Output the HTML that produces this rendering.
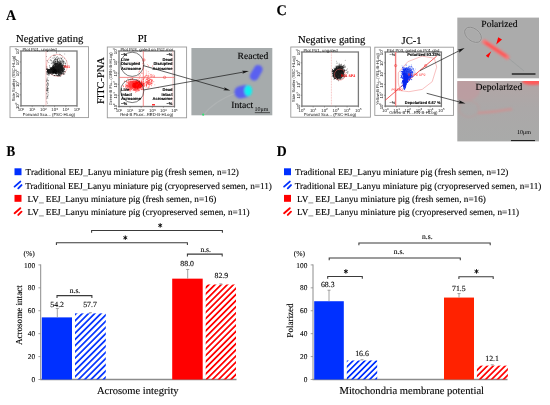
<!DOCTYPE html><html><head><meta charset="utf-8"><style>html,body{margin:0;padding:0;background:#fff;overflow:hidden}svg{display:block;will-change:transform}text{text-rendering:geometricPrecision}</style></head><body>
<svg width="550" height="405" viewBox="0 0 550 405">
<defs>
<pattern id="hb" patternUnits="userSpaceOnUse" width="4.4" height="10" patternTransform="translate(75.2,320.6) rotate(45)"><rect x="0" y="-1" width="0.85" height="12" fill="#0030ff"/><rect x="3.55" y="-1" width="0.85" height="12" fill="#0030ff"/></pattern>
<pattern id="hr" patternUnits="userSpaceOnUse" width="4.35" height="10" patternTransform="translate(209.2,284.3) rotate(45)"><rect x="0" y="-1" width="0.87" height="12" fill="#ff0000"/><rect x="3.48" y="-1" width="0.87" height="12" fill="#ff0000"/></pattern>
<pattern id="hb2" patternUnits="userSpaceOnUse" width="4.17" height="10" patternTransform="translate(347.5,360.4) rotate(45)"><rect x="0" y="-1" width="0.85" height="12" fill="#0030ff"/><rect x="3.32" y="-1" width="0.85" height="12" fill="#0030ff"/></pattern>
<pattern id="hr2" patternUnits="userSpaceOnUse" width="4.2" height="10" patternTransform="translate(481.6,365.7) rotate(45)"><rect x="0" y="-1" width="0.87" height="12" fill="#ff0000"/><rect x="3.33" y="-1" width="0.87" height="12" fill="#ff0000"/></pattern>
<filter id="blur1" x="-50%" y="-50%" width="200%" height="200%"><feGaussianBlur stdDeviation="1.2"/></filter>
<filter id="blur05" x="-50%" y="-50%" width="200%" height="200%"><feGaussianBlur stdDeviation="0.7"/></filter><filter id="blurc" x="-50%" y="-50%" width="200%" height="200%"><feGaussianBlur stdDeviation="1.1"/></filter>
<filter id="blur03" x="-50%" y="-50%" width="200%" height="200%"><feGaussianBlur stdDeviation="0.35"/></filter>
<clipPath id="clA"><rect x="191.4" y="48" width="80.6" height="67.5"/></clipPath>
<clipPath id="clP"><rect x="457.3" y="17.6" width="81.7" height="60.7"/></clipPath>
<clipPath id="clD"><rect x="457.3" y="81" width="81.7" height="60.4"/></clipPath>
</defs>
<rect width="550" height="405" fill="#fff"/>
<text x="0" y="0" transform="translate(5.9,20) scale(0.95,1)" font-size="14.8" font-weight="bold" fill="#000" stroke="#000" stroke-width="0.15" font-family='"Liberation Serif", serif'>A</text>
<text x="0" y="0" transform="translate(276.6,15.4) scale(0.96,1)" font-size="14.8" font-weight="bold" fill="#000" stroke="#000" stroke-width="0.15" font-family='"Liberation Serif", serif'>C</text>
<text x="0" y="0" transform="translate(6.6,155.5) scale(0.88,1)" font-size="14.8" font-weight="bold" fill="#000" stroke="#000" stroke-width="0.15" font-family='"Liberation Serif", serif'>B</text>
<text x="0" y="0" transform="translate(276.8,155.6) scale(0.93,1)" font-size="14.8" font-weight="bold" fill="#000" stroke="#000" stroke-width="0.15" font-family='"Liberation Serif", serif'>D</text>
<text x="16" y="42" font-size="10.6" text-anchor="start" font-weight="normal" fill="#000" stroke="#000" stroke-width="0.15" font-family='"Liberation Serif", serif' >Negative gating</text>
<rect x="10" y="46.7" width="78.50" height="70.90" fill="#fff" stroke="#9a9a9a" stroke-width="0.9" />
<rect x="21" y="51" width="56.00" height="54.80" fill="#fff" stroke="#7a7a7a" stroke-width="1.3" />
<text x="22.5" y="50.5" font-size="4.3" text-anchor="start" font-weight="normal" fill="#111" font-family='"Liberation Sans", sans-serif' >Plot P01, ungated</text>
<line x1="21.0" y1="105.8" x2="21.0" y2="107.1" stroke="#555" stroke-width="0.5" />
<text x="21.0" y="111.39999999999999" font-size="4.4" text-anchor="middle" font-weight="normal" fill="#222" font-family='"Liberation Sans", sans-serif' >10<tspan font-size="3.0" dy="-1.6">0</tspan></text>
<line x1="32.2" y1="105.8" x2="32.2" y2="107.1" stroke="#555" stroke-width="0.5" />
<text x="32.2" y="111.39999999999999" font-size="4.4" text-anchor="middle" font-weight="normal" fill="#222" font-family='"Liberation Sans", sans-serif' >10<tspan font-size="3.0" dy="-1.6">1</tspan></text>
<line x1="43.4" y1="105.8" x2="43.4" y2="107.1" stroke="#555" stroke-width="0.5" />
<text x="43.4" y="111.39999999999999" font-size="4.4" text-anchor="middle" font-weight="normal" fill="#222" font-family='"Liberation Sans", sans-serif' >10<tspan font-size="3.0" dy="-1.6">2</tspan></text>
<line x1="54.6" y1="105.8" x2="54.6" y2="107.1" stroke="#555" stroke-width="0.5" />
<text x="54.6" y="111.39999999999999" font-size="4.4" text-anchor="middle" font-weight="normal" fill="#222" font-family='"Liberation Sans", sans-serif' >10<tspan font-size="3.0" dy="-1.6">3</tspan></text>
<line x1="65.8" y1="105.8" x2="65.8" y2="107.1" stroke="#555" stroke-width="0.5" />
<text x="65.8" y="111.39999999999999" font-size="4.4" text-anchor="middle" font-weight="normal" fill="#222" font-family='"Liberation Sans", sans-serif' >10<tspan font-size="3.0" dy="-1.6">4</tspan></text>
<line x1="77.0" y1="105.8" x2="77.0" y2="107.1" stroke="#555" stroke-width="0.5" />
<text x="77.0" y="111.39999999999999" font-size="4.4" text-anchor="middle" font-weight="normal" fill="#222" font-family='"Liberation Sans", sans-serif' >10<tspan font-size="3.0" dy="-1.6">5</tspan></text>
<line x1="19.7" y1="105.8" x2="21" y2="105.8" stroke="#555" stroke-width="0.5" />
<text x="0" y="0" transform="translate(18.7,105.8) rotate(-90)" font-size="4.3" text-anchor="middle" font-weight="normal" fill="#222" font-family='"Liberation Sans", sans-serif'>10<tspan font-size="3.0" dy="-1.6">0</tspan></text>
<line x1="19.7" y1="94.84" x2="21" y2="94.84" stroke="#555" stroke-width="0.5" />
<text x="0" y="0" transform="translate(18.7,94.84) rotate(-90)" font-size="4.3" text-anchor="middle" font-weight="normal" fill="#222" font-family='"Liberation Sans", sans-serif'>10<tspan font-size="3.0" dy="-1.6">1</tspan></text>
<line x1="19.7" y1="83.88" x2="21" y2="83.88" stroke="#555" stroke-width="0.5" />
<text x="0" y="0" transform="translate(18.7,83.88) rotate(-90)" font-size="4.3" text-anchor="middle" font-weight="normal" fill="#222" font-family='"Liberation Sans", sans-serif'>10<tspan font-size="3.0" dy="-1.6">2</tspan></text>
<line x1="19.7" y1="72.92" x2="21" y2="72.92" stroke="#555" stroke-width="0.5" />
<text x="0" y="0" transform="translate(18.7,72.92) rotate(-90)" font-size="4.3" text-anchor="middle" font-weight="normal" fill="#222" font-family='"Liberation Sans", sans-serif'>10<tspan font-size="3.0" dy="-1.6">3</tspan></text>
<line x1="19.7" y1="61.96" x2="21" y2="61.96" stroke="#555" stroke-width="0.5" />
<text x="0" y="0" transform="translate(18.7,61.96) rotate(-90)" font-size="4.3" text-anchor="middle" font-weight="normal" fill="#222" font-family='"Liberation Sans", sans-serif'>10<tspan font-size="3.0" dy="-1.6">4</tspan></text>
<line x1="19.7" y1="51.0" x2="21" y2="51.0" stroke="#555" stroke-width="0.5" />
<text x="0" y="0" transform="translate(18.7,51.0) rotate(-90)" font-size="4.3" text-anchor="middle" font-weight="normal" fill="#222" font-family='"Liberation Sans", sans-serif'>10<tspan font-size="3.0" dy="-1.6">5</tspan></text>
<text x="49.0" y="116.0" font-size="4.3" text-anchor="middle" font-weight="normal" fill="#111" font-family='"Liberation Sans", sans-serif' >Forward Sca... (FSC-HLog)</text>
<text x="0" y="0" transform="translate(14.5,78.4) rotate(-90)" font-size="4.1" text-anchor="middle" font-weight="normal" fill="#111" font-family='"Liberation Sans", sans-serif'>Side Scatter (SSC-HLog)</text>
<line x1="46" y1="51" x2="46" y2="105.8" stroke="#f0a0a0" stroke-width="0.6" />
<ellipse cx="57" cy="65.4" rx="10.5" ry="11" fill="none" stroke="#f48a8a" stroke-width="0.5"/>
<path d="M57.1,70.2h0.8M57.2,67.9h0.8M55.4,68.2h0.8M60.7,69.9h0.8M60.5,69.5h0.8M58.8,69.3h0.8M53.5,71.1h0.8M59.1,70.1h0.8M53.4,64.1h0.8M55.5,67.5h0.8M58.6,68.7h0.8M59.2,67.1h0.8M58.6,69.9h0.8M56.1,73.4h0.8M59.2,72.0h0.8M56.2,66.8h0.8M56.9,68.5h0.8M59.4,69.5h0.8M56.6,66.2h0.8M56.4,72.1h0.8M55.7,69.5h0.8M58.9,64.8h0.8M57.9,72.3h0.8M52.6,67.9h0.8M57.5,66.6h0.8M59.1,68.6h0.8M54.0,71.0h0.8M59.5,71.4h0.8M61.5,69.8h0.8M58.1,65.3h0.8M59.4,67.1h0.8M56.6,65.4h0.8M55.3,67.4h0.8M61.2,63.3h0.8M54.0,69.4h0.8M61.6,70.4h0.8M52.9,62.0h0.8M58.7,66.8h0.8M54.9,71.4h0.8M60.7,69.2h0.8M58.4,70.0h0.8M61.9,70.5h0.8M59.1,70.3h0.8M53.7,72.3h0.8M60.3,70.2h0.8M52.7,67.1h0.8M60.0,63.9h0.8M57.3,71.6h0.8M54.4,73.1h0.8M59.2,68.4h0.8M58.6,70.6h0.8M58.1,71.9h0.8M56.1,67.7h0.8M60.5,68.9h0.8M55.5,71.4h0.8M61.6,67.6h0.8M54.2,68.4h0.8M57.4,68.0h0.8M61.5,66.0h0.8M61.1,65.4h0.8M55.8,70.5h0.8M60.7,71.1h0.8M58.7,69.2h0.8M58.2,70.4h0.8M57.3,69.5h0.8M59.3,68.8h0.8M59.8,70.3h0.8M63.0,69.7h0.8M56.7,67.8h0.8M57.8,71.3h0.8M56.9,69.8h0.8M62.6,61.9h0.8M54.9,69.5h0.8M58.8,69.4h0.8M56.7,70.6h0.8M58.5,67.4h0.8M64.1,69.8h0.8M56.4,68.5h0.8M57.2,68.6h0.8M50.7,67.5h0.8M60.4,65.6h0.8M57.6,71.4h0.8M60.0,72.8h0.8M53.4,67.8h0.8M56.9,70.5h0.8M60.6,61.6h0.8M60.6,64.9h0.8M59.6,64.8h0.8M58.3,72.0h0.8M57.4,69.3h0.8M59.9,69.2h0.8M57.6,72.9h0.8M60.5,68.0h0.8M64.9,65.7h0.8M60.2,68.1h0.8M58.1,70.7h0.8M58.4,70.5h0.8M53.8,64.7h0.8M59.4,66.2h0.8M55.1,64.8h0.8M61.1,70.8h0.8M61.6,66.3h0.8M57.8,65.7h0.8M59.8,73.1h0.8M55.5,73.0h0.8M60.4,68.3h0.8M52.7,72.6h0.8M57.5,67.2h0.8M58.8,69.9h0.8M61.7,66.0h0.8M60.8,72.8h0.8M61.6,68.3h0.8M55.9,71.6h0.8M58.1,69.1h0.8M61.5,68.1h0.8M51.8,67.8h0.8M53.0,71.0h0.8M58.6,67.1h0.8M57.8,71.0h0.8M58.0,72.4h0.8M57.6,71.6h0.8M61.7,73.1h0.8M56.1,71.2h0.8M52.9,65.9h0.8M52.7,71.7h0.8M54.6,68.8h0.8M57.3,68.7h0.8M56.3,69.4h0.8M62.5,68.9h0.8M59.2,71.5h0.8M57.3,65.4h0.8M56.4,71.7h0.8M53.5,67.2h0.8M60.4,70.9h0.8M57.8,71.0h0.8M58.2,65.6h0.8M53.7,67.1h0.8M60.2,67.3h0.8M55.5,66.7h0.8M53.8,68.5h0.8M54.7,69.8h0.8M51.7,69.7h0.8M56.1,63.6h0.8M59.7,68.1h0.8M52.0,66.4h0.8M58.6,67.6h0.8M59.8,70.8h0.8M59.5,69.7h0.8M61.3,70.6h0.8M59.0,63.2h0.8M60.1,72.3h0.8M57.0,67.5h0.8M62.8,64.1h0.8M59.0,75.3h0.8M55.4,70.7h0.8M62.7,68.5h0.8M59.3,71.2h0.8M55.4,68.6h0.8M58.6,71.0h0.8M57.7,68.3h0.8M55.2,67.8h0.8M60.1,69.1h0.8M55.6,66.5h0.8M64.7,71.9h0.8M59.5,61.8h0.8M59.4,70.1h0.8M62.2,70.0h0.8M57.6,70.2h0.8M52.7,71.6h0.8M58.6,66.9h0.8M61.2,73.7h0.8M54.2,67.0h0.8M58.6,69.3h0.8M56.8,66.2h0.8M63.3,71.6h0.8M54.7,65.2h0.8M62.2,71.5h0.8M62.5,71.0h0.8M55.5,69.5h0.8M52.2,66.8h0.8M57.6,70.2h0.8M55.9,68.5h0.8M59.0,69.8h0.8M59.5,69.4h0.8M57.0,70.9h0.8M57.9,66.6h0.8M56.2,68.8h0.8M57.5,69.2h0.8M57.8,69.3h0.8M57.5,65.4h0.8M58.9,71.6h0.8M58.9,68.3h0.8M59.0,66.2h0.8M52.9,69.0h0.8M55.4,70.8h0.8M55.0,61.7h0.8M55.1,73.1h0.8M56.8,65.1h0.8M55.8,70.2h0.8M59.1,69.3h0.8M61.7,70.7h0.8M57.7,70.4h0.8M62.1,71.4h0.8M60.5,65.9h0.8M57.4,70.8h0.8M57.0,71.7h0.8M59.4,71.3h0.8M57.2,75.7h0.8M61.0,68.2h0.8M58.0,75.8h0.8M56.9,71.2h0.8M60.3,68.8h0.8M54.8,69.3h0.8M58.7,71.9h0.8M59.8,68.9h0.8M60.0,70.3h0.8M58.3,68.9h0.8M57.2,70.7h0.8M55.1,67.1h0.8M57.8,64.8h0.8M56.7,63.4h0.8M56.0,70.3h0.8M59.3,68.7h0.8M57.2,65.0h0.8M62.6,70.2h0.8M60.6,66.4h0.8M57.3,63.9h0.8M59.8,71.3h0.8M52.9,68.7h0.8M59.4,64.0h0.8M53.1,65.9h0.8M56.2,65.0h0.8M57.9,69.5h0.8M59.4,70.7h0.8M61.7,71.9h0.8M54.4,67.4h0.8M55.0,65.9h0.8M57.6,68.8h0.8M59.1,64.5h0.8M54.6,68.7h0.8M57.3,68.0h0.8M57.6,66.7h0.8M59.6,69.8h0.8M57.6,67.0h0.8M57.3,61.5h0.8M55.2,68.9h0.8M53.9,69.3h0.8M58.2,65.1h0.8M57.1,68.0h0.8M59.0,70.5h0.8M57.7,66.5h0.8M57.4,68.6h0.8M59.7,69.6h0.8M55.9,65.1h0.8M56.8,66.8h0.8M54.9,68.5h0.8M56.5,69.1h0.8M59.2,67.7h0.8M63.8,67.9h0.8M60.7,69.1h0.8M60.7,62.4h0.8M55.8,69.5h0.8M59.4,75.1h0.8M58.6,72.3h0.8M59.8,71.4h0.8M59.1,68.4h0.8M59.1,65.9h0.8M60.9,66.1h0.8M58.4,74.5h0.8M57.2,68.9h0.8M60.8,68.9h0.8M55.7,69.5h0.8M59.3,70.7h0.8M55.8,73.5h0.8M62.1,68.8h0.8M58.5,67.6h0.8M61.5,66.9h0.8M59.6,67.5h0.8M56.0,70.7h0.8M61.3,68.8h0.8M56.0,71.0h0.8M57.7,69.6h0.8M61.8,71.9h0.8M56.4,75.0h0.8M57.8,70.9h0.8M56.1,68.7h0.8M53.3,73.6h0.8M61.4,65.5h0.8M53.9,64.4h0.8M60.9,67.6h0.8M57.6,68.0h0.8M57.5,65.9h0.8M57.9,64.9h0.8M57.6,69.6h0.8M59.0,68.2h0.8M55.5,69.2h0.8M56.5,73.0h0.8M59.8,68.5h0.8M56.6,66.9h0.8M55.4,67.8h0.8M58.6,70.2h0.8M59.3,74.5h0.8M56.0,68.8h0.8M65.1,63.8h0.8M56.4,69.3h0.8M58.2,69.9h0.8M57.2,69.8h0.8M57.9,70.9h0.8M52.9,66.4h0.8M57.8,66.0h0.8M55.1,70.5h0.8M56.1,70.5h0.8M59.7,69.6h0.8M59.1,68.5h0.8M54.1,68.7h0.8M59.0,67.4h0.8M57.5,70.8h0.8M55.5,70.5h0.8M62.6,67.3h0.8M58.2,68.4h0.8M61.8,69.7h0.8M60.1,66.9h0.8M57.8,68.8h0.8M53.2,72.7h0.8M60.1,64.1h0.8M59.7,68.4h0.8M59.0,69.8h0.8M53.9,68.2h0.8M61.7,67.2h0.8M55.1,65.1h0.8M54.6,69.7h0.8M62.2,70.0h0.8M58.4,74.8h0.8M56.4,67.0h0.8M59.2,70.3h0.8M55.2,65.6h0.8M58.6,69.5h0.8M54.4,68.3h0.8M56.4,70.0h0.8M57.5,68.6h0.8M56.9,71.6h0.8M61.4,67.8h0.8M60.0,66.8h0.8M58.0,70.8h0.8M61.7,67.8h0.8M57.6,69.3h0.8M53.9,68.8h0.8M56.0,69.8h0.8M54.9,63.5h0.8M57.9,69.5h0.8M56.4,71.2h0.8M57.1,67.2h0.8M59.0,64.6h0.8M56.0,68.7h0.8M60.0,68.4h0.8M58.6,67.0h0.8M58.6,73.3h0.8M56.0,75.2h0.8M56.1,68.8h0.8M58.3,71.6h0.8M54.6,63.1h0.8M59.4,70.9h0.8M59.4,75.9h0.8M58.3,69.5h0.8M60.2,69.8h0.8M62.1,65.5h0.8M56.8,59.5h0.8M59.9,67.8h0.8M60.2,74.6h0.8M57.8,68.1h0.8M56.5,66.5h0.8M56.2,70.5h0.8M57.9,69.0h0.8M57.3,71.3h0.8M59.1,68.4h0.8M59.5,68.4h0.8M54.8,72.7h0.8M59.0,66.2h0.8M60.6,69.7h0.8M53.7,73.1h0.8M58.7,71.2h0.8M58.3,68.4h0.8M53.8,71.4h0.8M57.9,68.0h0.8M58.7,69.0h0.8M59.6,67.8h0.8M57.7,63.0h0.8M56.7,70.6h0.8M61.3,67.8h0.8M57.5,73.1h0.8M57.0,70.8h0.8M62.2,68.9h0.8M61.0,66.9h0.8M58.3,68.6h0.8M58.1,71.9h0.8M64.0,67.0h0.8M56.3,70.1h0.8M55.1,70.1h0.8M59.3,68.1h0.8M59.2,64.6h0.8M59.8,64.6h0.8M56.0,67.3h0.8M56.8,71.1h0.8M58.0,67.7h0.8M59.2,73.1h0.8M57.8,69.8h0.8M61.0,69.5h0.8M54.5,75.5h0.8M63.5,63.4h0.8M57.7,69.9h0.8M60.3,70.6h0.8M57.1,66.0h0.8M58.1,71.6h0.8M55.0,66.0h0.8M57.7,63.6h0.8M57.1,67.6h0.8M59.0,66.9h0.8M55.5,67.7h0.8M57.7,67.0h0.8M57.8,70.8h0.8M60.9,73.4h0.8M55.8,67.7h0.8M51.3,73.9h0.8M55.9,68.7h0.8M59.2,65.1h0.8M59.0,68.7h0.8M53.1,69.6h0.8M60.9,63.8h0.8M59.9,69.4h0.8M59.0,70.0h0.8M61.2,68.2h0.8M60.1,67.7h0.8M59.7,66.6h0.8M57.5,73.5h0.8M59.0,68.4h0.8M54.8,66.7h0.8M58.3,71.3h0.8M58.9,70.2h0.8M57.7,72.5h0.8M56.8,67.3h0.8M60.1,69.0h0.8M57.1,67.2h0.8M57.1,70.5h0.8M58.7,65.5h0.8M58.9,69.3h0.8M55.2,70.9h0.8M57.1,67.9h0.8M59.9,72.4h0.8M56.0,70.0h0.8M55.5,75.0h0.8M56.5,72.0h0.8M56.1,71.0h0.8M63.6,61.9h0.8M56.7,70.2h0.8M57.6,67.0h0.8M63.4,69.0h0.8M53.5,71.1h0.8M53.3,71.9h0.8M56.3,69.2h0.8M61.1,69.1h0.8M54.2,64.2h0.8M60.9,70.8h0.8M55.7,71.1h0.8M59.1,70.5h0.8M51.9,68.0h0.8M60.1,70.8h0.8M60.1,62.2h0.8M58.2,70.1h0.8M64.4,66.2h0.8M56.9,68.9h0.8M60.1,67.6h0.8M60.8,66.7h0.8M58.5,67.4h0.8M58.2,66.9h0.8M53.6,71.8h0.8M58.6,67.3h0.8M58.3,71.5h0.8M55.3,68.5h0.8M59.2,70.2h0.8M56.9,63.1h0.8M61.0,69.7h0.8M57.8,68.0h0.8M58.5,67.7h0.8M55.1,66.8h0.8M56.2,67.1h0.8M54.8,70.5h0.8M54.4,70.6h0.8M55.2,69.8h0.8M61.4,69.3h0.8M55.9,68.9h0.8M58.2,64.1h0.8M56.2,69.2h0.8M56.6,69.0h0.8M59.7,70.9h0.8M60.2,70.4h0.8M57.1,68.8h0.8M57.1,68.0h0.8M57.3,64.1h0.8M56.9,68.7h0.8M55.3,68.7h0.8M59.1,68.4h0.8M63.2,61.8h0.8M57.3,63.9h0.8M60.3,76.0h0.8M51.3,69.1h0.8M59.1,68.0h0.8M59.2,62.7h0.8M60.0,69.8h0.8M57.9,67.2h0.8M59.5,67.5h0.8M58.4,67.4h0.8M52.0,68.7h0.8M58.3,70.8h0.8M55.5,68.7h0.8M59.4,69.2h0.8M61.0,74.2h0.8M55.4,63.6h0.8M60.0,72.9h0.8M60.2,71.0h0.8M56.2,66.9h0.8M60.1,66.3h0.8M53.1,66.1h0.8M64.3,74.0h0.8M56.0,66.8h0.8M58.4,66.8h0.8M61.2,68.6h0.8M55.0,72.3h0.8M56.3,69.4h0.8M57.8,68.0h0.8M58.6,66.9h0.8M53.0,62.8h0.8M54.5,66.8h0.8M57.7,68.9h0.8M59.2,69.1h0.8M55.7,66.9h0.8M52.3,68.3h0.8M59.1,70.2h0.8M57.5,68.3h0.8M60.2,68.8h0.8M59.7,70.4h0.8M58.4,72.3h0.8M56.3,67.8h0.8M55.7,66.6h0.8M61.8,73.6h0.8M57.9,70.3h0.8M60.9,71.0h0.8M60.9,65.4h0.8M56.1,70.0h0.8M61.5,69.1h0.8M55.6,67.8h0.8M56.1,66.5h0.8M61.7,67.1h0.8M57.9,74.6h0.8M60.9,69.7h0.8M56.2,69.9h0.8M62.0,70.5h0.8M61.1,69.1h0.8M59.1,68.3h0.8M58.9,72.3h0.8M54.1,68.6h0.8M58.4,67.3h0.8M57.0,70.9h0.8M63.0,70.5h0.8M58.6,64.6h0.8M62.8,69.0h0.8M57.7,65.8h0.8M57.7,65.8h0.8M58.0,70.1h0.8M57.9,69.6h0.8M55.6,72.7h0.8M56.1,63.9h0.8M57.3,66.7h0.8M55.2,67.8h0.8M58.6,65.6h0.8M57.4,72.7h0.8M59.6,68.4h0.8M58.1,68.5h0.8M57.7,70.8h0.8M57.6,62.3h0.8M57.7,66.4h0.8M59.5,67.2h0.8M58.2,74.7h0.8M55.1,65.8h0.8M54.1,62.3h0.8M52.9,69.8h0.8M56.1,63.8h0.8M53.9,70.5h0.8M55.8,67.8h0.8M58.7,72.5h0.8M62.8,71.6h0.8M58.2,69.3h0.8M62.5,72.7h0.8M57.0,70.0h0.8M58.5,68.9h0.8M56.5,65.2h0.8M56.4,64.6h0.8M61.0,70.2h0.8M54.7,72.6h0.8M60.1,63.6h0.8M62.6,71.0h0.8M63.2,65.5h0.8M59.2,69.9h0.8M58.3,69.3h0.8M60.5,64.8h0.8M54.6,65.0h0.8M56.4,67.2h0.8M58.8,69.5h0.8M57.9,67.0h0.8M56.7,71.4h0.8M59.8,69.1h0.8M57.0,73.0h0.8M56.3,70.6h0.8M60.8,68.1h0.8M59.9,65.8h0.8M60.4,69.3h0.8M53.7,70.6h0.8M55.5,72.3h0.8M56.0,68.4h0.8M58.5,67.9h0.8M58.5,67.3h0.8M59.5,68.8h0.8M58.3,61.4h0.8M60.8,68.9h0.8M53.2,69.1h0.8M59.0,71.7h0.8M55.0,73.0h0.8M57.4,75.3h0.8M57.4,70.6h0.8M56.8,65.8h0.8M60.7,71.2h0.8M61.8,71.1h0.8M56.3,64.3h0.8M56.1,67.0h0.8M55.7,70.4h0.8M58.7,68.1h0.8M58.2,68.4h0.8M58.4,70.8h0.8M60.3,66.9h0.8M53.9,72.7h0.8M58.1,71.8h0.8M53.5,67.9h0.8M57.9,64.9h0.8M56.5,70.8h0.8M60.6,73.1h0.8M55.6,65.0h0.8M59.2,71.3h0.8M58.3,65.3h0.8M59.8,70.9h0.8M59.2,67.5h0.8M58.6,70.9h0.8M56.3,63.8h0.8M58.7,70.1h0.8M57.8,71.2h0.8M56.3,68.6h0.8M57.0,70.3h0.8M61.9,68.1h0.8M63.1,72.9h0.8M59.9,70.4h0.8M62.4,68.3h0.8M57.5,65.9h0.8M59.0,72.4h0.8M59.2,69.9h0.8M57.3,69.3h0.8M54.1,71.6h0.8M56.7,65.8h0.8M55.8,66.6h0.8M60.0,71.7h0.8M54.3,71.3h0.8M60.1,67.2h0.8M53.9,66.8h0.8M56.2,69.7h0.8M56.9,63.3h0.8M58.4,64.7h0.8M60.2,65.5h0.8M56.0,66.5h0.8M56.4,72.3h0.8M60.0,70.4h0.8M58.6,64.6h0.8M56.4,67.3h0.8M55.3,70.2h0.8M55.9,66.9h0.8M55.1,63.2h0.8M59.3,72.4h0.8M58.3,66.2h0.8M50.8,69.3h0.8M61.0,69.6h0.8M60.2,72.8h0.8M60.7,67.6h0.8M60.5,70.9h0.8M53.8,67.7h0.8M54.1,68.5h0.8M59.3,65.9h0.8M52.5,72.3h0.8M58.8,72.8h0.8M54.4,71.7h0.8M63.2,74.2h0.8M57.3,69.5h0.8M57.4,71.5h0.8M60.5,69.0h0.8M54.3,70.8h0.8M56.6,70.5h0.8M58.5,73.2h0.8M60.8,67.6h0.8M58.7,73.6h0.8M56.4,70.0h0.8M60.9,72.2h0.8M59.1,65.2h0.8M54.5,69.5h0.8M58.8,75.7h0.8M55.6,71.9h0.8M59.8,64.3h0.8M55.7,69.2h0.8M56.5,68.4h0.8M59.0,66.6h0.8M59.0,67.1h0.8M56.4,70.2h0.8M56.3,69.6h0.8M62.0,68.9h0.8M57.4,70.8h0.8M56.8,71.7h0.8M54.5,70.5h0.8M56.5,66.6h0.8M62.4,66.5h0.8M62.4,70.6h0.8M61.6,66.2h0.8M60.9,72.7h0.8M57.5,68.5h0.8M64.2,69.3h0.8M56.7,67.1h0.8M59.0,69.7h0.8M58.3,73.4h0.8M56.9,70.1h0.8M61.6,66.1h0.8M60.5,73.7h0.8M54.3,65.8h0.8M55.1,63.8h0.8M59.0,63.8h0.8M59.1,72.7h0.8M53.6,67.9h0.8M52.8,70.9h0.8M55.9,68.1h0.8M57.9,70.3h0.8M56.9,68.8h0.8M56.4,69.1h0.8M54.8,69.0h0.8M52.8,67.5h0.8M62.8,69.0h0.8M54.5,69.5h0.8M55.3,64.3h0.8M55.9,70.8h0.8M58.8,68.5h0.8M55.4,65.9h0.8M61.3,69.5h0.8M55.3,63.1h0.8M54.2,75.5h0.8M54.8,68.6h0.8M58.3,68.4h0.8M57.1,65.1h0.8M55.1,73.4h0.8M55.8,71.1h0.8M53.4,68.1h0.8M58.5,71.6h0.8M54.9,70.4h0.8M58.8,66.8h0.8M59.0,66.4h0.8M55.7,68.7h0.8M50.7,68.5h0.8M55.2,64.9h0.8M56.7,70.9h0.8M56.7,72.2h0.8M54.8,65.3h0.8M61.8,69.9h0.8M60.3,66.6h0.8M59.9,69.5h0.8M59.5,68.9h0.8M60.9,67.0h0.8M55.3,64.8h0.8M60.8,66.8h0.8M55.1,66.3h0.8M56.6,65.4h0.8M57.0,67.1h0.8M56.4,66.2h0.8M57.9,67.6h0.8M58.1,69.5h0.8M58.7,62.9h0.8M56.4,66.7h0.8M59.8,64.5h0.8M55.9,68.0h0.8M56.9,71.5h0.8M56.6,71.4h0.8M54.0,63.9h0.8M61.0,70.0h0.8M59.1,69.1h0.8M59.1,65.5h0.8M60.3,67.4h0.8M60.4,69.0h0.8M52.7,65.3h0.8M60.7,68.4h0.8M56.8,69.5h0.8M56.7,67.3h0.8M58.1,69.2h0.8M61.7,68.9h0.8M62.7,73.7h0.8M62.3,71.7h0.8M58.1,69.2h0.8M57.4,66.8h0.8M57.6,67.1h0.8M62.1,70.2h0.8M56.6,63.6h0.8M57.7,67.7h0.8M55.0,65.7h0.8M51.9,70.3h0.8M57.6,75.8h0.8M57.7,68.4h0.8M61.6,69.2h0.8M58.2,67.8h0.8M56.2,72.8h0.8M60.4,73.4h0.8M56.9,68.9h0.8M55.5,71.4h0.8M54.2,70.3h0.8M60.6,72.6h0.8M55.4,71.7h0.8M55.9,66.8h0.8M54.4,71.9h0.8M62.1,67.2h0.8M55.8,67.9h0.8M64.3,71.5h0.8M56.4,64.0h0.8M56.1,72.0h0.8M62.7,68.1h0.8M56.0,67.4h0.8M52.9,71.3h0.8M55.0,71.7h0.8M53.4,65.4h0.8M58.5,66.7h0.8M59.8,68.8h0.8M54.7,70.5h0.8M60.0,63.6h0.8M62.5,70.1h0.8M59.8,63.8h0.8M55.9,67.9h0.8M60.6,64.9h0.8M55.5,63.3h0.8M57.2,69.7h0.8M53.4,67.2h0.8M59.1,73.1h0.8M59.5,68.0h0.8M54.7,66.3h0.8M56.1,69.2h0.8" stroke="#000" stroke-width="0.84" opacity="0.9"/>
<path d="M50.4,73.1h0.8M51.2,69.3h0.8M54.5,72.1h0.8M50.8,69.8h0.8M52.9,69.7h0.8M47.1,71.1h0.8M51.1,71.6h0.8M52.2,72.8h0.8M48.3,72.2h0.8M47.9,71.8h0.8M51.0,71.1h0.8M53.0,70.8h0.8M53.4,72.0h0.8M50.9,70.0h0.8M48.5,70.1h0.8M50.0,70.8h0.8M58.3,71.7h0.8M52.5,69.6h0.8M48.7,70.4h0.8M51.0,69.3h0.8M54.7,70.0h0.8M53.3,67.5h0.8M50.5,71.2h0.8M51.0,71.6h0.8M51.2,71.0h0.8M51.3,70.5h0.8M48.4,70.0h0.8M55.3,73.2h0.8M50.3,72.6h0.8M46.4,68.1h0.8M49.2,69.6h0.8M49.0,71.1h0.8M58.4,69.9h0.8M50.6,71.2h0.8M50.4,72.1h0.8M55.1,69.1h0.8M50.9,70.4h0.8M51.4,68.7h0.8M51.9,71.1h0.8M50.7,67.5h0.8M49.5,69.7h0.8M46.8,69.5h0.8M52.3,71.6h0.8M50.4,71.5h0.8M48.9,70.9h0.8M50.6,71.6h0.8M50.3,70.6h0.8M50.1,69.9h0.8M56.3,71.5h0.8M51.6,74.0h0.8M54.1,68.6h0.8M52.3,72.0h0.8M55.4,72.6h0.8M52.5,69.2h0.8M48.2,71.2h0.8M51.8,69.4h0.8M49.5,70.2h0.8M50.7,71.3h0.8M49.8,69.1h0.8M53.7,73.0h0.8M50.2,72.2h0.8M51.7,71.7h0.8M51.8,69.7h0.8M52.0,72.2h0.8M48.2,73.6h0.8M55.9,73.4h0.8M55.7,71.8h0.8M49.6,70.0h0.8M48.4,71.0h0.8M50.4,71.7h0.8M56.4,70.8h0.8M52.3,71.5h0.8M51.2,70.5h0.8M50.2,69.6h0.8M51.0,70.8h0.8M51.3,69.6h0.8M50.6,70.9h0.8M52.1,69.3h0.8M51.6,72.2h0.8M52.1,70.3h0.8M49.2,70.5h0.8M52.4,73.0h0.8M50.1,69.9h0.8M51.5,71.1h0.8M48.1,69.8h0.8M50.2,71.7h0.8M47.4,69.4h0.8M51.8,69.1h0.8M50.8,71.3h0.8M50.2,69.4h0.8M50.3,70.3h0.8M51.4,69.6h0.8M53.3,68.5h0.8M50.0,70.8h0.8M53.0,69.9h0.8M51.9,70.0h0.8M52.4,73.2h0.8M49.5,71.4h0.8M48.1,72.2h0.8M53.6,70.8h0.8M47.5,71.4h0.8M53.5,72.3h0.8M52.6,68.2h0.8M48.7,72.8h0.8M47.3,72.4h0.8M55.4,71.9h0.8M53.4,70.3h0.8M47.3,70.7h0.8M50.0,70.7h0.8M52.3,70.6h0.8M51.0,71.4h0.8M50.5,73.4h0.8M51.7,70.9h0.8M50.0,69.9h0.8M54.0,71.0h0.8M47.7,70.0h0.8M50.1,70.2h0.8M53.3,69.2h0.8M51.8,71.0h0.8M47.4,70.9h0.8M50.3,71.5h0.8M49.3,71.2h0.8M46.2,69.3h0.8M52.5,72.3h0.8M50.5,70.0h0.8M53.3,67.9h0.8M48.4,71.7h0.8M52.2,69.4h0.8M50.9,69.5h0.8M50.6,72.1h0.8M52.4,67.9h0.8M52.5,68.3h0.8M53.5,71.4h0.8M56.4,69.9h0.8M50.5,72.3h0.8M48.8,69.8h0.8M49.5,70.7h0.8M47.7,71.5h0.8M51.9,70.9h0.8M54.9,70.3h0.8M53.9,70.0h0.8M52.5,68.1h0.8M51.0,70.6h0.8M49.2,69.9h0.8M49.6,69.8h0.8M49.1,70.1h0.8M47.7,70.6h0.8M52.5,70.4h0.8M49.2,72.7h0.8M53.0,72.1h0.8M53.5,70.3h0.8M50.2,72.4h0.8M49.1,70.6h0.8M51.5,71.3h0.8M49.8,72.2h0.8M50.0,71.8h0.8M53.3,71.7h0.8M52.4,69.2h0.8M47.1,69.9h0.8M51.7,72.9h0.8M47.3,71.2h0.8M48.3,69.8h0.8M49.8,71.8h0.8M51.1,72.5h0.8M47.9,72.0h0.8M52.9,70.9h0.8M51.7,70.0h0.8M47.7,70.2h0.8M48.8,74.8h0.8M49.2,73.1h0.8M51.0,71.2h0.8M52.4,69.7h0.8M52.9,71.3h0.8M46.6,71.6h0.8M51.9,71.4h0.8M54.6,70.2h0.8M51.8,71.8h0.8M48.2,72.5h0.8M46.7,69.0h0.8M51.9,69.3h0.8M50.2,68.5h0.8M50.7,69.2h0.8M51.4,68.7h0.8M51.7,70.4h0.8M50.7,70.7h0.8M50.8,69.0h0.8M48.1,70.2h0.8M51.6,68.0h0.8M48.5,69.9h0.8M47.8,71.3h0.8M50.1,69.7h0.8M47.9,71.9h0.8M48.8,71.6h0.8M51.7,68.1h0.8M47.7,70.8h0.8M51.4,71.9h0.8M52.6,72.2h0.8M49.5,70.5h0.8M52.5,70.2h0.8M53.2,68.6h0.8M52.2,70.6h0.8M51.3,70.8h0.8M47.7,70.1h0.8M54.4,69.6h0.8M47.4,70.6h0.8M49.5,69.5h0.8M48.3,72.3h0.8M46.7,73.5h0.8M49.1,69.3h0.8M52.5,71.6h0.8M47.8,71.8h0.8M53.4,70.4h0.8M47.1,71.5h0.8M52.9,70.8h0.8M51.6,71.9h0.8M55.3,70.4h0.8M49.2,70.7h0.8M53.6,69.5h0.8M53.9,67.0h0.8M52.6,69.9h0.8M51.7,71.8h0.8M47.4,70.7h0.8M51.1,71.6h0.8M48.1,69.4h0.8M50.0,70.5h0.8M46.6,72.1h0.8M49.1,72.8h0.8M52.7,70.8h0.8M52.4,69.2h0.8M49.7,70.0h0.8M47.2,70.8h0.8M50.1,72.8h0.8M48.1,70.2h0.8M51.6,71.4h0.8M50.6,70.1h0.8M51.8,71.3h0.8M46.9,69.1h0.8M50.9,70.9h0.8M50.8,69.6h0.8M50.0,69.5h0.8M51.5,71.8h0.8M55.1,72.6h0.8M48.4,70.2h0.8M48.1,71.2h0.8M55.6,71.8h0.8M47.1,71.5h0.8M50.5,71.2h0.8M55.1,69.6h0.8M48.3,73.6h0.8M51.4,69.7h0.8M50.6,72.2h0.8M50.1,69.8h0.8M48.6,73.5h0.8M50.6,71.7h0.8M49.4,71.5h0.8M52.6,70.6h0.8M49.3,70.5h0.8M48.0,70.5h0.8M49.7,71.1h0.8M54.0,72.6h0.8M49.3,71.6h0.8M51.3,71.9h0.8M50.6,71.2h0.8M49.3,69.7h0.8M52.8,72.6h0.8M52.2,71.4h0.8M51.2,70.2h0.8M51.0,70.0h0.8M48.0,72.6h0.8M52.2,74.1h0.8M48.6,70.8h0.8M49.2,71.0h0.8M50.0,69.8h0.8M53.3,69.7h0.8M49.2,71.6h0.8M49.1,70.2h0.8M51.4,70.3h0.8M47.3,70.7h0.8M49.9,73.2h0.8M47.6,72.2h0.8M48.5,70.3h0.8M49.7,71.2h0.8M52.7,73.2h0.8M48.8,72.7h0.8M53.1,71.9h0.8M48.5,72.1h0.8M50.2,71.3h0.8M49.8,71.7h0.8M53.4,72.4h0.8M50.0,72.2h0.8M54.3,69.5h0.8M54.3,68.9h0.8M51.9,71.6h0.8M54.4,71.2h0.8M49.3,69.7h0.8M47.2,71.9h0.8M49.9,69.8h0.8M51.9,69.7h0.8M49.4,70.2h0.8M54.8,72.8h0.8M50.1,68.6h0.8M51.2,70.9h0.8M51.4,71.6h0.8M49.7,72.1h0.8M52.7,71.1h0.8M49.4,70.1h0.8M52.3,69.3h0.8M50.1,69.8h0.8" stroke="#000" stroke-width="0.84" opacity="0.9"/>
<path d="M46.0,90.8h0.6M47.0,86.3h0.6M47.6,74.0h0.6M47.0,88.3h0.6M47.6,77.3h0.6M47.5,87.8h0.6M47.9,95.1h0.6M47.4,103.2h0.6M47.0,82.6h0.6M46.8,78.5h0.6M47.0,71.0h0.6M46.9,89.4h0.6M47.7,83.2h0.6M48.0,80.8h0.6M46.9,71.0h0.6M46.5,79.7h0.6M48.0,90.1h0.6M46.2,90.2h0.6M47.3,84.2h0.6M47.0,83.6h0.6M46.6,72.2h0.6M46.9,96.0h0.6M48.0,83.8h0.6M46.5,84.3h0.6M47.6,88.7h0.6M46.6,88.8h0.6M46.9,90.0h0.6M46.7,74.5h0.6M47.0,91.9h0.6M46.2,85.2h0.6M47.6,83.1h0.6M46.6,101.8h0.6M47.6,94.0h0.6M46.4,98.7h0.6M47.5,96.4h0.6M46.4,80.8h0.6M47.1,71.0h0.6M47.4,90.4h0.6M46.7,90.2h0.6M47.5,88.4h0.6M47.4,97.8h0.6M46.7,87.3h0.6M46.6,94.0h0.6M46.7,89.7h0.6M47.1,86.5h0.6M48.2,85.3h0.6M48.0,92.4h0.6M47.9,84.7h0.6M47.6,91.9h0.6M46.6,88.1h0.6M46.9,85.7h0.6M47.9,80.4h0.6M46.7,81.0h0.6M47.0,90.4h0.6M48.2,88.4h0.6M47.3,80.3h0.6M47.4,96.5h0.6M47.9,70.9h0.6M47.6,98.2h0.6M47.6,74.5h0.6M46.8,90.5h0.6M47.3,79.7h0.6M46.4,93.4h0.6M46.1,97.1h0.6M47.0,88.3h0.6M46.1,81.4h0.6M47.5,74.7h0.6M48.4,75.2h0.6" stroke="#111" stroke-width="0.60" opacity="0.9"/>
<path d="M52.1,62.7h0.6M58.9,65.5h0.6M55.5,61.7h0.6M56.0,60.2h0.6M46.6,66.4h0.6M58.0,63.1h0.6M54.5,63.5h0.6M56.9,62.2h0.6M61.5,55.5h0.6M58.0,58.2h0.6M55.7,68.5h0.6M52.6,62.1h0.6M54.6,66.3h0.6M53.0,55.7h0.6M59.1,61.1h0.6M55.7,66.9h0.6M53.4,61.0h0.6M57.6,64.2h0.6M54.9,66.7h0.6M66.0,60.9h0.6M64.5,54.0h0.6M62.7,61.1h0.6M57.6,61.1h0.6M54.4,57.3h0.6M55.4,67.7h0.6M61.6,61.1h0.6M54.9,59.7h0.6M52.2,69.8h0.6M59.7,63.0h0.6M55.0,58.4h0.6M62.3,65.6h0.6M53.2,66.5h0.6M52.5,65.1h0.6M53.1,60.8h0.6M59.0,64.2h0.6M61.1,59.1h0.6M63.4,67.9h0.6M57.0,64.4h0.6M53.9,61.9h0.6M51.7,62.9h0.6M57.8,67.9h0.6M60.8,65.8h0.6M55.5,61.6h0.6M55.6,63.4h0.6M49.2,65.6h0.6M50.7,60.4h0.6M57.1,60.4h0.6M63.7,62.1h0.6M63.3,67.2h0.6M55.0,64.1h0.6M62.2,61.2h0.6M57.4,60.2h0.6M57.2,61.1h0.6M57.3,66.5h0.6M62.6,63.0h0.6M57.8,66.0h0.6M55.8,58.2h0.6M61.5,58.7h0.6M60.8,58.6h0.6M64.4,58.3h0.6M60.4,68.5h0.6M53.1,68.5h0.6M53.7,55.4h0.6M59.9,65.3h0.6M56.2,52.3h0.6M56.8,61.3h0.6M55.5,61.3h0.6M49.8,60.2h0.6M64.3,68.7h0.6M55.5,59.6h0.6M58.6,66.8h0.6M59.9,57.8h0.6M57.7,63.1h0.6M62.8,67.3h0.6M59.1,67.4h0.6M55.4,68.7h0.6M55.3,64.1h0.6M60.7,58.8h0.6M54.2,55.4h0.6M57.7,62.3h0.6M55.7,64.5h0.6M48.5,62.4h0.6M57.4,61.4h0.6M60.2,69.6h0.6M55.2,58.7h0.6M54.6,62.9h0.6M59.4,59.0h0.6M61.0,58.4h0.6M60.3,64.2h0.6M58.9,71.2h0.6M55.9,61.8h0.6M58.9,66.0h0.6M51.6,63.6h0.6M54.0,65.0h0.6M62.5,62.7h0.6M56.6,63.2h0.6M59.3,63.2h0.6M55.4,59.6h0.6M56.3,67.4h0.6M56.6,67.9h0.6M46.6,60.6h0.6M58.1,62.4h0.6M50.3,59.8h0.6M62.0,57.3h0.6M53.0,58.1h0.6M54.8,65.1h0.6M59.4,54.3h0.6M62.9,60.1h0.6M54.6,69.2h0.6M56.7,57.5h0.6M54.4,59.6h0.6M52.9,61.2h0.6M60.5,63.9h0.6M51.4,73.7h0.6M53.0,63.0h0.6M57.1,65.6h0.6M55.7,64.3h0.6M65.5,62.9h0.6M52.6,63.8h0.6M53.8,61.0h0.6M57.8,63.9h0.6M55.9,65.9h0.6M56.2,57.2h0.6M60.5,61.0h0.6M61.9,59.9h0.6M59.3,63.8h0.6M46.1,56.5h0.6M52.5,68.2h0.6M49.4,66.2h0.6M61.4,64.5h0.6M59.7,60.5h0.6M57.0,63.4h0.6M58.7,65.4h0.6M56.2,59.7h0.6M54.7,64.2h0.6M50.3,57.4h0.6M55.3,60.3h0.6M55.9,51.8h0.6M55.6,61.5h0.6M60.1,54.5h0.6M55.8,64.4h0.6M59.0,67.3h0.6M61.3,58.3h0.6M59.6,61.1h0.6M53.8,68.7h0.6M54.5,59.1h0.6M55.4,59.1h0.6M61.1,64.0h0.6M62.7,64.2h0.6M54.5,66.7h0.6M54.4,60.6h0.6M56.3,62.7h0.6M61.8,60.1h0.6M58.4,62.4h0.6M51.9,58.1h0.6M56.1,64.1h0.6M58.3,64.4h0.6M57.2,60.7h0.6M58.7,58.4h0.6M51.6,61.2h0.6M51.2,60.4h0.6M54.0,60.3h0.6M56.8,59.3h0.6M55.3,55.6h0.6M57.6,58.9h0.6M58.6,51.1h0.6M53.8,63.5h0.6M47.1,61.0h0.6M57.4,62.9h0.6M50.9,63.4h0.6M57.6,58.6h0.6M60.0,62.3h0.6M57.1,60.7h0.6M59.2,62.9h0.6M61.6,64.3h0.6M54.5,61.6h0.6M60.7,61.0h0.6M58.6,64.6h0.6M56.3,53.1h0.6M57.5,63.4h0.6M57.6,59.4h0.6M61.9,62.0h0.6M54.5,59.6h0.6M58.5,58.1h0.6M52.9,70.6h0.6M62.3,66.8h0.6M62.5,64.9h0.6M50.2,67.4h0.6M62.0,64.5h0.6M49.0,67.6h0.6M62.6,60.5h0.6M57.5,65.7h0.6M56.7,67.0h0.6M57.3,65.3h0.6M57.3,56.5h0.6M53.0,75.4h0.6M58.1,67.8h0.6M61.6,69.5h0.6M59.3,60.1h0.6" stroke="#222" stroke-width="0.60" opacity="0.9"/>
<text x="63.5" y="67.5" font-size="3.6" text-anchor="start" font-weight="bold" fill="#e00" font-family='"Liberation Sans", sans-serif' >R01</text>
<text x="137.7" y="42.3" font-size="10.6" text-anchor="start" font-weight="normal" fill="#000" stroke="#000" stroke-width="0.15" font-family='"Liberation Serif", serif' >PI</text>
<text x="0" y="0" transform="translate(103.7,80.7) rotate(-90)" font-size="10.4" text-anchor="middle" font-weight="normal" fill="#000" stroke="#000" stroke-width="0.15" font-family='"Liberation Serif", serif'>FITC-PNA</text>
<rect x="107.3" y="47" width="79.30" height="70.80" fill="#fff" stroke="#9a9a9a" stroke-width="0.9" />
<rect x="119" y="51" width="55.50" height="55.50" fill="#fff" stroke="#7a7a7a" stroke-width="1.3" />
<text x="120.5" y="50.5" font-size="4.3" text-anchor="start" font-weight="normal" fill="#111" font-family='"Liberation Sans", sans-serif' >Plot P03, gated on P02.mor</text>
<line x1="119.0" y1="106.5" x2="119.0" y2="107.8" stroke="#555" stroke-width="0.5" />
<text x="119.0" y="112.1" font-size="4.4" text-anchor="middle" font-weight="normal" fill="#222" font-family='"Liberation Sans", sans-serif' >10<tspan font-size="3.0" dy="-1.6">0</tspan></text>
<line x1="130.1" y1="106.5" x2="130.1" y2="107.8" stroke="#555" stroke-width="0.5" />
<text x="130.1" y="112.1" font-size="4.4" text-anchor="middle" font-weight="normal" fill="#222" font-family='"Liberation Sans", sans-serif' >10<tspan font-size="3.0" dy="-1.6">1</tspan></text>
<line x1="141.2" y1="106.5" x2="141.2" y2="107.8" stroke="#555" stroke-width="0.5" />
<text x="141.2" y="112.1" font-size="4.4" text-anchor="middle" font-weight="normal" fill="#222" font-family='"Liberation Sans", sans-serif' >10<tspan font-size="3.0" dy="-1.6">2</tspan></text>
<line x1="152.3" y1="106.5" x2="152.3" y2="107.8" stroke="#555" stroke-width="0.5" />
<text x="152.3" y="112.1" font-size="4.4" text-anchor="middle" font-weight="normal" fill="#222" font-family='"Liberation Sans", sans-serif' >10<tspan font-size="3.0" dy="-1.6">3</tspan></text>
<line x1="163.4" y1="106.5" x2="163.4" y2="107.8" stroke="#555" stroke-width="0.5" />
<text x="163.4" y="112.1" font-size="4.4" text-anchor="middle" font-weight="normal" fill="#222" font-family='"Liberation Sans", sans-serif' >10<tspan font-size="3.0" dy="-1.6">4</tspan></text>
<line x1="174.5" y1="106.5" x2="174.5" y2="107.8" stroke="#555" stroke-width="0.5" />
<text x="174.5" y="112.1" font-size="4.4" text-anchor="middle" font-weight="normal" fill="#222" font-family='"Liberation Sans", sans-serif' >10<tspan font-size="3.0" dy="-1.6">5</tspan></text>
<line x1="117.7" y1="106.5" x2="119" y2="106.5" stroke="#555" stroke-width="0.5" />
<text x="0" y="0" transform="translate(116.7,106.5) rotate(-90)" font-size="4.3" text-anchor="middle" font-weight="normal" fill="#222" font-family='"Liberation Sans", sans-serif'>10<tspan font-size="3.0" dy="-1.6">0</tspan></text>
<line x1="117.7" y1="95.4" x2="119" y2="95.4" stroke="#555" stroke-width="0.5" />
<text x="0" y="0" transform="translate(116.7,95.4) rotate(-90)" font-size="4.3" text-anchor="middle" font-weight="normal" fill="#222" font-family='"Liberation Sans", sans-serif'>10<tspan font-size="3.0" dy="-1.6">1</tspan></text>
<line x1="117.7" y1="84.3" x2="119" y2="84.3" stroke="#555" stroke-width="0.5" />
<text x="0" y="0" transform="translate(116.7,84.3) rotate(-90)" font-size="4.3" text-anchor="middle" font-weight="normal" fill="#222" font-family='"Liberation Sans", sans-serif'>10<tspan font-size="3.0" dy="-1.6">2</tspan></text>
<line x1="117.7" y1="73.2" x2="119" y2="73.2" stroke="#555" stroke-width="0.5" />
<text x="0" y="0" transform="translate(116.7,73.2) rotate(-90)" font-size="4.3" text-anchor="middle" font-weight="normal" fill="#222" font-family='"Liberation Sans", sans-serif'>10<tspan font-size="3.0" dy="-1.6">3</tspan></text>
<line x1="117.7" y1="62.1" x2="119" y2="62.1" stroke="#555" stroke-width="0.5" />
<text x="0" y="0" transform="translate(116.7,62.1) rotate(-90)" font-size="4.3" text-anchor="middle" font-weight="normal" fill="#222" font-family='"Liberation Sans", sans-serif'>10<tspan font-size="3.0" dy="-1.6">4</tspan></text>
<line x1="117.7" y1="51.0" x2="119" y2="51.0" stroke="#555" stroke-width="0.5" />
<text x="0" y="0" transform="translate(116.7,51.0) rotate(-90)" font-size="4.3" text-anchor="middle" font-weight="normal" fill="#222" font-family='"Liberation Sans", sans-serif'>10<tspan font-size="3.0" dy="-1.6">5</tspan></text>
<text x="146.75" y="116.2" font-size="4.3" text-anchor="middle" font-weight="normal" fill="#111" font-family='"Liberation Sans", sans-serif' >Red-B Fluor...RED-B-HLog)</text>
<text x="0" y="0" transform="translate(111.8,78.75) rotate(-90)" font-size="4.1" text-anchor="middle" font-weight="normal" fill="#111" font-family='"Liberation Sans", sans-serif'>Green-B Flu...(GRN-B-HLog)</text>
<line x1="143.3" y1="51" x2="143.3" y2="106.5" stroke="#f07070" stroke-width="0.8" />
<line x1="119" y1="77.4" x2="174.5" y2="77.4" stroke="#f07070" stroke-width="0.8" />
<line x1="172.8" y1="51" x2="172.8" y2="106.5" stroke="#f8b0b0" stroke-width="0.5" />
<path d="M134.6,81.0h0.8M133.8,87.3h0.8M126.5,85.7h0.8M137.5,88.3h0.8M131.1,83.8h0.8M127.6,83.0h0.8M136.5,89.9h0.8M130.3,88.4h0.8M136.1,84.2h0.8M142.6,79.7h0.8M134.3,85.8h0.8M142.4,89.3h0.8M142.9,85.6h0.8M138.1,88.3h0.8M136.4,86.1h0.8M133.8,84.4h0.8M130.0,89.7h0.8M132.9,80.7h0.8M135.5,85.2h0.8M135.2,89.4h0.8M134.1,84.7h0.8M131.7,85.2h0.8M132.9,85.8h0.8M146.0,86.2h0.8M131.3,89.6h0.8M137.7,87.1h0.8M137.1,87.1h0.8M137.0,88.5h0.8M138.2,88.3h0.8M132.6,85.3h0.8M131.8,87.4h0.8M137.6,84.3h0.8M136.7,91.2h0.8M139.1,82.8h0.8M134.2,86.7h0.8M134.4,86.2h0.8M138.9,86.0h0.8M130.4,86.9h0.8M134.1,85.6h0.8M132.4,82.2h0.8M129.9,84.5h0.8M130.5,79.2h0.8M138.7,82.7h0.8M131.8,86.5h0.8M125.6,88.3h0.8M131.7,86.8h0.8M132.7,86.0h0.8M134.9,85.3h0.8M127.7,82.0h0.8M134.3,88.5h0.8M132.5,86.5h0.8M135.1,86.4h0.8M138.2,81.9h0.8M135.5,84.9h0.8M133.3,83.4h0.8M131.6,83.0h0.8M130.4,90.9h0.8M140.8,85.3h0.8M137.2,83.1h0.8M124.2,81.2h0.8M135.0,88.5h0.8M134.3,83.1h0.8M133.6,83.1h0.8M129.3,84.8h0.8M133.0,83.5h0.8M131.2,83.2h0.8M135.4,88.4h0.8M133.7,90.3h0.8M128.5,85.9h0.8M130.2,84.9h0.8M134.9,86.6h0.8M138.7,84.1h0.8M129.9,84.9h0.8M135.6,83.7h0.8M137.8,89.1h0.8M129.2,86.1h0.8M138.3,81.0h0.8M135.3,84.8h0.8M129.2,88.2h0.8M135.3,84.2h0.8M136.1,86.7h0.8M137.3,86.6h0.8M136.0,82.7h0.8M132.9,85.6h0.8M124.2,90.1h0.8M133.1,82.9h0.8M127.8,85.9h0.8M134.6,84.0h0.8M133.0,83.3h0.8M131.7,85.1h0.8M132.1,86.8h0.8M134.0,85.6h0.8M136.0,88.1h0.8M136.7,85.8h0.8M133.9,83.5h0.8M133.2,86.8h0.8M135.3,84.4h0.8M129.6,81.9h0.8M135.7,87.6h0.8M135.9,82.2h0.8M133.7,85.8h0.8M131.1,86.1h0.8M133.8,83.4h0.8M129.9,87.1h0.8M135.8,83.3h0.8M130.7,87.3h0.8M136.7,84.6h0.8M140.4,84.7h0.8M130.6,87.7h0.8M133.8,86.1h0.8M134.6,83.1h0.8M130.1,84.9h0.8M139.7,83.1h0.8M139.5,85.8h0.8M130.4,85.9h0.8M136.6,83.3h0.8M126.6,86.1h0.8M130.4,86.3h0.8M127.4,85.0h0.8M131.5,82.0h0.8M133.6,85.7h0.8M132.4,82.7h0.8M135.3,81.4h0.8M136.5,86.4h0.8M140.7,87.3h0.8M135.8,85.9h0.8M134.6,82.3h0.8M139.9,86.5h0.8M133.4,82.7h0.8M140.0,86.5h0.8M130.1,86.8h0.8M141.5,85.2h0.8M136.0,84.4h0.8M132.2,87.7h0.8M145.9,85.6h0.8M134.0,87.1h0.8M133.4,86.9h0.8M137.6,83.0h0.8M130.5,85.1h0.8M137.6,85.9h0.8M139.1,82.2h0.8M136.3,83.9h0.8M134.9,86.0h0.8M130.9,84.8h0.8M130.2,85.9h0.8M131.4,84.2h0.8M135.3,83.8h0.8M138.7,83.9h0.8M137.6,85.9h0.8M130.7,84.8h0.8M131.4,84.5h0.8M133.5,89.4h0.8M133.0,88.8h0.8M136.1,82.4h0.8M126.0,86.8h0.8M127.2,86.9h0.8M138.3,86.2h0.8M133.7,84.7h0.8M135.5,84.6h0.8M132.5,84.5h0.8M138.8,83.9h0.8M135.9,82.7h0.8M131.9,82.2h0.8M133.8,86.8h0.8M135.6,84.2h0.8M136.8,84.5h0.8M135.9,85.9h0.8M136.5,79.8h0.8M129.7,87.0h0.8M134.1,90.3h0.8M133.6,84.1h0.8M140.0,86.5h0.8M141.5,86.4h0.8M133.8,86.9h0.8M131.6,84.3h0.8M132.5,84.8h0.8M137.4,84.2h0.8M135.7,84.2h0.8M137.7,79.2h0.8M133.7,85.7h0.8M130.5,87.6h0.8M135.3,88.1h0.8M138.0,86.7h0.8M134.0,82.9h0.8M133.7,84.3h0.8M135.4,84.3h0.8M145.7,81.7h0.8M138.8,84.3h0.8M133.6,87.4h0.8M134.5,82.6h0.8M136.0,84.9h0.8M126.9,85.7h0.8M130.6,83.6h0.8M136.3,86.0h0.8M133.4,90.1h0.8M136.0,83.9h0.8M135.4,85.0h0.8M126.4,81.8h0.8M129.4,89.9h0.8M133.8,84.7h0.8M132.4,87.5h0.8M134.6,89.1h0.8M137.4,89.0h0.8M134.1,86.1h0.8M132.9,84.9h0.8M128.2,84.0h0.8M131.0,83.9h0.8M139.0,85.9h0.8M139.0,87.2h0.8M137.9,87.5h0.8M132.3,87.1h0.8M133.3,84.1h0.8M138.9,90.1h0.8M130.9,89.2h0.8M137.5,83.4h0.8M135.5,86.1h0.8M135.9,84.5h0.8M129.8,85.4h0.8M137.7,87.0h0.8M136.9,87.7h0.8M130.9,85.2h0.8M135.7,87.5h0.8M135.1,86.4h0.8M135.0,90.0h0.8M126.5,85.2h0.8M143.6,85.8h0.8M127.8,85.6h0.8M129.3,83.8h0.8M135.3,89.1h0.8M136.2,86.8h0.8M138.2,85.7h0.8M131.4,85.1h0.8M135.7,84.7h0.8M132.1,84.5h0.8M129.0,83.0h0.8M134.2,84.5h0.8M134.6,88.4h0.8M135.6,85.2h0.8M130.2,82.9h0.8M135.9,83.4h0.8M136.1,82.9h0.8M135.0,85.1h0.8M138.1,84.4h0.8M133.1,85.8h0.8M134.7,89.0h0.8M133.6,84.1h0.8M133.3,86.3h0.8M135.4,86.8h0.8M129.4,90.8h0.8M141.2,85.2h0.8M130.1,85.6h0.8M136.0,80.4h0.8M134.5,82.0h0.8M136.2,88.4h0.8M138.3,82.0h0.8M139.6,87.3h0.8M133.2,86.4h0.8M140.0,84.6h0.8M134.4,84.1h0.8M138.7,80.5h0.8M139.7,83.2h0.8M137.9,81.7h0.8M131.1,84.0h0.8M137.5,81.7h0.8M136.7,83.9h0.8M139.0,84.6h0.8M136.3,84.9h0.8M141.1,84.5h0.8M134.4,89.7h0.8M134.8,86.8h0.8M131.8,85.7h0.8M126.2,85.5h0.8M132.1,82.0h0.8M129.3,87.8h0.8M136.1,81.9h0.8M141.1,83.8h0.8M133.2,85.8h0.8M130.3,81.7h0.8M131.8,87.9h0.8M138.0,81.8h0.8M138.9,85.4h0.8M136.3,85.4h0.8M136.0,83.1h0.8M131.2,83.7h0.8M133.2,86.7h0.8M130.1,88.8h0.8M132.2,84.0h0.8M137.1,86.3h0.8M133.3,82.9h0.8M130.8,81.8h0.8M138.7,87.7h0.8M141.3,86.4h0.8M135.7,87.0h0.8M138.0,84.7h0.8M135.8,90.1h0.8M128.3,82.2h0.8M131.0,87.0h0.8M138.8,84.6h0.8M137.0,85.2h0.8M135.6,84.1h0.8M134.4,85.3h0.8M138.6,90.2h0.8M127.9,86.5h0.8M134.5,87.4h0.8M138.4,87.0h0.8M137.5,83.2h0.8M128.3,89.0h0.8M138.9,83.2h0.8M139.2,86.8h0.8M125.5,87.3h0.8M130.9,87.9h0.8M132.0,83.7h0.8M128.8,84.8h0.8M138.2,83.8h0.8M127.7,90.1h0.8M141.3,86.8h0.8M132.5,82.6h0.8M128.5,86.5h0.8M139.3,83.0h0.8M134.5,84.7h0.8M133.6,86.4h0.8M142.2,83.9h0.8M137.6,87.7h0.8M133.5,85.0h0.8M129.6,87.7h0.8M132.6,83.8h0.8M134.7,83.4h0.8M130.7,84.6h0.8M139.9,84.8h0.8M136.4,82.0h0.8M127.4,89.3h0.8M133.0,81.9h0.8M134.1,86.6h0.8M128.2,83.3h0.8M135.5,83.3h0.8M137.4,87.4h0.8M136.1,84.3h0.8M134.3,83.9h0.8M134.0,86.0h0.8M133.4,87.5h0.8M144.0,84.1h0.8M135.8,87.1h0.8M136.9,84.8h0.8M132.7,87.5h0.8M136.8,86.4h0.8M131.6,86.7h0.8M137.4,84.9h0.8M136.9,90.1h0.8M127.6,86.6h0.8M130.2,82.3h0.8M133.6,86.5h0.8M134.7,82.7h0.8M129.2,84.1h0.8M134.6,83.5h0.8M129.0,89.2h0.8M131.4,85.0h0.8M132.5,84.0h0.8M134.6,84.6h0.8M136.8,82.7h0.8M129.0,89.6h0.8M134.2,87.0h0.8M138.8,86.5h0.8M134.6,81.8h0.8M128.6,87.5h0.8M137.0,86.6h0.8M128.4,80.6h0.8M130.6,82.7h0.8M135.1,83.0h0.8M140.3,83.9h0.8M132.4,87.2h0.8M135.7,83.3h0.8M137.5,89.6h0.8M130.0,84.7h0.8M130.5,81.0h0.8M136.8,86.9h0.8M138.1,86.3h0.8M127.1,85.2h0.8M132.0,82.7h0.8M130.4,87.0h0.8M133.4,89.7h0.8M136.2,81.0h0.8M137.8,88.1h0.8M134.6,82.6h0.8M141.0,82.4h0.8M134.2,81.0h0.8M129.9,81.5h0.8M138.5,87.9h0.8M133.0,82.3h0.8M134.3,86.1h0.8M128.9,82.7h0.8M134.1,86.9h0.8M134.8,86.3h0.8M129.9,79.7h0.8M135.7,83.2h0.8M134.0,84.5h0.8M136.3,83.6h0.8M139.9,85.4h0.8M136.5,86.7h0.8M138.3,86.2h0.8M128.0,83.9h0.8M141.4,86.4h0.8M136.6,86.3h0.8M132.1,83.8h0.8M132.1,87.9h0.8M135.9,89.3h0.8M136.4,89.6h0.8M136.2,82.6h0.8M141.0,86.1h0.8M138.9,85.8h0.8M133.3,85.7h0.8M130.3,82.6h0.8M131.2,84.1h0.8M129.4,85.1h0.8M135.6,89.9h0.8M141.4,85.2h0.8M137.8,84.8h0.8M136.0,85.2h0.8M132.5,85.5h0.8M129.0,86.3h0.8M133.4,82.9h0.8M133.2,86.6h0.8M132.0,86.4h0.8M136.6,88.8h0.8M130.4,85.0h0.8M136.4,88.7h0.8M135.5,87.0h0.8M129.0,84.0h0.8M140.7,84.7h0.8M142.6,83.7h0.8M133.5,81.7h0.8M136.9,85.9h0.8M142.1,85.7h0.8M133.6,82.1h0.8M134.2,87.4h0.8M137.3,88.1h0.8M137.7,85.2h0.8M136.8,85.7h0.8M129.5,89.2h0.8M135.9,82.9h0.8M135.9,86.0h0.8M138.2,88.6h0.8M123.1,86.6h0.8M140.2,83.1h0.8M127.5,85.9h0.8M135.8,86.1h0.8M130.3,84.2h0.8M135.2,87.0h0.8M142.7,86.0h0.8M132.2,79.9h0.8M138.5,85.0h0.8M134.1,83.0h0.8M137.3,81.2h0.8M134.9,85.6h0.8M135.6,88.3h0.8M134.1,85.5h0.8M137.7,81.8h0.8M133.4,85.5h0.8M138.1,83.5h0.8M137.5,86.2h0.8M128.9,81.9h0.8M129.1,85.6h0.8M135.3,87.0h0.8M137.6,84.0h0.8M138.5,87.2h0.8M136.3,86.4h0.8M129.6,86.1h0.8M130.6,82.6h0.8M133.2,85.6h0.8M134.3,84.5h0.8M130.7,85.7h0.8M131.7,82.1h0.8M134.9,88.6h0.8M133.0,82.9h0.8M139.7,89.2h0.8M133.4,84.8h0.8M135.3,92.1h0.8M135.0,87.6h0.8M136.2,81.1h0.8M130.3,82.5h0.8M136.1,85.5h0.8M141.3,84.7h0.8M135.7,85.5h0.8M135.0,90.6h0.8M135.6,88.7h0.8M139.4,83.9h0.8M137.1,84.4h0.8M134.9,85.7h0.8M134.6,84.2h0.8M140.4,84.7h0.8M137.2,89.1h0.8M136.9,87.7h0.8M139.8,87.8h0.8M141.0,82.0h0.8M141.9,85.4h0.8M127.9,83.8h0.8M129.2,85.3h0.8M128.9,83.0h0.8M135.6,85.7h0.8M131.5,84.8h0.8M134.1,85.5h0.8M134.5,84.8h0.8M137.8,81.6h0.8M132.6,85.6h0.8M133.0,84.0h0.8M132.8,85.8h0.8M139.2,84.9h0.8M133.5,86.1h0.8M133.6,80.9h0.8M135.5,84.4h0.8M132.3,86.7h0.8M134.7,84.0h0.8M126.2,81.3h0.8M134.6,85.0h0.8M136.2,85.8h0.8M132.7,82.4h0.8M130.3,85.0h0.8M130.1,87.0h0.8M129.5,81.2h0.8M133.8,81.2h0.8M140.7,83.0h0.8M134.3,84.7h0.8M131.4,81.2h0.8M127.4,87.3h0.8M138.4,90.3h0.8M128.9,86.6h0.8M134.4,87.2h0.8M132.5,87.0h0.8M137.9,86.7h0.8M140.0,84.9h0.8M140.4,83.7h0.8M140.8,79.0h0.8M134.6,83.5h0.8M134.5,87.7h0.8M137.2,85.5h0.8M141.0,81.9h0.8M131.4,88.8h0.8M135.7,80.5h0.8M135.8,82.6h0.8M140.1,87.9h0.8M132.4,88.3h0.8M131.3,87.4h0.8M136.7,85.0h0.8M129.1,84.7h0.8M125.8,84.0h0.8M127.5,88.1h0.8M130.8,79.7h0.8M136.7,86.1h0.8M132.6,90.2h0.8M137.4,85.5h0.8M132.0,78.5h0.8M136.3,87.5h0.8M132.3,82.1h0.8M134.3,81.5h0.8M134.5,87.1h0.8M140.2,85.9h0.8M135.2,87.0h0.8M139.8,84.6h0.8M129.8,83.5h0.8M129.7,83.3h0.8M134.0,86.1h0.8M135.1,85.5h0.8M133.1,86.3h0.8M137.9,87.0h0.8M140.2,84.6h0.8M133.5,89.2h0.8M135.3,86.2h0.8M133.2,87.5h0.8M133.0,83.0h0.8M134.3,84.3h0.8M137.7,84.4h0.8M135.0,84.8h0.8M135.8,83.9h0.8M138.7,82.0h0.8M133.0,83.7h0.8M137.0,85.4h0.8M136.3,84.5h0.8M131.8,82.7h0.8M133.2,84.1h0.8M135.6,86.1h0.8M138.2,85.1h0.8M131.7,82.9h0.8M134.7,86.1h0.8M141.9,85.7h0.8M141.2,89.6h0.8M130.5,88.1h0.8M138.8,88.4h0.8M134.5,87.5h0.8M132.7,85.1h0.8M134.6,89.4h0.8M133.7,87.5h0.8M134.8,83.7h0.8M135.4,86.8h0.8M131.8,86.8h0.8M131.8,83.3h0.8M135.3,84.8h0.8M130.8,81.6h0.8M134.6,85.9h0.8M132.8,85.7h0.8M128.7,86.2h0.8M136.1,85.9h0.8M132.2,85.5h0.8M135.0,87.8h0.8M135.5,85.9h0.8M131.8,87.3h0.8M139.0,84.2h0.8M136.9,86.0h0.8M134.3,82.3h0.8M141.2,81.0h0.8M135.7,84.4h0.8M138.8,84.3h0.8M134.6,86.7h0.8M136.2,84.1h0.8M137.1,86.2h0.8M138.3,84.1h0.8M134.3,84.4h0.8M131.3,85.9h0.8M136.1,88.6h0.8M133.3,86.2h0.8M138.8,85.0h0.8M134.7,85.6h0.8M131.9,83.0h0.8M138.7,85.7h0.8M134.2,82.5h0.8M134.9,88.0h0.8M130.1,83.3h0.8M138.7,88.6h0.8M140.4,84.0h0.8M136.8,83.6h0.8M136.5,84.5h0.8M135.2,88.4h0.8M135.8,84.7h0.8M134.7,85.9h0.8M132.6,85.8h0.8M136.8,88.9h0.8M126.7,82.6h0.8M129.8,87.3h0.8M143.7,85.7h0.8M135.0,87.9h0.8M125.3,84.9h0.8M122.7,85.7h0.8M132.6,84.2h0.8M135.8,84.0h0.8M138.7,85.3h0.8M135.9,91.1h0.8M132.8,87.4h0.8M131.4,88.1h0.8M138.1,85.6h0.8M138.2,89.0h0.8M139.7,85.3h0.8M134.3,87.8h0.8M129.0,83.9h0.8M136.3,86.6h0.8M141.5,89.3h0.8M135.7,86.3h0.8M129.5,84.9h0.8M135.5,84.8h0.8M134.7,86.7h0.8M130.9,84.0h0.8M127.8,87.9h0.8M130.5,81.4h0.8M137.4,84.8h0.8M138.1,84.5h0.8M142.5,86.9h0.8M135.1,85.6h0.8M133.7,87.1h0.8M142.0,84.3h0.8M130.4,86.7h0.8M138.5,81.9h0.8M131.9,83.0h0.8M136.6,86.4h0.8M131.7,82.7h0.8M137.1,80.6h0.8M136.9,84.9h0.8M141.7,87.6h0.8M132.3,84.7h0.8M133.5,83.6h0.8M134.8,87.5h0.8M128.8,84.8h0.8M140.1,87.0h0.8M131.5,83.5h0.8M131.3,81.7h0.8M138.8,85.5h0.8M131.9,82.0h0.8M133.1,84.1h0.8M140.9,84.3h0.8M134.9,87.7h0.8M137.0,84.9h0.8M126.3,88.5h0.8M136.7,84.3h0.8M134.2,83.1h0.8M131.1,81.9h0.8M136.4,86.5h0.8M135.2,87.1h0.8M136.5,85.6h0.8M131.2,86.6h0.8M138.9,86.7h0.8M139.2,84.2h0.8M130.8,88.1h0.8M132.3,85.8h0.8M133.8,85.3h0.8M133.5,84.1h0.8M127.8,89.6h0.8M135.3,81.0h0.8M131.1,82.8h0.8M131.7,79.5h0.8M136.6,89.0h0.8M133.6,87.0h0.8M136.7,82.5h0.8M139.0,81.5h0.8M132.4,84.5h0.8M139.2,85.6h0.8M134.0,83.5h0.8M134.8,85.4h0.8M137.2,88.4h0.8M137.2,85.3h0.8M133.9,88.9h0.8M135.2,85.3h0.8M141.2,88.8h0.8M136.6,85.1h0.8M132.1,87.7h0.8M132.8,87.5h0.8M131.6,85.5h0.8M136.0,85.6h0.8M135.4,86.2h0.8M130.3,82.8h0.8M134.0,89.4h0.8M134.0,83.2h0.8M132.0,85.4h0.8M138.9,84.0h0.8M136.6,85.7h0.8M133.2,83.2h0.8M133.9,83.7h0.8M136.5,81.3h0.8M138.7,87.0h0.8M136.6,88.7h0.8M136.7,81.5h0.8M134.7,86.3h0.8M132.0,82.8h0.8M136.1,86.4h0.8M132.9,84.8h0.8M132.6,84.0h0.8M134.3,87.7h0.8M128.5,84.5h0.8M140.5,86.0h0.8M135.1,87.2h0.8M130.8,82.6h0.8M128.3,82.0h0.8M135.4,87.2h0.8M133.0,83.8h0.8M136.0,86.7h0.8M135.5,81.0h0.8M132.5,79.6h0.8M135.4,83.4h0.8M132.1,88.7h0.8M139.4,86.4h0.8M135.5,85.7h0.8M132.3,85.2h0.8M141.6,83.3h0.8M132.1,85.7h0.8M137.8,87.2h0.8M130.9,85.0h0.8M133.5,82.5h0.8M134.8,84.2h0.8M137.9,86.3h0.8M131.6,85.5h0.8M133.2,83.9h0.8M132.7,87.7h0.8M133.0,81.5h0.8M131.6,87.1h0.8M142.5,82.9h0.8M133.2,84.6h0.8M129.3,86.2h0.8M134.3,85.9h0.8M142.8,84.7h0.8M137.4,87.2h0.8M132.2,84.0h0.8M140.3,86.9h0.8M135.0,82.9h0.8M137.8,86.5h0.8M142.6,88.6h0.8M137.5,85.9h0.8M134.7,84.1h0.8M135.6,85.8h0.8M136.9,87.7h0.8M135.7,84.1h0.8M137.5,88.8h0.8M131.4,86.2h0.8M136.5,86.5h0.8M136.4,85.1h0.8M134.1,89.1h0.8M140.9,82.2h0.8M125.1,86.3h0.8M132.0,84.1h0.8M128.6,86.1h0.8M134.3,84.1h0.8M137.8,90.7h0.8M139.9,87.9h0.8M133.0,86.8h0.8M134.4,87.9h0.8M136.7,85.2h0.8" stroke="#f00" stroke-width="0.84" opacity="0.75"/>
<path d="M138.1,84.1h0.8M138.5,86.9h0.8M136.3,85.7h0.8M133.8,86.2h0.8M138.7,83.7h0.8M140.4,85.1h0.8M133.6,83.3h0.8M138.7,84.7h0.8M139.1,83.0h0.8M136.8,86.2h0.8M135.7,85.9h0.8M136.3,85.4h0.8M137.6,87.8h0.8M134.6,86.0h0.8M139.6,83.6h0.8M137.2,87.9h0.8M139.0,81.3h0.8M136.5,82.8h0.8M137.6,84.1h0.8M135.9,83.9h0.8M137.6,84.4h0.8M135.2,84.7h0.8M137.8,83.9h0.8M139.2,82.9h0.8M137.8,84.5h0.8M140.1,84.2h0.8M135.7,83.3h0.8M140.9,85.8h0.8M134.9,84.6h0.8M135.1,86.9h0.8M137.8,82.4h0.8M137.4,86.2h0.8M137.0,85.6h0.8M136.8,85.3h0.8M137.4,84.1h0.8M137.7,85.2h0.8M136.9,84.1h0.8M135.0,85.3h0.8M138.6,81.9h0.8M136.0,86.7h0.8M138.8,84.1h0.8M139.6,83.8h0.8M135.5,87.5h0.8M136.2,84.7h0.8M133.8,83.7h0.8M134.7,84.8h0.8M133.4,86.3h0.8M136.3,84.2h0.8M135.8,85.9h0.8M140.0,84.5h0.8M140.1,87.0h0.8M139.6,85.4h0.8M134.1,85.9h0.8M136.2,85.2h0.8M133.3,84.6h0.8M137.5,83.8h0.8M137.6,87.1h0.8M137.4,84.1h0.8M141.6,82.3h0.8M135.2,85.5h0.8M135.8,82.1h0.8M137.5,86.1h0.8M135.5,86.9h0.8M138.0,86.5h0.8M134.0,85.0h0.8M140.1,87.6h0.8M139.6,85.0h0.8M137.4,84.2h0.8M139.1,84.1h0.8M137.2,82.4h0.8M134.1,87.3h0.8M137.1,85.3h0.8M132.7,85.0h0.8M141.0,83.1h0.8M132.4,84.8h0.8M136.0,84.7h0.8M134.5,83.3h0.8M134.6,85.8h0.8M136.9,86.0h0.8M134.9,85.7h0.8M136.1,85.1h0.8M138.8,85.0h0.8M136.3,82.9h0.8M137.1,86.0h0.8M135.8,84.9h0.8M133.5,83.3h0.8M137.8,86.6h0.8M136.4,82.9h0.8M136.3,83.0h0.8M136.5,87.5h0.8M137.6,84.8h0.8M139.0,84.5h0.8M137.7,85.3h0.8M137.9,83.1h0.8M138.4,86.1h0.8M132.5,81.5h0.8M135.2,86.9h0.8M137.0,85.9h0.8M138.1,86.1h0.8M135.7,84.3h0.8M137.7,85.8h0.8M138.1,85.4h0.8M136.0,86.4h0.8M137.9,86.4h0.8M132.0,86.3h0.8M132.2,85.3h0.8M135.7,85.2h0.8M136.1,84.6h0.8M137.4,85.4h0.8M135.4,81.8h0.8M135.5,85.7h0.8M135.3,85.5h0.8M136.3,83.8h0.8M139.3,87.1h0.8M136.8,84.9h0.8M138.9,83.3h0.8M135.3,86.5h0.8M138.8,84.4h0.8M135.5,85.4h0.8M134.2,84.4h0.8M136.5,81.8h0.8M138.2,86.0h0.8M139.1,83.2h0.8M134.5,84.0h0.8M134.4,87.6h0.8M135.1,84.6h0.8M137.4,85.6h0.8M139.9,83.6h0.8M138.7,85.2h0.8M134.7,85.2h0.8M134.2,87.1h0.8M135.6,86.3h0.8M139.6,84.2h0.8M135.2,85.2h0.8M134.9,86.2h0.8M137.3,84.0h0.8M135.6,85.9h0.8M134.1,87.2h0.8M135.4,84.7h0.8M135.2,87.1h0.8M138.6,86.7h0.8M138.3,85.1h0.8M140.4,85.9h0.8M137.9,85.7h0.8M138.5,85.4h0.8M136.7,82.9h0.8M141.1,83.3h0.8M132.7,84.1h0.8M140.9,86.6h0.8M135.8,85.3h0.8M137.0,82.4h0.8M136.3,85.4h0.8M139.3,83.4h0.8M132.5,83.0h0.8M137.7,85.1h0.8M137.3,85.2h0.8M136.3,83.2h0.8M137.9,85.5h0.8M138.2,86.6h0.8M134.5,82.0h0.8M133.4,87.8h0.8M135.2,85.5h0.8M137.0,85.9h0.8M143.4,84.3h0.8M136.7,84.2h0.8M137.5,85.7h0.8M135.1,86.7h0.8M139.3,85.6h0.8M136.8,84.7h0.8M133.7,85.9h0.8M135.1,84.3h0.8M139.0,83.8h0.8M136.0,86.1h0.8M140.7,84.1h0.8M139.2,84.1h0.8M137.8,85.6h0.8M134.7,86.3h0.8M140.6,85.1h0.8M137.5,83.5h0.8M140.6,85.1h0.8M134.4,86.0h0.8M134.1,84.1h0.8M132.7,86.8h0.8M141.4,84.2h0.8M135.7,84.2h0.8M135.9,85.7h0.8M139.9,83.7h0.8M137.9,82.7h0.8M140.0,84.9h0.8M135.6,87.0h0.8M136.8,86.8h0.8M139.1,87.2h0.8M135.4,85.1h0.8M137.7,84.7h0.8M140.0,84.1h0.8M139.0,86.8h0.8M133.1,83.7h0.8M135.2,84.3h0.8M137.8,84.8h0.8M137.2,84.4h0.8M136.8,85.6h0.8M138.5,84.0h0.8M136.8,84.0h0.8M136.6,83.1h0.8M138.9,85.9h0.8M136.8,84.1h0.8M136.1,84.1h0.8M133.9,87.1h0.8M143.6,83.4h0.8M134.7,85.8h0.8M138.2,83.0h0.8M133.2,85.7h0.8M133.0,86.9h0.8M136.0,85.1h0.8M137.0,84.3h0.8M136.7,84.6h0.8M139.5,84.9h0.8M136.9,84.3h0.8M135.7,84.0h0.8M137.0,87.4h0.8M139.2,85.3h0.8M140.3,86.3h0.8M137.4,84.8h0.8M134.8,85.3h0.8M136.4,82.9h0.8M134.4,87.5h0.8M137.4,85.6h0.8M137.4,84.4h0.8M137.9,86.4h0.8M136.4,85.7h0.8M139.1,84.4h0.8M137.3,84.0h0.8M138.2,84.5h0.8M139.3,84.0h0.8M140.4,84.6h0.8M135.3,83.8h0.8M138.3,83.9h0.8M140.6,86.7h0.8M138.0,83.2h0.8M137.0,84.1h0.8M133.4,85.6h0.8M141.4,84.3h0.8M138.6,86.7h0.8M135.1,84.6h0.8M137.5,85.6h0.8M134.7,85.3h0.8M136.8,86.2h0.8M133.8,84.3h0.8M136.0,84.6h0.8M138.4,84.2h0.8M142.5,84.1h0.8M138.7,86.3h0.8M138.9,84.7h0.8M135.3,84.7h0.8M138.3,85.2h0.8M138.2,85.7h0.8M135.2,83.8h0.8M139.9,84.4h0.8M133.8,87.4h0.8M135.3,83.8h0.8M138.9,83.5h0.8M135.3,86.4h0.8M135.4,88.3h0.8M137.2,88.5h0.8M137.3,85.1h0.8M135.7,84.7h0.8M136.0,85.0h0.8M138.5,83.3h0.8M135.2,82.3h0.8M140.0,84.9h0.8M137.0,84.9h0.8M139.0,85.4h0.8M138.7,84.8h0.8M136.8,84.9h0.8M133.3,86.4h0.8M133.8,83.7h0.8M138.3,85.1h0.8M138.6,87.2h0.8M140.7,86.8h0.8M136.5,87.7h0.8M135.2,84.9h0.8M139.0,84.7h0.8M136.8,84.5h0.8M139.7,81.8h0.8M139.5,86.4h0.8M136.9,85.7h0.8M135.1,86.4h0.8M143.1,83.8h0.8M139.8,84.9h0.8M136.3,84.4h0.8M136.6,83.4h0.8M134.3,87.2h0.8M137.0,85.7h0.8M137.6,85.6h0.8M133.9,83.8h0.8M138.3,86.3h0.8M134.7,84.2h0.8M134.9,85.8h0.8M137.7,85.0h0.8M135.7,85.4h0.8" stroke="#f00" stroke-width="0.84" opacity="1"/>
<path d="M148.6,80.4h0.8M149.2,80.5h0.8M150.6,83.4h0.8M147.0,83.3h0.8M148.6,80.4h0.8M146.5,78.3h0.8M146.0,82.8h0.8M151.2,80.6h0.8M148.9,82.8h0.8M150.2,83.0h0.8M151.2,83.7h0.8M146.8,82.9h0.8M143.3,81.6h0.8M148.5,83.3h0.8M147.8,83.8h0.8M151.4,80.2h0.8M147.3,82.6h0.8M149.6,82.3h0.8M150.3,79.4h0.8M150.2,84.6h0.8M150.9,82.9h0.8M148.0,82.9h0.8M148.3,78.5h0.8M147.2,81.9h0.8M147.4,79.9h0.8M148.0,81.2h0.8M148.7,81.9h0.8M148.9,84.2h0.8M148.8,82.9h0.8M145.8,75.5h0.8M147.6,83.5h0.8M147.8,80.6h0.8M145.8,84.0h0.8M147.3,82.5h0.8M151.0,83.2h0.8M153.4,81.7h0.8M150.6,83.5h0.8M147.1,82.1h0.8M147.3,79.7h0.8M149.2,80.3h0.8M152.2,80.4h0.8M147.3,82.2h0.8M147.4,82.1h0.8M147.2,78.9h0.8M143.2,79.2h0.8M151.8,83.0h0.8M148.8,81.0h0.8M148.2,82.7h0.8M145.4,80.2h0.8M146.5,84.8h0.8M146.2,84.6h0.8M147.5,88.0h0.8M148.3,82.1h0.8M151.5,83.9h0.8M150.6,79.6h0.8M151.0,85.7h0.8M148.3,80.9h0.8M146.1,84.2h0.8M149.1,82.0h0.8M145.8,85.6h0.8M150.4,82.0h0.8M151.7,79.9h0.8M150.4,79.8h0.8M151.6,81.4h0.8M151.2,81.1h0.8M149.4,84.5h0.8M146.5,82.2h0.8M146.7,83.9h0.8M147.2,81.2h0.8M148.1,84.6h0.8M146.2,81.9h0.8M147.8,80.8h0.8M146.8,81.6h0.8M148.9,78.6h0.8M149.0,79.4h0.8M148.5,87.0h0.8M146.4,81.9h0.8M147.9,84.2h0.8M147.5,78.1h0.8M145.0,82.4h0.8M149.1,84.3h0.8M147.3,83.5h0.8M146.2,84.8h0.8M148.3,80.5h0.8M148.9,85.8h0.8M146.6,79.3h0.8M146.3,79.5h0.8M148.4,82.8h0.8M148.1,82.4h0.8M151.1,81.4h0.8" stroke="#f22" stroke-width="0.80" opacity="0.8"/>
<path d="M137.5,62.3h0.7M146.5,71.9h0.7M143.5,78.5h0.7M147.8,66.6h0.7M139.3,76.4h0.7M144.1,82.9h0.7M142.0,63.6h0.7M152.0,66.2h0.7M139.2,78.3h0.7M138.6,90.9h0.7M146.4,79.2h0.7M142.4,89.3h0.7M148.2,71.7h0.7M152.5,65.9h0.7M141.5,77.7h0.7M145.8,70.2h0.7M154.5,84.8h0.7M139.4,78.2h0.7M141.2,73.4h0.7M150.9,76.8h0.7M144.3,76.6h0.7M138.0,83.3h0.7M140.5,83.9h0.7M142.3,73.3h0.7M153.9,77.1h0.7M141.2,72.8h0.7M148.6,87.2h0.7M148.7,73.6h0.7M138.3,72.0h0.7M144.3,77.5h0.7M141.1,83.7h0.7M139.3,71.7h0.7M148.0,78.9h0.7M142.7,81.8h0.7M136.6,85.8h0.7M158.1,87.7h0.7M145.7,87.8h0.7M145.3,84.0h0.7M143.8,77.2h0.7M148.1,65.5h0.7M143.8,86.3h0.7M127.5,78.3h0.7M150.5,78.0h0.7M146.2,84.3h0.7M147.0,64.6h0.7M139.3,74.2h0.7M145.9,73.3h0.7M144.4,86.0h0.7M127.4,82.9h0.7M150.6,79.6h0.7M145.1,76.4h0.7M147.2,77.5h0.7M140.7,80.7h0.7M140.0,75.8h0.7M142.9,69.1h0.7M148.6,75.6h0.7M138.0,75.5h0.7M136.7,84.6h0.7M148.1,87.9h0.7M141.6,80.2h0.7M139.2,70.9h0.7M144.5,78.5h0.7M150.5,74.4h0.7M151.6,81.8h0.7M139.8,74.9h0.7M139.5,86.2h0.7M141.7,81.3h0.7M150.5,74.5h0.7M142.1,78.1h0.7M140.4,68.4h0.7" stroke="#f55" stroke-width="0.70" opacity="0.8"/>
<circle cx="143.9" cy="60" r="1.2" fill="none" stroke="#f03030" stroke-width="0.5"/><circle cx="164.6" cy="77.4" r="1.2" fill="none" stroke="#f03030" stroke-width="0.5"/>
<text x="145.5" y="77" font-size="3.2" text-anchor="start" font-weight="normal" fill="#f33" font-family='"Liberation Sans", sans-serif' >R1 EQ</text>
<path d="M152,104.8h3" stroke="#f00" stroke-width="1.2"/>
<ellipse cx="132.2" cy="64.3" rx="11.6" ry="12.1" fill="none" stroke="#222" stroke-width="0.6"/>
<ellipse cx="132.2" cy="90.8" rx="11.6" ry="11.8" fill="none" stroke="#222" stroke-width="0.6"/>
<text x="121" y="55.5" font-size="4.1" text-anchor="start" font-weight="bold" fill="#000" stroke="#000" stroke-width="0.12" font-family='"Liberation Sans", sans-serif' >~%</text>
<text x="121" y="60.6" font-size="4.1" text-anchor="start" font-weight="bold" fill="#000" stroke="#000" stroke-width="0.12" font-family='"Liberation Sans", sans-serif' >Live</text>
<text x="121" y="65.3" font-size="4.1" text-anchor="start" font-weight="bold" fill="#000" stroke="#000" stroke-width="0.12" font-family='"Liberation Sans", sans-serif' >Disrupted</text>
<text x="121" y="69.9" font-size="4.1" text-anchor="start" font-weight="bold" fill="#000" stroke="#000" stroke-width="0.12" font-family='"Liberation Sans", sans-serif' >Acrosome</text>
<text x="172.5" y="55.5" font-size="4.1" text-anchor="end" font-weight="bold" fill="#000" stroke="#000" stroke-width="0.12" font-family='"Liberation Sans", sans-serif' >~%</text>
<text x="172.5" y="60.6" font-size="4.1" text-anchor="end" font-weight="bold" fill="#000" stroke="#000" stroke-width="0.12" font-family='"Liberation Sans", sans-serif' >Dead</text>
<text x="172.5" y="65.3" font-size="4.1" text-anchor="end" font-weight="bold" fill="#000" stroke="#000" stroke-width="0.12" font-family='"Liberation Sans", sans-serif' >Disrupted</text>
<text x="172.5" y="69.9" font-size="4.1" text-anchor="end" font-weight="bold" fill="#000" stroke="#000" stroke-width="0.12" font-family='"Liberation Sans", sans-serif' >Acrosome</text>
<text x="121" y="91.4" font-size="4.1" text-anchor="start" font-weight="bold" fill="#000" stroke="#000" stroke-width="0.12" font-family='"Liberation Sans", sans-serif' >Live</text>
<text x="121" y="95.8" font-size="4.1" text-anchor="start" font-weight="bold" fill="#000" stroke="#000" stroke-width="0.12" font-family='"Liberation Sans", sans-serif' >Intact</text>
<text x="121" y="100.3" font-size="4.1" text-anchor="start" font-weight="bold" fill="#000" stroke="#000" stroke-width="0.12" font-family='"Liberation Sans", sans-serif' >Acrosome</text>
<text x="121" y="105.4" font-size="4.1" text-anchor="start" font-weight="bold" fill="#000" stroke="#000" stroke-width="0.12" font-family='"Liberation Sans", sans-serif' >~%</text>
<text x="172.5" y="91.4" font-size="4.1" text-anchor="end" font-weight="bold" fill="#000" stroke="#000" stroke-width="0.12" font-family='"Liberation Sans", sans-serif' >Dead</text>
<text x="172.5" y="95.8" font-size="4.1" text-anchor="end" font-weight="bold" fill="#000" stroke="#000" stroke-width="0.12" font-family='"Liberation Sans", sans-serif' >Intact</text>
<text x="172.5" y="100.3" font-size="4.1" text-anchor="end" font-weight="bold" fill="#000" stroke="#000" stroke-width="0.12" font-family='"Liberation Sans", sans-serif' >Acrosome</text>
<text x="172.5" y="105.4" font-size="4.1" text-anchor="end" font-weight="bold" fill="#000" stroke="#000" stroke-width="0.12" font-family='"Liberation Sans", sans-serif' >~%</text>
<rect x="191.4" y="48" width="80.90" height="67.30" fill="#a6abac" stroke="none" stroke-width="1" />
<g clip-path="url(#clA)"><path d="M236,93 Q212,102 202,117" stroke="#afb3b4" stroke-width="1.3" fill="none"/></g>
<circle cx="203.2" cy="114.6" r="1.1" fill="#30e070"/>
<g filter="url(#blurc)"><rect x="-4.4" y="-8.4" width="8.8" height="16.8" rx="4.4" transform="translate(256.2,72.8) rotate(30)" fill="#5a60f0"/></g>
<g filter="url(#blurc)"><rect x="-8.4" y="-6.2" width="16.8" height="12.4" rx="6" transform="translate(242.8,91.7) rotate(-12)" fill="#5a60f0"/><ellipse cx="248.2" cy="90.6" rx="3.9" ry="5.4" fill="#10f0f0"/></g>
<text x="237.5" y="59.1" font-size="9.6" text-anchor="start" font-weight="normal" fill="#000" stroke="#000" stroke-width="0.12" font-family='"Liberation Serif", serif' >Reacted</text>
<text x="231.3" y="107.8" font-size="9.6" text-anchor="start" font-weight="normal" fill="#000" stroke="#000" stroke-width="0.12" font-family='"Liberation Serif", serif' >Intact</text>
<text x="254.6" y="111.4" font-size="6.0" text-anchor="start" font-weight="normal" fill="#000" font-family='"Liberation Serif", serif' >10μm</text>
<line x1="254.8" y1="112.6" x2="270" y2="112.6" stroke="#111" stroke-width="0.6" />
<line x1="143.3" y1="65.6" x2="224.72558540108687" y2="88.99815672445024" stroke="#151515" stroke-width="0.7" />
<path d="M230.30,90.60 L223.35,90.16 L224.92,89.05 L224.18,87.28 Z" fill="#151515"/>
<line x1="143.3" y1="90.0" x2="243.19072148112915" y2="72.12183109854791" stroke="#151515" stroke-width="0.7" />
<path d="M248.90,71.10 L242.47,73.77 L243.39,72.09 L241.94,70.82 Z" fill="#151515"/>
<text x="298" y="42.8" font-size="10.6" text-anchor="start" font-weight="normal" fill="#000" stroke="#000" stroke-width="0.15" font-family='"Liberation Serif", serif' >Negative gating</text>
<rect x="290.8" y="47" width="79.60" height="70.20" fill="#fff" stroke="#9a9a9a" stroke-width="0.9" />
<rect x="301.9" y="52" width="56.50" height="54.10" fill="#fff" stroke="#7a7a7a" stroke-width="1.3" />
<text x="303.4" y="51.5" font-size="4.3" text-anchor="start" font-weight="normal" fill="#111" font-family='"Liberation Sans", sans-serif' >Plot P01, ungated</text>
<line x1="301.9" y1="106.1" x2="301.9" y2="107.39999999999999" stroke="#555" stroke-width="0.5" />
<text x="301.9" y="111.69999999999999" font-size="4.4" text-anchor="middle" font-weight="normal" fill="#222" font-family='"Liberation Sans", sans-serif' >10<tspan font-size="3.0" dy="-1.6">0</tspan></text>
<line x1="313.2" y1="106.1" x2="313.2" y2="107.39999999999999" stroke="#555" stroke-width="0.5" />
<text x="313.2" y="111.69999999999999" font-size="4.4" text-anchor="middle" font-weight="normal" fill="#222" font-family='"Liberation Sans", sans-serif' >10<tspan font-size="3.0" dy="-1.6">1</tspan></text>
<line x1="324.5" y1="106.1" x2="324.5" y2="107.39999999999999" stroke="#555" stroke-width="0.5" />
<text x="324.5" y="111.69999999999999" font-size="4.4" text-anchor="middle" font-weight="normal" fill="#222" font-family='"Liberation Sans", sans-serif' >10<tspan font-size="3.0" dy="-1.6">2</tspan></text>
<line x1="335.79999999999995" y1="106.1" x2="335.79999999999995" y2="107.39999999999999" stroke="#555" stroke-width="0.5" />
<text x="335.79999999999995" y="111.69999999999999" font-size="4.4" text-anchor="middle" font-weight="normal" fill="#222" font-family='"Liberation Sans", sans-serif' >10<tspan font-size="3.0" dy="-1.6">3</tspan></text>
<line x1="347.09999999999997" y1="106.1" x2="347.09999999999997" y2="107.39999999999999" stroke="#555" stroke-width="0.5" />
<text x="347.09999999999997" y="111.69999999999999" font-size="4.4" text-anchor="middle" font-weight="normal" fill="#222" font-family='"Liberation Sans", sans-serif' >10<tspan font-size="3.0" dy="-1.6">4</tspan></text>
<line x1="358.4" y1="106.1" x2="358.4" y2="107.39999999999999" stroke="#555" stroke-width="0.5" />
<text x="358.4" y="111.69999999999999" font-size="4.4" text-anchor="middle" font-weight="normal" fill="#222" font-family='"Liberation Sans", sans-serif' >10<tspan font-size="3.0" dy="-1.6">5</tspan></text>
<line x1="300.59999999999997" y1="106.1" x2="301.9" y2="106.1" stroke="#555" stroke-width="0.5" />
<text x="0" y="0" transform="translate(299.59999999999997,106.1) rotate(-90)" font-size="4.3" text-anchor="middle" font-weight="normal" fill="#222" font-family='"Liberation Sans", sans-serif'>10<tspan font-size="3.0" dy="-1.6">0</tspan></text>
<line x1="300.59999999999997" y1="95.28" x2="301.9" y2="95.28" stroke="#555" stroke-width="0.5" />
<text x="0" y="0" transform="translate(299.59999999999997,95.28) rotate(-90)" font-size="4.3" text-anchor="middle" font-weight="normal" fill="#222" font-family='"Liberation Sans", sans-serif'>10<tspan font-size="3.0" dy="-1.6">1</tspan></text>
<line x1="300.59999999999997" y1="84.46" x2="301.9" y2="84.46" stroke="#555" stroke-width="0.5" />
<text x="0" y="0" transform="translate(299.59999999999997,84.46) rotate(-90)" font-size="4.3" text-anchor="middle" font-weight="normal" fill="#222" font-family='"Liberation Sans", sans-serif'>10<tspan font-size="3.0" dy="-1.6">2</tspan></text>
<line x1="300.59999999999997" y1="73.64" x2="301.9" y2="73.64" stroke="#555" stroke-width="0.5" />
<text x="0" y="0" transform="translate(299.59999999999997,73.64) rotate(-90)" font-size="4.3" text-anchor="middle" font-weight="normal" fill="#222" font-family='"Liberation Sans", sans-serif'>10<tspan font-size="3.0" dy="-1.6">3</tspan></text>
<line x1="300.59999999999997" y1="62.82" x2="301.9" y2="62.82" stroke="#555" stroke-width="0.5" />
<text x="0" y="0" transform="translate(299.59999999999997,62.82) rotate(-90)" font-size="4.3" text-anchor="middle" font-weight="normal" fill="#222" font-family='"Liberation Sans", sans-serif'>10<tspan font-size="3.0" dy="-1.6">4</tspan></text>
<line x1="300.59999999999997" y1="51.99999999999999" x2="301.9" y2="51.99999999999999" stroke="#555" stroke-width="0.5" />
<text x="0" y="0" transform="translate(299.59999999999997,51.99999999999999) rotate(-90)" font-size="4.3" text-anchor="middle" font-weight="normal" fill="#222" font-family='"Liberation Sans", sans-serif'>10<tspan font-size="3.0" dy="-1.6">5</tspan></text>
<text x="330.15" y="115.60000000000001" font-size="4.3" text-anchor="middle" font-weight="normal" fill="#111" font-family='"Liberation Sans", sans-serif' >Forward Sca... (FSC-HLog)</text>
<text x="0" y="0" transform="translate(295.3,79.05) rotate(-90)" font-size="4.1" text-anchor="middle" font-weight="normal" fill="#111" font-family='"Liberation Sans", sans-serif'>Side Scatter (SSC-HLog)</text>
<line x1="331.4" y1="52" x2="331.4" y2="106.1" stroke="#f0a0a0" stroke-width="0.6" stroke-dasharray="1,0.6"/>
<path d="M335.5,74.0h0.8M338.3,77.6h0.8M333.4,74.5h0.8M335.0,76.1h0.8M339.5,73.5h0.8M341.3,72.3h0.8M336.5,70.6h0.8M336.2,73.5h0.8M339.4,76.4h0.8M337.2,71.4h0.8M337.0,72.1h0.8M336.7,72.2h0.8M335.7,73.1h0.8M336.6,72.8h0.8M334.5,73.6h0.8M339.2,74.8h0.8M336.5,70.4h0.8M334.7,70.3h0.8M336.3,72.4h0.8M333.6,74.9h0.8M334.1,71.5h0.8M336.1,75.3h0.8M342.2,72.3h0.8M337.1,72.2h0.8M337.3,72.8h0.8M343.7,70.5h0.8M337.5,71.2h0.8M338.6,71.9h0.8M339.2,70.5h0.8M342.8,73.7h0.8M333.6,74.9h0.8M336.7,70.3h0.8M338.8,71.9h0.8M339.6,71.8h0.8M339.9,73.6h0.8M338.6,73.6h0.8M336.9,72.3h0.8M338.9,75.0h0.8M336.8,78.7h0.8M341.8,70.4h0.8M340.4,73.0h0.8M338.4,71.3h0.8M341.7,71.2h0.8M337.6,71.4h0.8M342.4,76.3h0.8M334.7,72.1h0.8M338.7,72.1h0.8M337.0,70.5h0.8M338.4,70.5h0.8M339.8,79.1h0.8M337.0,77.3h0.8M338.7,71.6h0.8M337.0,70.8h0.8M338.1,74.9h0.8M340.0,72.5h0.8M335.0,73.0h0.8M341.8,73.9h0.8M337.7,68.1h0.8M336.8,74.5h0.8M335.6,76.5h0.8M336.5,71.1h0.8M336.4,73.0h0.8M340.2,71.8h0.8M333.6,73.0h0.8M339.0,77.0h0.8M335.1,76.8h0.8M339.4,74.3h0.8M336.0,71.0h0.8M335.5,75.5h0.8M338.3,75.8h0.8M342.1,73.3h0.8M337.7,77.9h0.8M334.7,72.1h0.8M336.9,72.3h0.8M338.1,71.2h0.8M340.5,69.9h0.8M335.9,69.1h0.8M334.5,74.6h0.8M339.3,72.7h0.8M339.8,74.7h0.8M336.4,73.1h0.8M338.7,78.1h0.8M336.8,74.1h0.8M339.1,76.2h0.8M338.8,75.8h0.8M335.3,72.6h0.8M333.2,73.1h0.8M343.3,73.8h0.8M338.0,73.9h0.8M338.1,70.0h0.8M336.2,72.8h0.8M338.2,71.1h0.8M337.6,71.4h0.8M334.7,71.6h0.8M335.9,75.3h0.8M341.0,74.6h0.8M337.3,71.9h0.8M334.1,71.9h0.8M341.5,76.0h0.8M338.3,72.6h0.8M337.8,74.2h0.8M337.8,74.3h0.8M336.0,73.3h0.8M337.0,75.8h0.8M334.9,76.4h0.8M337.6,72.0h0.8M337.9,73.5h0.8M337.3,74.3h0.8M336.4,69.1h0.8M339.4,73.2h0.8M341.7,74.2h0.8M333.1,76.2h0.8M336.2,74.6h0.8M343.0,75.9h0.8M335.2,73.0h0.8M334.0,74.8h0.8M339.1,70.7h0.8M338.9,75.5h0.8M339.7,71.6h0.8M336.2,70.5h0.8M334.8,74.0h0.8M337.9,76.4h0.8M338.4,72.4h0.8M334.4,77.0h0.8M338.2,73.1h0.8M335.4,70.7h0.8M339.3,70.9h0.8M339.2,74.7h0.8M336.9,69.3h0.8M338.8,76.6h0.8M335.9,70.1h0.8M340.4,73.6h0.8M336.3,76.2h0.8M337.1,74.3h0.8M336.9,71.4h0.8M338.3,71.1h0.8M333.6,71.9h0.8M340.7,75.9h0.8M342.9,75.6h0.8M341.6,73.8h0.8M336.8,74.4h0.8M335.6,75.0h0.8M336.7,73.9h0.8M335.8,72.9h0.8M340.1,72.7h0.8M336.2,73.9h0.8M339.9,72.8h0.8M335.0,69.4h0.8M334.6,75.8h0.8M337.6,74.4h0.8M340.3,73.9h0.8M338.9,72.0h0.8M334.0,74.7h0.8M337.6,74.6h0.8M335.3,72.9h0.8M342.5,71.2h0.8M338.0,76.4h0.8M337.3,73.5h0.8M332.8,75.1h0.8M336.8,76.3h0.8M337.6,72.3h0.8M338.8,72.6h0.8M336.6,77.0h0.8M340.1,73.5h0.8M339.7,75.2h0.8M339.2,73.3h0.8M338.0,74.2h0.8M339.1,74.1h0.8M336.5,73.0h0.8M338.9,70.9h0.8M337.8,75.1h0.8M338.2,72.5h0.8M337.7,72.1h0.8M340.1,72.3h0.8M333.9,70.3h0.8M338.5,73.7h0.8M336.7,70.1h0.8M337.4,71.2h0.8M336.3,73.2h0.8M336.0,74.0h0.8M336.1,72.1h0.8M337.3,76.7h0.8M341.5,75.5h0.8M336.1,73.2h0.8M339.9,75.2h0.8M334.0,73.1h0.8M336.1,75.0h0.8M339.3,72.0h0.8M342.8,72.6h0.8M343.5,72.8h0.8M337.6,77.8h0.8M336.6,72.1h0.8M341.3,73.1h0.8M338.9,70.2h0.8M342.0,75.6h0.8M338.6,74.9h0.8M336.6,72.1h0.8M334.1,74.1h0.8M340.7,75.3h0.8M340.0,74.9h0.8M335.6,70.1h0.8M339.3,73.6h0.8M340.1,72.6h0.8M335.7,74.3h0.8M336.5,69.3h0.8M336.4,71.1h0.8M335.2,71.9h0.8M340.0,78.8h0.8M341.9,72.3h0.8M340.5,73.1h0.8M338.7,71.6h0.8M337.6,69.2h0.8M342.0,71.4h0.8M339.2,71.8h0.8M338.4,70.4h0.8M336.9,75.4h0.8M339.2,68.6h0.8M339.8,70.1h0.8M338.5,74.5h0.8M336.3,72.5h0.8M337.2,74.2h0.8M339.9,76.5h0.8M338.6,78.0h0.8M335.6,77.5h0.8M337.2,75.1h0.8M337.5,73.4h0.8M335.6,74.2h0.8M342.6,73.6h0.8M337.8,73.3h0.8M339.5,72.8h0.8M337.8,73.8h0.8M340.9,75.5h0.8M335.3,71.7h0.8M337.8,75.3h0.8M340.1,72.7h0.8M342.8,72.9h0.8M341.1,76.6h0.8M341.5,73.7h0.8M339.2,69.6h0.8M333.6,71.8h0.8M339.5,75.8h0.8M337.6,75.7h0.8M339.2,76.9h0.8M334.1,71.3h0.8M335.6,70.8h0.8M341.7,71.0h0.8M335.9,72.3h0.8M339.9,72.1h0.8M339.5,74.5h0.8M336.3,67.6h0.8M335.6,70.3h0.8M341.6,71.5h0.8M335.3,74.1h0.8M337.9,71.0h0.8M340.4,75.4h0.8M338.5,71.4h0.8M335.7,68.4h0.8M338.7,74.2h0.8M335.6,73.3h0.8M345.5,70.6h0.8M333.8,74.7h0.8M336.8,72.1h0.8M339.3,72.9h0.8M340.1,74.5h0.8M340.5,73.5h0.8M332.7,76.5h0.8M333.8,75.7h0.8M338.4,69.9h0.8M338.0,75.3h0.8M335.4,73.3h0.8M336.1,70.8h0.8M336.3,76.3h0.8M339.4,73.2h0.8M337.6,73.5h0.8M338.5,73.7h0.8M333.8,75.4h0.8M335.8,67.0h0.8M339.5,70.4h0.8M337.5,73.0h0.8M336.4,74.5h0.8M337.2,72.6h0.8M335.6,72.6h0.8M335.4,73.3h0.8M340.9,75.6h0.8M338.8,70.0h0.8M340.2,75.4h0.8M342.7,67.9h0.8M337.8,72.4h0.8M340.4,70.6h0.8M336.9,78.7h0.8M340.1,68.5h0.8M337.8,76.5h0.8M336.3,74.6h0.8M338.0,69.7h0.8M336.3,75.9h0.8M340.6,71.8h0.8M340.5,71.5h0.8M338.4,73.2h0.8M334.9,74.0h0.8M336.9,66.7h0.8M335.8,71.2h0.8M335.8,70.9h0.8M336.2,67.4h0.8M339.9,73.4h0.8M338.4,72.6h0.8M338.0,72.6h0.8M335.2,69.6h0.8M338.0,75.6h0.8M338.4,77.1h0.8M334.6,72.6h0.8M336.3,76.2h0.8M341.8,72.0h0.8M339.5,72.6h0.8M335.4,73.0h0.8M335.3,76.9h0.8M339.2,76.0h0.8M338.6,67.4h0.8M339.7,73.4h0.8M332.2,73.5h0.8M340.2,77.3h0.8M335.4,75.1h0.8M338.6,72.8h0.8M337.1,74.5h0.8M339.2,74.8h0.8M336.8,70.1h0.8M340.9,76.3h0.8M336.5,73.1h0.8M339.7,69.0h0.8M339.0,79.0h0.8M338.4,71.5h0.8M342.6,73.2h0.8M338.3,72.2h0.8M338.2,68.9h0.8M334.8,69.7h0.8M339.9,73.0h0.8M340.5,68.3h0.8M336.4,76.7h0.8M335.9,68.7h0.8M336.0,72.4h0.8M337.8,76.3h0.8M340.9,76.9h0.8M339.2,72.0h0.8M336.6,69.7h0.8M340.8,76.2h0.8M338.0,71.1h0.8M339.4,74.4h0.8M338.2,70.4h0.8M338.4,71.8h0.8M339.5,74.6h0.8M338.8,72.2h0.8M341.4,75.1h0.8M340.8,75.2h0.8M339.4,74.1h0.8M335.3,68.8h0.8M335.6,74.7h0.8M339.9,73.6h0.8M338.0,77.6h0.8M336.9,68.9h0.8M334.2,72.4h0.8M339.5,75.0h0.8M337.3,75.2h0.8M337.7,71.5h0.8M336.9,75.0h0.8M340.0,70.5h0.8M335.5,73.5h0.8M342.8,70.4h0.8M334.8,74.2h0.8M339.0,71.7h0.8M337.7,74.4h0.8M333.7,73.1h0.8M339.2,75.4h0.8M340.5,73.0h0.8M334.4,76.4h0.8M339.6,71.7h0.8M340.2,75.7h0.8M337.5,67.5h0.8M336.7,71.4h0.8M335.8,73.0h0.8M335.3,74.1h0.8M342.2,70.4h0.8M340.2,71.9h0.8M339.1,72.9h0.8M340.8,71.5h0.8M339.5,71.3h0.8M338.3,73.2h0.8M340.4,69.4h0.8M334.6,76.5h0.8M338.7,77.3h0.8M335.4,73.7h0.8M339.2,77.4h0.8M337.7,72.1h0.8M339.5,73.0h0.8M336.0,75.0h0.8M333.3,70.8h0.8M341.0,72.0h0.8M337.0,74.1h0.8M340.4,74.5h0.8M335.5,71.8h0.8M340.3,72.9h0.8M336.3,75.3h0.8M340.5,78.4h0.8M335.3,71.5h0.8M336.2,74.1h0.8M336.7,75.9h0.8M336.3,72.5h0.8M339.1,73.7h0.8M335.4,76.8h0.8M339.2,72.0h0.8M338.3,70.5h0.8M334.9,72.5h0.8M338.7,73.4h0.8M336.0,69.9h0.8M333.9,77.0h0.8M338.7,71.3h0.8M340.6,74.5h0.8M336.8,71.7h0.8M340.5,74.0h0.8M341.6,74.1h0.8M336.4,71.8h0.8M336.2,73.8h0.8M338.4,74.7h0.8M338.9,70.7h0.8M337.3,70.9h0.8M338.9,70.0h0.8M336.4,71.1h0.8M336.4,72.6h0.8M341.3,72.6h0.8M334.4,72.5h0.8M339.6,74.5h0.8M338.4,78.0h0.8M340.4,73.4h0.8M340.6,70.0h0.8M337.4,71.1h0.8M338.2,77.1h0.8M336.6,77.0h0.8M335.4,76.6h0.8M333.8,71.2h0.8M340.1,73.0h0.8M338.1,73.2h0.8M338.2,72.8h0.8M335.5,72.5h0.8M338.1,71.0h0.8M338.9,77.4h0.8M334.0,71.9h0.8M337.1,73.2h0.8M338.0,71.5h0.8M337.7,73.2h0.8M337.6,76.9h0.8M338.1,69.7h0.8M334.1,74.6h0.8M337.0,71.7h0.8M334.6,72.5h0.8M337.6,71.6h0.8M337.0,75.3h0.8M339.6,74.5h0.8M337.4,69.9h0.8M339.6,76.8h0.8M340.8,76.0h0.8M338.4,74.1h0.8M337.8,76.2h0.8M337.2,78.3h0.8M339.6,72.4h0.8M337.8,69.3h0.8M336.1,72.5h0.8M343.5,71.2h0.8M339.9,73.4h0.8M337.1,74.7h0.8M333.2,75.5h0.8M342.3,73.9h0.8M337.7,73.6h0.8M339.3,72.0h0.8M338.1,74.4h0.8M337.0,74.1h0.8M338.6,74.9h0.8M335.5,71.9h0.8M336.8,76.1h0.8M338.4,69.2h0.8M334.8,77.9h0.8M338.6,70.1h0.8M335.7,73.5h0.8M341.1,77.1h0.8M337.0,72.5h0.8M342.3,70.8h0.8M341.4,74.0h0.8M338.0,76.3h0.8M338.9,71.2h0.8M334.2,73.2h0.8M339.0,76.5h0.8M339.2,76.8h0.8M339.7,73.7h0.8M338.8,74.2h0.8M336.3,72.9h0.8M338.1,72.1h0.8M334.4,69.7h0.8M339.0,74.5h0.8M338.1,70.4h0.8M339.8,72.3h0.8M333.0,77.0h0.8M334.3,78.6h0.8M339.0,72.1h0.8M332.3,71.5h0.8M341.3,76.5h0.8M338.4,69.1h0.8M336.9,72.5h0.8M338.9,72.9h0.8M338.6,69.3h0.8M336.3,76.7h0.8M334.4,75.4h0.8M343.2,74.8h0.8M334.6,76.2h0.8M333.5,74.0h0.8M336.8,76.2h0.8M340.5,73.7h0.8M342.0,75.6h0.8M336.7,70.8h0.8M343.5,72.2h0.8M338.8,72.9h0.8M336.7,69.3h0.8M337.5,72.9h0.8M340.1,72.0h0.8M334.2,70.6h0.8M337.7,73.8h0.8M339.5,72.3h0.8M339.1,73.5h0.8M341.7,73.1h0.8M338.1,74.6h0.8M340.6,71.0h0.8M336.7,72.5h0.8M332.8,76.3h0.8M340.3,73.3h0.8M345.6,76.3h0.8M342.5,77.0h0.8M339.9,69.8h0.8M341.4,74.2h0.8M335.0,73.3h0.8M339.6,75.6h0.8M338.2,71.9h0.8M339.6,71.4h0.8M337.6,75.0h0.8M334.4,74.1h0.8M333.2,71.0h0.8M334.9,73.0h0.8M339.5,73.1h0.8M339.9,73.4h0.8M337.3,74.4h0.8M337.2,73.5h0.8M340.2,71.8h0.8M340.5,70.5h0.8M337.3,69.0h0.8M336.6,77.0h0.8M338.6,76.3h0.8M334.4,70.8h0.8M338.9,75.2h0.8M339.8,69.2h0.8M339.0,73.0h0.8M338.1,74.4h0.8M337.1,69.1h0.8M335.3,69.7h0.8M334.7,72.9h0.8M340.9,71.5h0.8M336.0,70.4h0.8M333.8,73.4h0.8M336.7,72.6h0.8M335.6,74.4h0.8M335.0,74.5h0.8M336.3,75.1h0.8M335.7,74.3h0.8M338.8,73.0h0.8M341.6,73.6h0.8M335.7,74.9h0.8M335.9,71.9h0.8M337.8,73.6h0.8M341.8,69.0h0.8M337.2,75.9h0.8M337.4,74.0h0.8M341.4,70.2h0.8M337.9,75.1h0.8M336.4,69.0h0.8M335.5,73.7h0.8M338.2,77.6h0.8M340.9,69.5h0.8M340.2,75.4h0.8M341.6,72.8h0.8M336.5,73.6h0.8M341.4,74.7h0.8M341.8,75.1h0.8M336.4,70.8h0.8M342.1,69.5h0.8M337.0,72.4h0.8M335.7,71.8h0.8M337.8,78.9h0.8M337.6,71.9h0.8M338.1,75.5h0.8M335.9,72.2h0.8M333.7,74.9h0.8M339.4,76.8h0.8M335.0,78.5h0.8M339.8,72.5h0.8M336.9,72.5h0.8M335.0,75.1h0.8M336.4,71.5h0.8M339.0,73.5h0.8M336.4,72.6h0.8M336.6,76.5h0.8M340.1,71.4h0.8M337.7,76.5h0.8M337.1,77.5h0.8M338.8,74.8h0.8M332.9,75.3h0.8M338.6,74.6h0.8M338.9,74.5h0.8M336.6,75.4h0.8M337.9,70.7h0.8M335.4,73.6h0.8M338.6,67.9h0.8M333.0,75.7h0.8M337.8,80.1h0.8M334.2,72.6h0.8M336.4,74.6h0.8M341.1,77.1h0.8M335.4,76.2h0.8M335.0,73.9h0.8M338.2,74.7h0.8M335.9,76.4h0.8M337.6,73.2h0.8M337.2,70.6h0.8M339.5,74.0h0.8M338.9,77.7h0.8M335.8,72.5h0.8M337.8,75.3h0.8M337.4,75.5h0.8M338.9,68.9h0.8M336.2,68.3h0.8M337.1,72.2h0.8M339.2,73.6h0.8M337.7,76.3h0.8M339.2,70.2h0.8M336.2,74.0h0.8M341.8,72.7h0.8M337.4,73.8h0.8M339.6,73.0h0.8M338.5,72.2h0.8M336.5,71.3h0.8M339.3,71.9h0.8M339.1,74.2h0.8M340.1,66.7h0.8M335.5,70.2h0.8M337.4,75.2h0.8M343.7,76.9h0.8M341.0,74.1h0.8M336.9,74.5h0.8M332.7,75.5h0.8M337.8,74.7h0.8M335.4,70.5h0.8M336.3,73.1h0.8M338.6,72.3h0.8M338.6,74.9h0.8M335.1,73.0h0.8M334.2,71.9h0.8M339.9,71.5h0.8M342.2,74.4h0.8M339.9,73.5h0.8M339.8,75.9h0.8M338.1,71.9h0.8M336.5,77.9h0.8M337.4,72.1h0.8M336.1,69.1h0.8M336.6,74.0h0.8M336.7,71.4h0.8M338.8,74.3h0.8M336.8,73.9h0.8M335.5,75.3h0.8M335.5,72.4h0.8M338.1,72.2h0.8M335.1,78.3h0.8M341.4,69.0h0.8M338.1,70.1h0.8M338.5,70.0h0.8M339.2,74.5h0.8M341.8,76.1h0.8M336.7,75.5h0.8M336.7,72.9h0.8M336.6,68.9h0.8M339.2,68.3h0.8M337.2,74.5h0.8M338.1,69.4h0.8M336.3,74.9h0.8M340.4,77.1h0.8M333.5,74.3h0.8M336.7,75.1h0.8M333.8,72.9h0.8M339.5,71.6h0.8M337.0,70.8h0.8M340.4,70.0h0.8M335.7,72.4h0.8M337.1,78.3h0.8M338.4,71.2h0.8M339.2,74.0h0.8M338.5,73.0h0.8M338.9,70.3h0.8M335.0,72.2h0.8M335.2,74.9h0.8M342.4,76.2h0.8M338.8,74.0h0.8M336.2,70.0h0.8M339.1,69.6h0.8M338.5,72.9h0.8M339.6,73.3h0.8M338.0,71.8h0.8M333.8,72.4h0.8M339.4,75.7h0.8M341.0,70.8h0.8M335.6,74.9h0.8M336.7,79.5h0.8M338.5,69.5h0.8M336.5,77.0h0.8M333.5,73.6h0.8M334.5,77.1h0.8M336.8,70.7h0.8M333.8,71.5h0.8M331.8,72.0h0.8M342.9,73.4h0.8M337.2,70.4h0.8M338.6,72.1h0.8M335.8,76.6h0.8M338.8,71.0h0.8M341.3,73.1h0.8M339.0,73.6h0.8M340.6,74.7h0.8M337.0,74.9h0.8M336.9,73.5h0.8M341.7,70.6h0.8M335.4,72.2h0.8M336.6,76.4h0.8M334.1,78.8h0.8M341.5,72.1h0.8M338.2,72.3h0.8M339.4,74.8h0.8M339.6,75.1h0.8M342.3,72.8h0.8M339.4,72.7h0.8M337.9,73.7h0.8M337.7,74.0h0.8M335.8,72.8h0.8M336.4,70.4h0.8M336.1,72.0h0.8M337.5,69.4h0.8M337.2,70.4h0.8M335.9,73.7h0.8M340.4,73.9h0.8M336.7,72.1h0.8M340.9,69.2h0.8M340.5,69.5h0.8M336.3,73.3h0.8M337.3,77.3h0.8M339.0,73.1h0.8M340.0,73.3h0.8M335.9,75.9h0.8M341.3,76.3h0.8M335.0,77.9h0.8M336.8,75.1h0.8M340.6,79.0h0.8M334.0,70.7h0.8M340.6,74.4h0.8M337.1,66.1h0.8M338.8,72.7h0.8M331.9,71.8h0.8M337.8,73.8h0.8M339.6,72.6h0.8M335.7,72.3h0.8M332.9,70.5h0.8M342.4,71.5h0.8M337.6,77.8h0.8M340.3,73.5h0.8M339.5,72.5h0.8M335.7,75.6h0.8M338.1,77.1h0.8M337.2,72.3h0.8M338.6,72.7h0.8M337.1,71.0h0.8M338.4,74.0h0.8M342.1,73.1h0.8M333.7,74.3h0.8M343.2,72.1h0.8M335.9,72.8h0.8M337.4,69.5h0.8M339.2,71.1h0.8M333.5,71.4h0.8M339.3,77.9h0.8M340.7,73.7h0.8M336.6,72.6h0.8M340.1,71.9h0.8M338.8,75.6h0.8M335.7,71.8h0.8M338.9,73.2h0.8M337.5,71.9h0.8M337.7,77.7h0.8M341.0,69.3h0.8M337.9,73.4h0.8M337.9,69.8h0.8M337.5,73.6h0.8M336.2,74.0h0.8M332.1,69.5h0.8M338.0,74.2h0.8M337.4,72.1h0.8M338.2,75.9h0.8M339.9,73.0h0.8M336.7,75.8h0.8M339.1,75.4h0.8M337.1,71.1h0.8M338.2,71.7h0.8M340.5,75.3h0.8M332.7,74.8h0.8M340.9,75.7h0.8M336.7,71.1h0.8M340.1,75.7h0.8M337.9,70.4h0.8M334.2,73.9h0.8M335.9,71.5h0.8M338.8,75.8h0.8M332.9,71.6h0.8M340.9,73.1h0.8M337.0,74.8h0.8M335.1,70.2h0.8M337.9,77.0h0.8M340.2,73.2h0.8M340.2,72.2h0.8M335.0,69.1h0.8M338.4,75.4h0.8M338.7,73.1h0.8M336.9,75.9h0.8M337.7,69.7h0.8M341.0,71.6h0.8M338.7,73.2h0.8M340.3,73.8h0.8M340.7,73.7h0.8M336.7,72.0h0.8M339.3,71.2h0.8M340.0,72.6h0.8M335.6,71.1h0.8M337.5,77.5h0.8M339.6,73.2h0.8M335.7,77.9h0.8M337.1,73.2h0.8M336.8,76.5h0.8M338.2,72.1h0.8M338.2,70.8h0.8M335.3,72.8h0.8M342.5,70.5h0.8M337.5,69.3h0.8M338.2,73.7h0.8M339.5,69.9h0.8M336.4,71.6h0.8M337.2,78.8h0.8M337.3,73.1h0.8M336.6,75.2h0.8M343.8,76.0h0.8M341.4,70.6h0.8M340.3,73.3h0.8M340.8,75.8h0.8M339.3,69.1h0.8M338.1,72.0h0.8M338.9,73.3h0.8M340.3,69.3h0.8M336.1,73.0h0.8M338.6,72.2h0.8M337.7,73.3h0.8M340.3,72.9h0.8M338.4,68.7h0.8M338.6,67.5h0.8M338.8,73.0h0.8M337.8,71.4h0.8M336.8,75.2h0.8M338.6,73.1h0.8M336.6,73.7h0.8M340.6,73.2h0.8M336.9,70.3h0.8M338.0,70.9h0.8M334.4,75.3h0.8M336.3,68.2h0.8M336.1,77.7h0.8M337.5,69.9h0.8M335.2,75.0h0.8M338.8,73.7h0.8M337.3,74.4h0.8M341.4,74.4h0.8M337.4,69.8h0.8M338.9,77.0h0.8M339.3,70.1h0.8M338.2,76.4h0.8M336.3,74.4h0.8M340.7,77.2h0.8M334.0,68.9h0.8M338.7,74.9h0.8M337.0,73.1h0.8M336.8,76.1h0.8M332.6,73.8h0.8M334.8,71.5h0.8M334.2,71.0h0.8M337.7,73.3h0.8M342.0,72.7h0.8M338.6,74.1h0.8M338.4,76.8h0.8M338.1,73.6h0.8M337.5,73.2h0.8M337.7,75.6h0.8M337.8,73.4h0.8M337.7,75.1h0.8M336.7,75.5h0.8M336.4,74.9h0.8M342.3,73.8h0.8M337.6,70.3h0.8M339.5,73.2h0.8M340.0,71.6h0.8M339.0,77.6h0.8M338.8,72.4h0.8M334.7,73.2h0.8M339.4,74.7h0.8M335.2,70.7h0.8M335.5,70.7h0.8M337.1,73.9h0.8M342.4,73.7h0.8M341.2,69.1h0.8M341.5,75.2h0.8M338.8,75.2h0.8M339.3,77.9h0.8M339.7,68.9h0.8M333.7,77.2h0.8M337.6,76.5h0.8M337.0,71.6h0.8M337.0,74.0h0.8M338.2,71.7h0.8M339.1,74.7h0.8M335.6,70.5h0.8M333.2,72.4h0.8M337.8,71.5h0.8M336.4,72.9h0.8M337.9,74.6h0.8M339.8,74.3h0.8M340.5,70.8h0.8M339.2,74.1h0.8M335.3,71.5h0.8M338.9,73.4h0.8M334.8,71.8h0.8M341.4,75.3h0.8M338.0,76.5h0.8M335.6,72.8h0.8M340.1,72.4h0.8M335.1,74.6h0.8M341.6,66.9h0.8M338.2,70.1h0.8M337.1,69.7h0.8M344.0,71.5h0.8M337.9,71.5h0.8M335.5,72.1h0.8M338.3,77.5h0.8M338.5,77.1h0.8M335.3,73.4h0.8M336.8,69.3h0.8M346.6,72.6h0.8M338.4,71.3h0.8M336.4,70.6h0.8M340.2,72.2h0.8M337.5,73.6h0.8M334.9,73.8h0.8M337.4,74.3h0.8M336.9,73.3h0.8M339.0,75.6h0.8M336.2,75.6h0.8M335.5,72.7h0.8M338.1,73.6h0.8M331.9,70.8h0.8M337.4,75.5h0.8M336.1,76.9h0.8M333.5,73.4h0.8M339.1,73.2h0.8M338.4,75.5h0.8M335.9,74.7h0.8M340.3,72.6h0.8M332.3,70.3h0.8M335.8,70.6h0.8M338.8,71.2h0.8M343.7,74.6h0.8M334.7,72.5h0.8M341.4,74.9h0.8M335.4,75.8h0.8M336.7,78.7h0.8M336.5,74.7h0.8M339.1,72.1h0.8M337.4,76.1h0.8M339.0,73.1h0.8M338.9,77.5h0.8M340.0,74.4h0.8M338.6,69.3h0.8M338.1,72.0h0.8M339.5,71.7h0.8M338.9,70.6h0.8M339.9,71.4h0.8M337.7,74.6h0.8M337.0,73.2h0.8M340.3,77.6h0.8M333.5,71.0h0.8M339.4,75.5h0.8M336.7,73.4h0.8M337.3,78.8h0.8M337.3,70.3h0.8M334.1,70.0h0.8M340.9,72.2h0.8M342.4,74.8h0.8M338.7,74.8h0.8M339.7,75.5h0.8M335.5,71.8h0.8M336.5,73.5h0.8M337.2,70.2h0.8M336.2,77.6h0.8M342.8,71.1h0.8M338.7,73.1h0.8M335.8,75.0h0.8M337.6,77.3h0.8M338.9,72.4h0.8M339.8,71.4h0.8M339.9,74.9h0.8M333.6,72.7h0.8M338.6,75.1h0.8M338.2,73.2h0.8M337.0,72.5h0.8M337.8,70.6h0.8M339.3,72.4h0.8M339.0,71.9h0.8M338.8,73.5h0.8M339.9,74.3h0.8M340.0,72.8h0.8M337.7,72.6h0.8M334.8,72.9h0.8M340.4,75.1h0.8M335.8,73.9h0.8M339.6,69.8h0.8M338.6,74.0h0.8M339.6,73.8h0.8M333.7,68.2h0.8M342.5,72.2h0.8M340.8,76.3h0.8M338.0,70.4h0.8M341.0,73.1h0.8M339.0,74.4h0.8M340.1,75.7h0.8M334.4,69.7h0.8M338.1,73.2h0.8M339.6,72.9h0.8M337.4,78.2h0.8M341.1,76.1h0.8M340.3,71.3h0.8M337.6,73.0h0.8M335.2,71.1h0.8M338.2,70.2h0.8M339.1,74.4h0.8M337.2,72.4h0.8M339.2,74.4h0.8M338.7,70.2h0.8M334.0,78.2h0.8M336.3,72.3h0.8M333.5,71.2h0.8M336.1,75.2h0.8M336.8,72.0h0.8M336.0,72.1h0.8M334.1,73.9h0.8M340.6,73.6h0.8M336.5,76.3h0.8M339.0,70.7h0.8M336.4,71.7h0.8M337.7,76.2h0.8M336.1,72.8h0.8M338.1,70.3h0.8M336.7,74.7h0.8M340.5,68.6h0.8M339.5,72.5h0.8M340.9,74.7h0.8M342.5,74.0h0.8M336.9,71.2h0.8M334.4,74.6h0.8M339.0,75.2h0.8M338.6,69.5h0.8M336.8,72.6h0.8M338.2,75.1h0.8M341.2,73.9h0.8M332.9,70.7h0.8M332.7,71.3h0.8M335.0,73.8h0.8M337.3,75.9h0.8M340.4,72.1h0.8M340.0,73.2h0.8M338.9,76.5h0.8" stroke="#000" stroke-width="0.84" opacity="0.9"/>
<path d="M337.7,68.4h0.7M343.0,67.2h0.7M340.4,68.7h0.7M339.2,66.2h0.7M338.6,66.8h0.7M342.1,68.9h0.7M341.4,66.4h0.7M341.0,68.8h0.7M342.1,67.2h0.7M341.6,70.9h0.7M343.6,66.9h0.7M337.8,65.9h0.7M341.9,69.6h0.7M340.7,67.0h0.7M342.5,71.3h0.7M339.9,68.3h0.7M342.4,69.4h0.7M342.7,67.8h0.7M340.7,67.9h0.7M338.9,68.0h0.7M339.4,69.4h0.7M339.4,68.6h0.7M338.4,66.3h0.7M342.8,66.8h0.7M343.6,70.2h0.7M335.5,67.4h0.7M339.2,68.5h0.7M339.6,67.4h0.7M342.5,68.3h0.7M341.9,67.3h0.7M338.6,70.9h0.7M339.4,66.6h0.7M339.7,70.4h0.7M339.7,67.2h0.7M341.3,70.2h0.7M339.6,67.9h0.7M339.3,73.3h0.7M339.6,71.6h0.7M339.7,69.2h0.7M336.0,68.8h0.7M340.1,67.9h0.7M339.2,66.1h0.7M337.1,68.8h0.7M338.7,68.3h0.7M339.6,67.6h0.7M338.6,71.8h0.7M337.8,67.6h0.7M339.4,66.5h0.7M338.1,70.0h0.7M341.8,68.7h0.7M346.4,70.0h0.7M342.4,67.1h0.7M342.1,71.5h0.7M339.3,71.7h0.7M338.4,66.5h0.7M339.9,67.1h0.7M341.3,66.6h0.7M340.2,65.1h0.7M339.9,70.4h0.7M339.5,69.1h0.7M342.2,66.6h0.7M337.5,68.6h0.7M340.6,68.0h0.7M338.1,70.6h0.7M337.7,68.0h0.7M339.9,69.8h0.7M339.1,67.1h0.7M344.0,67.0h0.7M341.6,68.2h0.7M339.1,68.4h0.7M339.5,69.0h0.7M335.0,68.5h0.7M340.1,66.8h0.7M339.2,72.6h0.7M343.7,69.6h0.7M340.5,68.0h0.7M342.7,67.7h0.7M338.4,69.7h0.7M338.1,67.1h0.7M342.9,65.7h0.7M339.9,68.7h0.7M340.5,65.9h0.7M339.6,67.9h0.7M343.8,70.3h0.7M338.5,70.0h0.7M341.3,68.3h0.7M339.5,68.0h0.7M337.0,67.4h0.7M341.9,71.0h0.7M343.7,67.8h0.7M341.2,64.3h0.7M339.5,66.3h0.7M341.6,65.6h0.7M338.0,66.6h0.7M340.8,70.0h0.7M338.2,71.7h0.7M340.3,67.0h0.7M340.7,68.5h0.7M341.7,69.1h0.7M344.3,70.6h0.7M338.7,69.9h0.7M341.5,66.7h0.7M338.5,67.1h0.7M335.1,69.6h0.7M339.6,70.7h0.7M338.9,68.6h0.7M341.4,70.2h0.7M340.6,66.7h0.7M344.4,70.0h0.7M342.7,71.3h0.7M342.8,69.2h0.7M340.9,69.6h0.7M337.0,69.9h0.7M338.1,69.2h0.7M338.0,69.8h0.7M339.1,72.9h0.7M340.4,69.4h0.7M338.2,68.0h0.7M339.9,68.0h0.7M339.2,67.0h0.7M341.5,67.8h0.7M338.4,69.1h0.7M338.4,68.2h0.7M339.0,66.9h0.7M339.6,67.1h0.7M337.5,69.1h0.7M339.4,65.9h0.7M339.2,68.8h0.7M340.9,69.2h0.7M340.5,69.5h0.7M339.0,67.1h0.7M341.2,67.8h0.7M340.0,69.6h0.7M341.9,70.6h0.7M338.7,67.9h0.7M341.1,66.0h0.7M337.5,69.6h0.7M338.8,66.9h0.7M341.6,69.4h0.7M341.8,67.9h0.7M339.4,67.9h0.7M340.6,64.9h0.7M338.7,69.7h0.7M338.5,68.4h0.7M340.3,69.4h0.7M339.1,66.5h0.7M344.9,67.2h0.7M343.4,65.4h0.7M340.2,68.2h0.7M343.7,72.1h0.7M341.9,66.7h0.7M338.4,67.2h0.7M339.0,69.0h0.7M338.5,68.1h0.7M342.9,71.0h0.7M336.4,66.8h0.7M339.3,70.8h0.7M339.4,71.8h0.7M340.7,71.0h0.7M338.3,68.0h0.7M342.0,69.5h0.7M336.3,68.0h0.7M340.4,69.6h0.7M338.8,71.5h0.7M340.3,71.0h0.7M340.8,68.6h0.7M339.4,66.5h0.7M341.7,69.8h0.7M341.9,67.8h0.7M338.0,67.8h0.7M339.4,68.5h0.7M342.0,66.9h0.7M339.1,69.7h0.7M341.8,72.4h0.7M341.1,67.0h0.7M338.0,67.1h0.7M340.2,68.9h0.7M339.9,67.4h0.7M339.7,68.4h0.7M341.2,68.6h0.7" stroke="#111" stroke-width="0.70" opacity="0.9"/>
<path d="M336.3,65.9h0.6M344.1,70.6h0.6M338.4,70.9h0.6M342.9,69.6h0.6M339.6,70.0h0.6M341.0,66.6h0.6M339.7,75.5h0.6M343.1,73.7h0.6M340.1,77.9h0.6M341.5,77.1h0.6M334.9,66.2h0.6M341.8,69.8h0.6M337.6,66.9h0.6M344.1,65.8h0.6M339.4,64.9h0.6M338.4,80.8h0.6M347.4,68.9h0.6M335.6,78.1h0.6M336.1,63.2h0.6M340.2,66.3h0.6M334.1,75.9h0.6M336.5,66.4h0.6M339.6,70.2h0.6M342.9,71.4h0.6M344.5,76.0h0.6M345.2,75.9h0.6M339.3,73.4h0.6M339.1,64.2h0.6M335.0,74.2h0.6M334.6,70.7h0.6M335.5,72.1h0.6M338.4,69.0h0.6M336.1,61.3h0.6M339.3,65.4h0.6M338.0,72.6h0.6M342.6,74.1h0.6M344.1,64.8h0.6M341.4,77.8h0.6M340.4,66.2h0.6M340.4,68.8h0.6M336.8,75.6h0.6M338.4,66.1h0.6M336.7,79.6h0.6M336.2,73.9h0.6M339.7,76.1h0.6M338.1,66.9h0.6M336.9,66.5h0.6M347.9,71.9h0.6M338.0,76.5h0.6M341.3,70.2h0.6M341.2,72.2h0.6M342.9,78.2h0.6M338.0,70.9h0.6M338.4,76.3h0.6M340.4,74.4h0.6M342.1,68.2h0.6M339.5,77.0h0.6M342.2,74.5h0.6M338.1,69.4h0.6M336.1,69.8h0.6M338.8,64.8h0.6M343.0,67.7h0.6M339.9,73.6h0.6M337.2,63.1h0.6M342.4,72.8h0.6M338.2,75.9h0.6M342.1,66.9h0.6M338.8,63.3h0.6M338.2,77.2h0.6M336.2,74.6h0.6M333.9,69.7h0.6M342.3,78.5h0.6M340.6,74.3h0.6M344.9,60.4h0.6M333.2,79.2h0.6M347.5,73.6h0.6M339.3,72.1h0.6M339.2,68.3h0.6M339.0,70.5h0.6M341.3,74.0h0.6M342.4,73.6h0.6M335.7,77.1h0.6M340.2,68.7h0.6M345.4,66.3h0.6M335.1,68.8h0.6M340.5,74.5h0.6M339.4,73.9h0.6M336.7,68.4h0.6M339.5,65.2h0.6M339.7,69.3h0.6M341.4,66.6h0.6M337.3,68.5h0.6M337.8,66.7h0.6M338.2,65.1h0.6M340.9,73.9h0.6M339.0,70.2h0.6M336.0,66.8h0.6M338.3,67.1h0.6M335.1,71.7h0.6M339.0,69.2h0.6M336.3,70.8h0.6M336.7,69.1h0.6M339.7,74.1h0.6M341.6,68.4h0.6M343.2,66.0h0.6M338.5,76.7h0.6M347.1,71.6h0.6M337.8,69.4h0.6" stroke="#333" stroke-width="0.60" opacity="0.9"/>
<circle cx="339.9" cy="74.6" r="5.5" fill="none" stroke="#f06060" stroke-width="0.5"/>
<text x="340.8" y="77" font-size="3.6" text-anchor="start" font-weight="bold" fill="#f00" font-family='"Liberation Sans", sans-serif' >R01 SP2</text>
<text x="401.6" y="44.3" font-size="10.6" text-anchor="start" font-weight="normal" fill="#000" stroke="#000" stroke-width="0.15" font-family='"Liberation Serif", serif' >JC-1</text>
<rect x="374.8" y="47.2" width="78.70" height="68.20" fill="#fff" stroke="#9a9a9a" stroke-width="0.9" />
<rect x="385.3" y="52" width="56.10" height="54.10" fill="#fff" stroke="#7a7a7a" stroke-width="1.3" />
<text x="386.8" y="51.5" font-size="4.3" text-anchor="start" font-weight="normal" fill="#111" font-family='"Liberation Sans", sans-serif' >Plot P03, gated on P01.gbd</text>
<line x1="385.3" y1="106.1" x2="385.3" y2="107.39999999999999" stroke="#555" stroke-width="0.5" />
<text x="385.3" y="111.69999999999999" font-size="4.4" text-anchor="middle" font-weight="normal" fill="#222" font-family='"Liberation Sans", sans-serif' >10<tspan font-size="3.0" dy="-1.6">0</tspan></text>
<line x1="396.52" y1="106.1" x2="396.52" y2="107.39999999999999" stroke="#555" stroke-width="0.5" />
<text x="396.52" y="111.69999999999999" font-size="4.4" text-anchor="middle" font-weight="normal" fill="#222" font-family='"Liberation Sans", sans-serif' >10<tspan font-size="3.0" dy="-1.6">1</tspan></text>
<line x1="407.74" y1="106.1" x2="407.74" y2="107.39999999999999" stroke="#555" stroke-width="0.5" />
<text x="407.74" y="111.69999999999999" font-size="4.4" text-anchor="middle" font-weight="normal" fill="#222" font-family='"Liberation Sans", sans-serif' >10<tspan font-size="3.0" dy="-1.6">2</tspan></text>
<line x1="418.96" y1="106.1" x2="418.96" y2="107.39999999999999" stroke="#555" stroke-width="0.5" />
<text x="418.96" y="111.69999999999999" font-size="4.4" text-anchor="middle" font-weight="normal" fill="#222" font-family='"Liberation Sans", sans-serif' >10<tspan font-size="3.0" dy="-1.6">3</tspan></text>
<line x1="430.18" y1="106.1" x2="430.18" y2="107.39999999999999" stroke="#555" stroke-width="0.5" />
<text x="430.18" y="111.69999999999999" font-size="4.4" text-anchor="middle" font-weight="normal" fill="#222" font-family='"Liberation Sans", sans-serif' >10<tspan font-size="3.0" dy="-1.6">4</tspan></text>
<line x1="441.4" y1="106.1" x2="441.4" y2="107.39999999999999" stroke="#555" stroke-width="0.5" />
<text x="441.4" y="111.69999999999999" font-size="4.4" text-anchor="middle" font-weight="normal" fill="#222" font-family='"Liberation Sans", sans-serif' >10<tspan font-size="3.0" dy="-1.6">5</tspan></text>
<line x1="384.0" y1="106.1" x2="385.3" y2="106.1" stroke="#555" stroke-width="0.5" />
<text x="0" y="0" transform="translate(383.0,106.1) rotate(-90)" font-size="4.3" text-anchor="middle" font-weight="normal" fill="#222" font-family='"Liberation Sans", sans-serif'>10<tspan font-size="3.0" dy="-1.6">0</tspan></text>
<line x1="384.0" y1="95.28" x2="385.3" y2="95.28" stroke="#555" stroke-width="0.5" />
<text x="0" y="0" transform="translate(383.0,95.28) rotate(-90)" font-size="4.3" text-anchor="middle" font-weight="normal" fill="#222" font-family='"Liberation Sans", sans-serif'>10<tspan font-size="3.0" dy="-1.6">1</tspan></text>
<line x1="384.0" y1="84.46" x2="385.3" y2="84.46" stroke="#555" stroke-width="0.5" />
<text x="0" y="0" transform="translate(383.0,84.46) rotate(-90)" font-size="4.3" text-anchor="middle" font-weight="normal" fill="#222" font-family='"Liberation Sans", sans-serif'>10<tspan font-size="3.0" dy="-1.6">2</tspan></text>
<line x1="384.0" y1="73.64" x2="385.3" y2="73.64" stroke="#555" stroke-width="0.5" />
<text x="0" y="0" transform="translate(383.0,73.64) rotate(-90)" font-size="4.3" text-anchor="middle" font-weight="normal" fill="#222" font-family='"Liberation Sans", sans-serif'>10<tspan font-size="3.0" dy="-1.6">3</tspan></text>
<line x1="384.0" y1="62.82" x2="385.3" y2="62.82" stroke="#555" stroke-width="0.5" />
<text x="0" y="0" transform="translate(383.0,62.82) rotate(-90)" font-size="4.3" text-anchor="middle" font-weight="normal" fill="#222" font-family='"Liberation Sans", sans-serif'>10<tspan font-size="3.0" dy="-1.6">4</tspan></text>
<line x1="384.0" y1="51.99999999999999" x2="385.3" y2="51.99999999999999" stroke="#555" stroke-width="0.5" />
<text x="0" y="0" transform="translate(383.0,51.99999999999999) rotate(-90)" font-size="4.3" text-anchor="middle" font-weight="normal" fill="#222" font-family='"Liberation Sans", sans-serif'>10<tspan font-size="3.0" dy="-1.6">5</tspan></text>
<text x="413.35" y="113.80000000000001" font-size="4.3" text-anchor="middle" font-weight="normal" fill="#111" font-family='"Liberation Sans", sans-serif' >Green-B Fl...RN-B-HLog)</text>
<text x="0" y="0" transform="translate(379.3,79.05) rotate(-90)" font-size="4.1" text-anchor="middle" font-weight="normal" fill="#111" font-family='"Liberation Sans", sans-serif'>Yellow-B Flu...(YEL-B-HLog)</text>
<line x1="395.6" y1="52" x2="395.6" y2="106.1" stroke="#f08080" stroke-width="1.4" />
<line x1="385.3" y1="100.2" x2="436.7" y2="56.1" stroke="#f03030" stroke-width="0.8" />
<path d="M398.3,72.8 L407.8,61.7 L422.2,56.1 L434.4,58.3 L436.7,67.2 L432.2,81.7 L422.2,89.4 L408.9,91.7 L400,90.6 L398.3,82.8 Z" fill="none" stroke="#f08080" stroke-width="0.5"/>
<path d="M404.1,73.3h0.9M405.7,71.9h0.9M409.0,71.8h0.9M410.0,75.6h0.9M407.8,72.2h0.9M405.5,69.0h0.9M407.1,73.0h0.9M407.3,72.1h0.9M407.5,70.1h0.9M402.1,74.7h0.9M408.7,66.3h0.9M409.1,72.8h0.9M406.2,70.0h0.9M404.5,75.3h0.9M405.0,73.5h0.9M406.2,78.2h0.9M408.3,70.5h0.9M405.6,70.9h0.9M403.7,72.0h0.9M408.8,73.7h0.9M407.9,73.3h0.9M405.7,73.8h0.9M406.4,78.1h0.9M410.2,74.5h0.9M407.8,69.0h0.9M406.3,79.2h0.9M404.9,75.5h0.9M409.0,72.7h0.9M406.1,72.5h0.9M408.1,73.7h0.9M409.6,76.4h0.9M406.5,79.6h0.9M405.9,72.2h0.9M406.1,71.6h0.9M405.7,73.4h0.9M408.3,69.9h0.9M403.7,71.8h0.9M405.9,74.7h0.9M404.9,77.1h0.9M405.5,73.1h0.9M406.6,76.3h0.9M407.1,73.7h0.9M405.4,74.0h0.9M407.3,72.8h0.9M406.5,69.3h0.9M405.5,76.3h0.9M409.4,73.4h0.9M402.1,77.9h0.9M406.2,79.6h0.9M405.7,75.9h0.9M405.3,76.8h0.9M408.9,71.1h0.9M409.1,80.3h0.9M406.1,70.8h0.9M407.1,72.7h0.9M403.5,71.2h0.9M407.0,70.1h0.9M408.7,74.6h0.9M406.2,76.9h0.9M404.7,75.2h0.9M403.8,72.8h0.9M407.8,72.4h0.9M406.3,75.1h0.9M409.6,76.6h0.9M407.5,73.0h0.9M403.6,77.6h0.9M410.3,68.6h0.9M408.3,73.5h0.9M408.0,74.3h0.9M406.1,73.6h0.9M406.4,76.3h0.9M406.0,72.3h0.9M407.8,75.1h0.9M407.4,74.3h0.9M409.5,76.2h0.9M407.0,73.1h0.9M407.9,69.2h0.9M405.5,72.0h0.9M406.9,72.7h0.9M411.5,75.3h0.9M407.3,78.8h0.9M406.5,72.9h0.9M409.0,75.5h0.9M408.4,76.4h0.9M405.8,72.1h0.9M405.1,73.8h0.9M408.5,71.1h0.9M405.4,70.5h0.9M410.6,75.5h0.9M407.0,70.8h0.9M404.4,72.1h0.9M406.6,70.6h0.9M406.1,76.4h0.9M406.5,73.8h0.9M402.3,73.0h0.9M406.2,72.0h0.9M403.7,73.4h0.9M404.5,72.3h0.9M403.3,73.4h0.9M408.4,71.6h0.9M407.2,70.1h0.9M407.7,74.9h0.9M405.7,75.7h0.9M404.7,73.7h0.9M409.9,73.5h0.9M404.3,76.3h0.9M407.6,73.0h0.9M402.9,69.2h0.9M403.5,77.1h0.9M407.1,71.6h0.9M408.8,77.0h0.9M404.8,74.7h0.9M403.2,74.5h0.9M410.2,70.3h0.9M406.6,72.1h0.9M406.3,73.8h0.9M407.1,75.7h0.9M407.6,76.0h0.9M408.6,76.2h0.9M405.2,74.6h0.9M405.8,71.6h0.9M410.5,74.3h0.9M406.6,68.7h0.9M406.1,75.4h0.9M406.1,72.3h0.9M409.5,72.9h0.9M405.8,73.4h0.9M406.0,76.1h0.9M407.7,73.4h0.9M405.8,73.1h0.9M409.9,72.9h0.9M407.8,69.9h0.9M407.2,75.2h0.9M409.1,74.3h0.9M407.7,74.4h0.9M408.7,78.4h0.9M406.9,71.7h0.9M407.7,73.3h0.9M407.8,75.4h0.9M406.8,72.6h0.9M407.1,70.7h0.9M407.1,71.5h0.9M407.4,73.9h0.9M406.1,70.8h0.9M406.6,72.0h0.9M406.2,75.2h0.9M408.4,70.6h0.9M408.4,76.8h0.9M408.8,74.2h0.9M406.3,77.7h0.9M405.9,70.0h0.9M406.7,74.3h0.9M404.4,70.8h0.9M410.5,73.9h0.9M408.1,72.2h0.9M403.5,73.2h0.9M409.2,72.0h0.9M402.9,73.2h0.9M406.0,73.6h0.9M404.4,72.9h0.9M405.4,75.7h0.9M406.8,75.6h0.9M406.4,68.6h0.9M402.6,74.9h0.9M408.3,75.7h0.9M406.4,69.4h0.9M405.5,74.5h0.9M409.3,72.8h0.9M405.4,71.8h0.9M408.6,75.6h0.9M402.9,76.4h0.9M404.7,70.2h0.9M403.3,71.9h0.9M411.2,79.6h0.9M404.0,72.0h0.9M406.8,74.6h0.9M405.6,69.9h0.9M405.7,72.0h0.9M402.9,73.9h0.9M403.6,69.5h0.9M409.6,75.8h0.9M409.4,73.9h0.9M405.7,73.4h0.9M403.8,75.3h0.9M407.1,72.9h0.9M402.8,73.3h0.9M409.8,77.0h0.9M408.3,72.8h0.9M406.8,74.9h0.9M406.9,76.1h0.9M405.2,68.2h0.9M401.7,71.5h0.9M403.7,75.2h0.9M408.7,73.6h0.9M407.6,73.8h0.9M406.9,72.5h0.9M405.7,76.4h0.9M406.0,73.5h0.9M408.9,75.9h0.9M405.7,74.2h0.9M404.5,73.9h0.9M407.2,73.6h0.9M406.9,74.5h0.9M401.4,71.7h0.9M406.7,72.4h0.9M404.6,73.0h0.9M409.8,73.1h0.9M405.2,72.5h0.9M404.1,74.7h0.9M404.5,75.7h0.9M408.4,74.9h0.9M408.6,73.4h0.9M403.0,73.4h0.9M407.8,70.0h0.9M404.1,76.2h0.9M407.4,76.8h0.9M407.9,73.8h0.9M407.4,75.6h0.9M406.5,73.1h0.9M407.2,72.9h0.9M411.4,71.8h0.9M403.5,70.6h0.9M408.6,72.7h0.9M406.8,73.1h0.9M407.1,70.2h0.9M406.7,72.3h0.9M408.7,75.1h0.9M404.0,71.3h0.9M407.7,76.4h0.9M408.1,73.2h0.9M408.8,68.1h0.9M405.4,71.3h0.9M404.4,74.9h0.9M407.1,74.3h0.9M406.3,75.1h0.9M408.1,72.3h0.9M408.4,71.4h0.9M410.1,70.5h0.9M405.9,71.1h0.9M406.6,76.7h0.9M405.0,77.8h0.9M409.4,74.5h0.9M405.3,75.7h0.9M400.7,71.8h0.9M408.5,73.5h0.9M411.6,72.0h0.9M403.8,73.1h0.9M407.7,77.6h0.9M403.0,74.0h0.9M409.1,72.0h0.9M405.6,70.8h0.9M408.1,75.6h0.9M407.7,74.2h0.9M408.5,73.3h0.9M408.0,75.5h0.9M409.2,74.8h0.9M406.7,75.3h0.9M403.4,69.5h0.9M409.8,73.9h0.9M404.4,72.2h0.9M406.2,73.8h0.9M405.0,75.9h0.9M403.1,80.2h0.9M404.3,77.5h0.9M407.9,69.6h0.9M404.0,73.7h0.9M407.1,72.6h0.9M406.6,74.0h0.9M404.2,73.7h0.9M411.2,72.1h0.9M404.5,75.2h0.9M409.3,76.1h0.9M405.2,73.4h0.9M406.9,73.1h0.9M407.3,76.2h0.9M407.6,73.6h0.9M406.1,77.8h0.9M404.0,78.3h0.9M408.0,73.8h0.9M405.0,77.9h0.9M409.0,75.8h0.9M410.8,69.4h0.9M406.7,72.9h0.9M405.0,73.8h0.9M407.6,74.8h0.9M406.2,70.5h0.9M407.7,75.0h0.9M410.9,75.8h0.9M406.6,70.9h0.9M412.1,72.0h0.9M406.9,75.4h0.9M407.6,76.7h0.9M404.4,72.0h0.9M406.9,70.7h0.9M405.3,76.9h0.9M407.1,73.4h0.9M405.4,73.7h0.9M406.5,71.0h0.9M408.2,70.6h0.9M409.2,72.8h0.9M401.8,69.9h0.9M407.1,71.5h0.9M410.3,76.9h0.9M410.9,75.7h0.9M409.3,72.2h0.9M409.2,72.6h0.9M406.4,70.4h0.9M406.6,74.6h0.9M406.4,71.0h0.9M408.4,75.8h0.9M406.3,75.5h0.9M408.6,71.3h0.9M406.5,69.2h0.9M404.4,74.6h0.9M404.7,74.5h0.9M407.3,68.7h0.9M405.5,77.2h0.9M406.6,73.9h0.9M405.1,69.8h0.9M403.2,80.4h0.9M406.1,71.5h0.9M406.8,69.0h0.9M409.4,77.7h0.9M405.0,74.4h0.9M404.6,75.6h0.9M404.8,73.3h0.9M409.3,74.8h0.9M405.8,70.0h0.9M403.2,76.5h0.9M407.6,73.7h0.9M409.2,74.0h0.9M405.0,73.4h0.9M406.3,73.6h0.9M411.7,75.0h0.9M407.1,73.0h0.9M405.1,71.2h0.9M402.6,72.5h0.9M403.3,69.2h0.9M404.6,68.8h0.9M409.4,76.6h0.9M404.5,78.5h0.9M407.9,67.6h0.9M406.6,71.2h0.9M402.9,73.0h0.9M408.9,74.7h0.9M403.5,72.0h0.9M404.9,76.3h0.9M406.3,71.3h0.9M404.6,68.9h0.9M404.8,75.7h0.9M402.5,74.1h0.9M406.3,75.6h0.9M404.1,75.8h0.9M409.8,79.1h0.9M403.1,73.5h0.9M406.1,73.9h0.9M404.4,75.7h0.9M411.5,77.2h0.9M404.5,72.2h0.9M408.1,73.9h0.9M404.9,76.6h0.9M407.6,76.1h0.9M406.1,76.7h0.9M405.5,70.9h0.9M406.5,70.2h0.9M409.2,75.4h0.9M403.0,74.0h0.9M408.3,72.7h0.9M407.4,72.2h0.9M406.4,73.4h0.9M407.5,71.3h0.9M404.1,74.4h0.9M405.4,74.8h0.9M405.5,70.4h0.9M408.1,74.2h0.9M408.1,72.8h0.9M405.8,76.6h0.9M402.9,77.8h0.9M407.6,73.5h0.9M406.7,75.1h0.9M404.9,74.3h0.9M404.5,69.2h0.9M406.9,73.8h0.9M407.9,74.9h0.9M408.0,75.5h0.9M404.3,76.5h0.9M412.2,72.2h0.9M403.9,75.2h0.9M408.4,76.0h0.9M409.8,70.3h0.9M407.3,74.7h0.9M409.1,71.5h0.9M406.6,72.7h0.9M406.2,73.3h0.9M406.2,69.3h0.9M406.4,73.8h0.9M405.7,65.1h0.9M405.0,72.0h0.9M404.7,77.5h0.9M408.5,73.2h0.9M407.8,81.5h0.9M404.5,74.7h0.9M405.2,77.2h0.9M408.8,73.3h0.9M407.8,71.7h0.9M403.2,75.6h0.9M410.0,72.9h0.9M405.4,69.3h0.9M411.0,70.7h0.9M404.5,73.1h0.9M409.1,73.7h0.9M406.5,73.7h0.9M408.3,73.5h0.9M406.8,73.4h0.9M404.2,76.8h0.9M405.0,70.4h0.9M405.6,73.7h0.9M408.2,70.1h0.9M403.8,74.0h0.9M407.3,71.0h0.9M404.1,74.0h0.9M406.2,69.7h0.9M404.7,77.2h0.9M404.3,76.1h0.9M403.3,77.2h0.9M409.9,72.1h0.9M405.1,75.1h0.9M403.9,74.9h0.9M409.1,74.2h0.9M407.2,73.2h0.9M408.6,71.6h0.9M409.9,73.5h0.9M405.8,69.7h0.9M405.6,74.2h0.9M409.1,69.7h0.9M406.2,71.9h0.9M404.0,73.6h0.9M404.9,75.7h0.9M400.8,75.4h0.9M402.5,68.9h0.9M407.6,72.8h0.9M406.8,71.3h0.9M404.3,71.8h0.9M406.4,71.6h0.9M405.6,71.5h0.9M407.0,70.9h0.9M402.1,67.3h0.9M406.5,73.8h0.9M408.5,71.8h0.9M404.1,70.0h0.9M408.1,72.1h0.9M408.6,73.4h0.9M405.9,69.1h0.9M405.1,75.5h0.9M405.2,75.2h0.9M403.0,76.0h0.9M412.4,76.3h0.9M407.2,70.6h0.9M405.4,72.0h0.9M406.9,68.7h0.9M404.7,75.5h0.9M406.8,75.4h0.9M408.3,70.8h0.9M403.7,74.7h0.9M406.6,73.8h0.9M404.8,76.1h0.9M407.5,76.3h0.9M405.8,75.3h0.9M406.4,71.3h0.9M406.3,69.6h0.9M406.1,74.0h0.9M408.0,71.1h0.9M403.7,71.8h0.9M402.1,72.0h0.9M412.0,73.9h0.9M404.9,72.0h0.9M410.2,70.8h0.9M406.3,73.4h0.9M405.0,71.9h0.9M403.0,71.6h0.9M409.2,77.0h0.9M405.9,75.3h0.9M407.5,73.9h0.9M406.2,76.5h0.9M407.7,73.1h0.9M406.0,75.8h0.9M405.2,71.9h0.9M405.9,72.4h0.9M409.2,74.5h0.9M406.3,72.3h0.9M409.5,74.7h0.9M410.9,75.8h0.9M406.0,72.3h0.9M405.9,74.0h0.9M408.2,74.8h0.9M409.8,69.9h0.9M406.6,70.2h0.9M404.3,72.2h0.9M405.1,71.3h0.9M403.3,76.3h0.9M405.8,75.9h0.9M404.2,68.0h0.9M405.2,75.7h0.9M405.3,74.6h0.9M404.2,77.0h0.9M407.4,76.1h0.9M405.9,76.7h0.9M406.7,72.4h0.9M405.2,73.7h0.9M404.6,70.7h0.9M406.8,75.3h0.9M405.9,75.6h0.9M409.8,70.5h0.9M407.0,71.3h0.9M405.1,74.0h0.9M401.5,75.1h0.9M408.3,74.9h0.9M407.9,78.0h0.9M405.7,76.2h0.9M409.5,74.8h0.9M402.7,73.2h0.9M405.9,69.7h0.9M406.4,75.4h0.9M406.0,73.2h0.9M409.6,72.1h0.9M404.5,73.7h0.9M408.9,75.0h0.9M406.7,72.4h0.9M409.1,75.7h0.9M402.8,74.4h0.9M401.4,77.2h0.9M407.8,72.1h0.9M403.8,72.9h0.9M402.8,75.0h0.9M405.4,69.3h0.9M406.5,76.4h0.9M403.8,72.7h0.9M410.3,74.0h0.9M405.3,74.1h0.9M408.1,71.2h0.9M406.3,69.7h0.9M403.2,69.9h0.9M408.3,74.3h0.9M408.0,76.5h0.9M406.6,74.2h0.9M407.4,74.7h0.9M404.3,72.9h0.9M406.2,73.7h0.9M404.9,73.3h0.9M407.1,74.0h0.9M407.7,75.6h0.9M407.7,75.9h0.9M408.3,76.9h0.9M407.8,72.1h0.9M411.4,76.3h0.9M409.1,75.4h0.9M406.6,70.8h0.9M407.4,72.7h0.9M405.7,68.5h0.9M409.8,70.8h0.9M404.2,74.7h0.9M407.7,71.7h0.9M406.5,74.2h0.9M406.8,74.9h0.9M408.1,72.7h0.9M403.1,78.8h0.9M405.7,71.2h0.9M408.1,75.0h0.9M405.2,79.3h0.9M401.5,76.7h0.9M406.4,74.3h0.9M407.2,73.0h0.9M407.2,70.5h0.9M405.7,78.0h0.9M401.1,76.6h0.9M401.8,71.5h0.9M408.3,72.6h0.9M405.3,70.0h0.9M406.2,73.2h0.9M405.2,69.8h0.9M406.8,74.6h0.9M408.9,74.8h0.9M409.7,76.5h0.9M400.5,77.6h0.9M406.3,71.1h0.9M407.4,75.9h0.9M403.2,70.6h0.9M407.9,72.3h0.9M409.6,74.1h0.9M405.3,70.4h0.9M407.8,69.5h0.9M403.8,70.4h0.9M410.1,77.7h0.9M406.0,72.7h0.9M408.0,76.6h0.9M404.8,78.9h0.9M406.1,76.3h0.9M401.5,73.5h0.9M405.0,78.4h0.9M406.0,70.5h0.9M410.6,71.9h0.9M406.5,70.6h0.9M407.9,74.1h0.9M405.9,72.6h0.9M405.3,71.9h0.9M403.5,76.5h0.9M408.4,70.2h0.9M404.0,74.6h0.9M411.3,73.1h0.9M405.8,73.0h0.9M407.0,73.2h0.9M408.8,76.0h0.9M407.7,77.4h0.9M406.0,72.3h0.9M412.8,68.9h0.9M403.2,67.9h0.9M407.3,71.0h0.9M408.7,68.5h0.9M406.2,72.7h0.9M404.2,76.3h0.9M405.7,74.7h0.9M405.4,74.0h0.9M405.6,73.8h0.9M406.3,72.0h0.9M407.4,73.2h0.9M404.5,71.1h0.9M407.4,76.8h0.9M403.7,72.6h0.9M407.4,76.1h0.9M408.0,70.7h0.9M406.6,75.8h0.9M407.0,73.1h0.9M404.0,74.0h0.9M406.4,73.7h0.9M409.7,76.5h0.9M404.8,74.2h0.9M405.8,73.8h0.9M409.9,75.8h0.9M406.6,72.0h0.9M406.2,74.5h0.9M405.4,76.3h0.9M406.5,70.8h0.9M410.8,66.6h0.9M405.9,73.3h0.9M408.6,76.3h0.9M409.6,77.4h0.9M407.2,73.9h0.9M408.6,73.5h0.9M403.8,72.5h0.9M407.9,75.1h0.9M404.2,76.5h0.9M407.2,70.0h0.9M407.5,76.0h0.9M407.6,72.8h0.9M404.8,76.3h0.9M407.0,73.6h0.9M405.7,71.1h0.9M402.5,72.8h0.9M408.8,75.4h0.9M405.1,77.3h0.9M406.0,71.2h0.9M408.6,76.9h0.9M405.7,70.7h0.9M406.4,67.7h0.9M406.6,77.3h0.9M407.1,71.8h0.9M408.0,72.4h0.9M409.2,72.7h0.9M410.8,72.8h0.9M406.9,71.3h0.9M403.8,74.4h0.9M407.2,71.3h0.9M407.7,72.6h0.9M405.3,73.4h0.9M407.3,75.3h0.9M409.1,74.5h0.9M405.0,71.9h0.9M407.3,70.7h0.9M406.1,72.7h0.9M406.3,74.0h0.9M408.7,77.5h0.9M408.4,76.0h0.9M404.2,76.1h0.9M409.2,70.3h0.9M411.8,72.2h0.9M401.5,77.8h0.9M406.6,71.7h0.9M405.3,76.2h0.9M407.0,72.7h0.9M408.9,71.3h0.9M404.7,72.2h0.9M404.9,75.3h0.9M406.0,71.1h0.9M405.5,68.8h0.9M406.8,73.8h0.9M407.8,73.0h0.9M407.3,71.4h0.9M406.6,74.0h0.9M403.9,75.0h0.9M406.8,73.7h0.9" stroke="#0a28f0" stroke-width="0.90" opacity="1"/>
<path d="M402.9,84.7h0.9M405.9,78.1h0.9M403.7,81.1h0.9M405.7,78.0h0.9M403.5,82.0h0.9M404.4,82.6h0.9M406.2,77.1h0.9M405.9,81.1h0.9M404.7,79.0h0.9M403.4,81.6h0.9M404.3,81.0h0.9M405.7,79.5h0.9M405.8,79.5h0.9M404.2,78.5h0.9M403.2,81.4h0.9M406.5,78.8h0.9M405.7,80.9h0.9M407.1,78.1h0.9M406.1,77.6h0.9M403.2,83.1h0.9M403.7,76.9h0.9M405.1,82.1h0.9M406.1,74.7h0.9M402.9,80.2h0.9M405.6,82.7h0.9M403.2,83.0h0.9M404.4,81.4h0.9M403.6,83.8h0.9M406.5,74.5h0.9M404.7,80.3h0.9M406.2,78.4h0.9M406.0,77.1h0.9M404.9,80.1h0.9M404.0,84.1h0.9M402.5,80.4h0.9M406.7,77.4h0.9M405.3,80.0h0.9M403.4,81.3h0.9M406.8,82.4h0.9M405.1,82.9h0.9M404.2,82.3h0.9M404.1,80.1h0.9M404.8,83.5h0.9M405.1,79.2h0.9M405.8,80.0h0.9M404.6,82.0h0.9M403.6,81.8h0.9M405.9,79.5h0.9M404.4,77.9h0.9M404.3,82.3h0.9M402.4,80.9h0.9M406.4,77.3h0.9M405.8,81.3h0.9M406.6,77.8h0.9M403.1,81.8h0.9M406.5,81.5h0.9M405.4,78.8h0.9M402.4,81.7h0.9M404.0,83.0h0.9M403.5,82.3h0.9M403.9,81.1h0.9M407.4,78.9h0.9M406.2,80.4h0.9M404.0,80.1h0.9M406.6,78.5h0.9M405.4,78.5h0.9M404.5,79.2h0.9M406.6,79.1h0.9M406.9,79.6h0.9M403.5,82.3h0.9M407.3,79.0h0.9M406.9,77.4h0.9M405.1,78.9h0.9M407.1,77.2h0.9M405.2,78.1h0.9M406.4,77.1h0.9M401.2,86.3h0.9M406.8,76.4h0.9M407.3,77.2h0.9M401.6,83.3h0.9M407.3,78.5h0.9M403.6,80.7h0.9M406.9,82.3h0.9M407.0,77.4h0.9M402.9,80.2h0.9M406.2,80.7h0.9M404.0,83.3h0.9M403.3,82.3h0.9M406.7,78.8h0.9M405.2,80.3h0.9M406.7,77.9h0.9M404.9,80.1h0.9M405.2,80.1h0.9M405.6,79.6h0.9M403.7,82.3h0.9M404.8,79.0h0.9M405.2,76.9h0.9M405.7,80.1h0.9M404.7,81.0h0.9M404.4,81.6h0.9M406.9,81.6h0.9M403.4,83.9h0.9M407.4,76.3h0.9M406.5,81.0h0.9M407.2,77.6h0.9M404.8,78.1h0.9M406.8,77.5h0.9M403.6,82.0h0.9M404.4,80.0h0.9M405.7,75.5h0.9M405.2,79.7h0.9M402.8,81.8h0.9M405.3,82.5h0.9M405.6,77.0h0.9M405.0,80.4h0.9M405.5,78.5h0.9M404.7,77.8h0.9M405.5,78.8h0.9M407.3,80.0h0.9M406.1,79.1h0.9M405.9,77.6h0.9M406.0,76.2h0.9M401.7,82.4h0.9M403.7,80.6h0.9M405.6,78.6h0.9M406.5,79.0h0.9M406.0,79.3h0.9M405.4,82.7h0.9M404.3,82.7h0.9M404.4,83.9h0.9M406.4,76.2h0.9M405.2,80.7h0.9M405.0,79.4h0.9M406.0,76.9h0.9M407.8,78.8h0.9M405.4,75.8h0.9M404.3,79.6h0.9M406.3,82.0h0.9M405.5,76.7h0.9M404.0,79.3h0.9M406.6,79.2h0.9M405.3,85.3h0.9M407.3,74.9h0.9M406.5,80.2h0.9M405.1,82.6h0.9M404.0,79.7h0.9M406.1,78.3h0.9M406.1,80.0h0.9M403.1,84.3h0.9M404.0,84.0h0.9M404.1,82.4h0.9M404.2,80.0h0.9M408.3,75.2h0.9M406.0,79.6h0.9M406.2,80.9h0.9M406.2,76.9h0.9M409.1,79.4h0.9M405.5,78.1h0.9M404.7,80.4h0.9M402.8,82.0h0.9M404.4,81.3h0.9M403.3,77.9h0.9M405.2,78.9h0.9M404.2,80.5h0.9M406.5,77.8h0.9M402.4,80.9h0.9M403.9,82.4h0.9M406.3,80.1h0.9M403.9,78.6h0.9M403.3,82.7h0.9M402.5,81.5h0.9M404.0,78.0h0.9M404.2,77.8h0.9M404.4,80.7h0.9M403.9,81.4h0.9M407.0,81.1h0.9M404.1,79.1h0.9M405.4,79.1h0.9M405.5,83.2h0.9M406.9,82.0h0.9M402.4,78.6h0.9M406.6,78.3h0.9M403.7,81.9h0.9M406.3,77.4h0.9M407.2,72.4h0.9M406.3,77.1h0.9M406.2,77.1h0.9M404.6,78.4h0.9M409.3,78.3h0.9M404.4,78.2h0.9M405.7,82.3h0.9M406.2,79.5h0.9M406.0,78.2h0.9M405.7,78.0h0.9M404.5,77.0h0.9M407.0,81.7h0.9M404.5,79.4h0.9M403.6,82.7h0.9M405.7,78.5h0.9M405.7,81.0h0.9M405.1,77.9h0.9M406.8,76.1h0.9M403.3,82.0h0.9M405.2,83.0h0.9M405.2,78.4h0.9M405.3,78.7h0.9M406.8,80.0h0.9M407.3,78.8h0.9M404.2,84.0h0.9M404.9,78.1h0.9M405.9,75.9h0.9M405.4,78.3h0.9M408.0,79.7h0.9M402.0,81.4h0.9M406.3,80.3h0.9M404.9,81.8h0.9M404.5,79.9h0.9M403.9,84.0h0.9M406.6,81.0h0.9M402.9,81.6h0.9M404.1,82.8h0.9M405.1,80.4h0.9M406.6,78.5h0.9M402.5,85.2h0.9M403.4,81.9h0.9M405.2,82.2h0.9M407.9,77.3h0.9M408.0,75.4h0.9M405.0,80.8h0.9M405.4,83.0h0.9M404.4,79.0h0.9M405.6,78.3h0.9M404.9,78.1h0.9M405.3,83.7h0.9M404.5,84.3h0.9M406.2,77.4h0.9M404.3,80.2h0.9M405.3,83.3h0.9M403.4,81.9h0.9M404.1,81.2h0.9M404.9,83.9h0.9M404.4,80.4h0.9M406.0,79.2h0.9M404.8,81.4h0.9M403.9,77.8h0.9M407.3,82.0h0.9M406.2,75.4h0.9M403.7,80.8h0.9M405.5,81.3h0.9M406.4,78.8h0.9M407.9,77.9h0.9M406.0,79.6h0.9M402.5,81.5h0.9M404.3,81.6h0.9M406.4,80.9h0.9M404.7,79.2h0.9M403.8,83.4h0.9M404.7,84.1h0.9M406.7,78.5h0.9M405.4,82.7h0.9M404.6,81.0h0.9M405.9,76.8h0.9M404.4,81.8h0.9M406.8,74.5h0.9M403.4,82.3h0.9M404.5,82.8h0.9M404.7,78.7h0.9M404.8,77.7h0.9M405.6,80.5h0.9M404.4,80.5h0.9M404.1,78.5h0.9M404.9,75.8h0.9M404.7,76.8h0.9M405.7,83.9h0.9M407.1,79.1h0.9M406.9,77.5h0.9M404.4,80.4h0.9M403.3,79.8h0.9M407.7,75.3h0.9M402.7,78.3h0.9M404.9,80.3h0.9M403.4,80.9h0.9M406.0,78.3h0.9M406.8,81.3h0.9M404.4,84.7h0.9M404.8,79.3h0.9M403.5,78.7h0.9M403.5,86.2h0.9M405.6,80.7h0.9M404.5,77.4h0.9M404.4,75.9h0.9M405.0,80.8h0.9M404.4,79.1h0.9M403.8,81.2h0.9M406.4,78.9h0.9M405.8,76.9h0.9M402.7,85.1h0.9M404.4,82.1h0.9M404.5,83.8h0.9M405.6,77.7h0.9" stroke="#0a28f0" stroke-width="0.90" opacity="1"/>
<path d="M404.9,87.0h0.8M403.7,87.2h0.8M404.2,85.4h0.8M405.4,86.3h0.8M404.4,85.0h0.8M404.3,87.2h0.8M404.5,84.3h0.8M404.5,85.3h0.8M404.4,85.2h0.8M402.7,82.9h0.8M403.9,82.0h0.8M403.2,88.7h0.8M404.7,84.8h0.8M404.4,82.0h0.8M404.4,87.1h0.8M404.3,83.4h0.8M404.8,84.7h0.8M403.8,85.8h0.8M404.0,88.7h0.8M404.1,88.9h0.8M404.5,83.5h0.8M404.2,85.6h0.8M405.2,87.5h0.8M405.9,84.4h0.8M403.9,89.2h0.8M403.6,86.1h0.8M405.3,83.9h0.8M404.0,84.3h0.8M404.5,86.1h0.8M404.2,86.5h0.8M403.7,84.9h0.8M404.5,88.7h0.8M404.2,85.6h0.8M405.1,85.6h0.8M405.1,85.9h0.8M405.0,85.8h0.8M403.6,84.1h0.8M404.5,88.5h0.8M405.5,85.0h0.8M405.9,83.7h0.8M403.6,87.0h0.8M403.1,86.9h0.8M404.4,86.5h0.8M403.4,86.1h0.8M404.8,85.4h0.8M404.9,85.5h0.8M404.4,85.0h0.8M403.3,85.2h0.8M404.5,84.3h0.8M402.9,83.0h0.8M405.1,85.1h0.8M403.7,87.5h0.8M404.1,83.1h0.8M403.9,84.1h0.8M404.1,84.0h0.8M404.2,86.2h0.8M403.8,85.2h0.8M404.1,86.8h0.8M403.7,86.7h0.8M405.0,85.2h0.8M403.5,85.0h0.8M403.0,84.6h0.8M403.4,85.2h0.8M403.9,86.3h0.8M404.3,86.2h0.8M404.2,85.9h0.8M403.4,86.6h0.8M405.1,87.3h0.8M403.3,86.2h0.8M403.1,86.7h0.8M404.0,84.8h0.8M403.7,85.1h0.8M404.2,84.0h0.8M404.2,85.9h0.8M404.6,85.4h0.8M404.2,89.2h0.8M404.9,86.0h0.8M403.2,86.5h0.8M404.6,81.3h0.8M404.1,86.1h0.8" stroke="#0a28f0" stroke-width="0.80" opacity="1"/>
<path d="M409.1,71.2h0.6M408.6,74.5h0.6M409.9,70.3h0.6M408.4,76.2h0.6M406.8,69.7h0.6M409.8,71.4h0.6M409.7,74.4h0.6M411.8,72.1h0.6M409.1,70.8h0.6M408.4,73.5h0.6M405.9,68.4h0.6M407.8,68.6h0.6M407.2,74.0h0.6M403.4,72.4h0.6M405.7,70.4h0.6M407.6,68.5h0.6M405.3,71.2h0.6M401.7,65.7h0.6M408.0,73.7h0.6M413.5,70.3h0.6M407.0,70.3h0.6M410.1,73.3h0.6M406.6,72.2h0.6M408.9,73.9h0.6M408.0,70.5h0.6M406.9,67.7h0.6M409.6,72.8h0.6M411.7,71.7h0.6M407.8,68.7h0.6M406.1,69.2h0.6M409.8,71.2h0.6M403.3,70.7h0.6M408.3,68.4h0.6M408.9,72.3h0.6M406.4,67.6h0.6M408.2,71.7h0.6M408.3,74.9h0.6M409.3,68.5h0.6M410.9,69.4h0.6M410.7,71.2h0.6M412.0,68.5h0.6M410.8,72.1h0.6M406.7,72.8h0.6M414.6,71.9h0.6M407.1,70.6h0.6M412.2,71.6h0.6M412.6,69.4h0.6M412.2,67.1h0.6M408.6,70.3h0.6M407.8,74.1h0.6M407.5,71.9h0.6M413.6,73.1h0.6M408.0,69.2h0.6M404.0,71.9h0.6M411.2,73.8h0.6M409.6,76.4h0.6M410.9,65.2h0.6M406.8,73.0h0.6M408.0,73.1h0.6M415.3,69.1h0.6M414.5,70.8h0.6M405.3,71.2h0.6M411.2,69.5h0.6M412.9,68.8h0.6M408.5,73.3h0.6M408.5,69.6h0.6M408.9,72.6h0.6M413.3,74.4h0.6M413.6,70.9h0.6M404.9,70.9h0.6M408.0,68.5h0.6M407.7,70.8h0.6M409.1,73.3h0.6M406.7,73.9h0.6M409.1,72.8h0.6M412.1,67.9h0.6M413.0,69.2h0.6M410.0,73.7h0.6M411.3,67.1h0.6M409.4,73.8h0.6M408.7,70.8h0.6M409.2,75.1h0.6M407.6,68.6h0.6M406.2,69.7h0.6M408.4,71.9h0.6M408.8,66.7h0.6M405.1,72.7h0.6M410.8,67.6h0.6M411.3,64.9h0.6M414.8,72.5h0.6M404.9,72.3h0.6M408.9,69.9h0.6M408.1,70.4h0.6M408.7,68.7h0.6M407.6,72.4h0.6M410.3,67.7h0.6M407.8,74.9h0.6M410.8,75.1h0.6M405.6,68.4h0.6M403.6,66.1h0.6M408.1,68.4h0.6M406.3,69.3h0.6M408.5,73.1h0.6M410.4,66.6h0.6M412.7,70.2h0.6M406.5,70.9h0.6M408.0,67.5h0.6M412.9,69.6h0.6M407.5,72.3h0.6M413.2,72.2h0.6M406.7,72.1h0.6M411.8,72.0h0.6M410.6,69.8h0.6M408.8,66.8h0.6M407.2,68.2h0.6M409.0,74.7h0.6M403.4,67.7h0.6M406.7,70.8h0.6M411.9,69.1h0.6M407.0,74.0h0.6" stroke="#5070f0" stroke-width="0.60" opacity="0.9"/>
<circle cx="395.6" cy="65.6" r="1.1" fill="none" stroke="#f02020" stroke-width="0.5"/><circle cx="425.6" cy="65.6" r="1.1" fill="none" stroke="#f02020" stroke-width="0.5"/>
<text x="440.5" y="55.8" font-size="4.1" text-anchor="end" font-weight="bold" fill="#000" stroke="#000" stroke-width="0.12" font-family='"Liberation Sans", sans-serif' >Polarized  93.33%</text>
<text x="440.5" y="103.5" font-size="3.95" text-anchor="end" font-weight="bold" fill="#000" stroke="#000" stroke-width="0.12" font-family='"Liberation Sans", sans-serif' >Depolarized  6.67 %</text>
<text x="389.6" y="55.8" font-size="3.8" text-anchor="start" font-weight="bold" fill="#111" font-family='"Liberation Sans", sans-serif' >~%</text>
<text x="389.6" y="103.5" font-size="3.8" text-anchor="start" font-weight="bold" fill="#111" font-family='"Liberation Sans", sans-serif' >~%</text>
<text x="407.8" y="76.3" font-size="3.6" text-anchor="start" font-weight="normal" fill="#f22" font-family='"Liberation Sans", sans-serif' >R1 P3 SP2</text>
<text x="391.5" y="90.7" font-size="3.4" text-anchor="start" font-weight="normal" fill="#f22" font-family='"Liberation Sans", sans-serif' >P3 SP2</text>
<rect x="457.3" y="17.6" width="81.70" height="60.70" fill="#ababab" stroke="none" stroke-width="1" />
<g clip-path="url(#clP)">
<g filter="url(#blur05)"><ellipse cx="473" cy="34.8" rx="9.5" ry="6.2" transform="rotate(38 473 34.8)" fill="none" stroke="#b3b3b3" stroke-width="2"/><ellipse cx="473" cy="34.8" rx="9.5" ry="6.2" transform="rotate(38 473 34.8)" fill="none" stroke="#8c8c8c" stroke-width="0.9"/></g>
<line x1="507" y1="57" x2="524" y2="71" stroke="#9a9e9e" stroke-width="0.8" />
<g filter="url(#blurc)"><line x1="484.5" y1="41.8" x2="507" y2="57" stroke="#f47a7a" stroke-width="5" stroke-linecap="round"/><line x1="486" y1="43" x2="505.5" y2="56" stroke="#ff5050" stroke-width="2.2" stroke-linecap="round"/></g>
<path d="M498.2,37.2 L502,39.6 L496.2,44.4 Z" fill="#f00"/><path d="M491.3,51.3 L485.8,55.8 L488.4,57.8 Z" fill="#f00"/>
</g>
<text x="481.3" y="26.7" font-size="9.6" text-anchor="start" font-weight="normal" fill="#000" stroke="#000" stroke-width="0.12" font-family='"Liberation Serif", serif' >Polarized</text>
<line x1="511.8" y1="74" x2="535.5" y2="74" stroke="#111" stroke-width="1.3" />
<linearGradient id="dg" x1="0" y1="0" x2="0" y2="1"><stop offset="0" stop-color="#b2a5a5"/><stop offset="0.45" stop-color="#aba8a8"/><stop offset="1" stop-color="#a9aaa9"/></linearGradient>
<rect x="457.3" y="81" width="81.70" height="60.40" fill="url(#dg)" stroke="none" stroke-width="1" />
<g clip-path="url(#clD)"><g filter="url(#blur1)">
<ellipse cx="533" cy="81.5" rx="11" ry="3.6" fill="#ff5a5a"/>
<ellipse cx="466" cy="90" rx="14" ry="11" fill="#c4989c" opacity="0.55"/>
<ellipse cx="469" cy="109" rx="10" ry="8" fill="none" stroke="#b89e9e" stroke-width="1.5" opacity="0.7"/>
<path d="M478,113 Q495,112 512,109" stroke="#d09090" stroke-width="2.4" fill="none" opacity="0.8"/>
</g></g>
<text x="475.5" y="89.6" font-size="9.6" text-anchor="start" font-weight="normal" fill="#000" stroke="#000" stroke-width="0.12" font-family='"Liberation Serif", serif' >Depolarized</text>
<text x="517" y="134" font-size="6.0" text-anchor="start" font-weight="normal" fill="#000" font-family='"Liberation Serif", serif' >10μm</text>
<line x1="511" y1="140.6" x2="535" y2="140.6" stroke="#111" stroke-width="1.0" />
<line x1="420" y1="70.6" x2="459.2479143659448" y2="50.712043393041434" stroke="#151515" stroke-width="0.7" />
<path d="M464.60,48.00 L459.12,52.68 L459.43,50.62 L457.59,49.65 Z" fill="#151515"/>
<line x1="426.7" y1="93.3" x2="459.70085752654" y2="102.06053692070519" stroke="#151515" stroke-width="0.7" />
<path d="M465.50,103.60 L458.30,103.45 L459.89,102.11 L459.17,100.16 Z" fill="#151515"/>
<rect x="14.5" y="168.29999999999998" width="7.00" height="6.90" fill="#0030ff" stroke="none" stroke-width="1" />
<text x="25.6" y="175.2" font-size="9.2" text-anchor="start" font-weight="normal" fill="#000" stroke="#000" stroke-width="0.12" font-family='"Liberation Serif", serif' >Traditional EEJ_Lanyu miniature pig (fresh semen, n=12)</text>
<path d="M14.6,186.6 L20.3,181.6 M18.3,188.3 L21.5,185.1" stroke="#0030ff" stroke-width="1.9" stroke-linecap="round"/>
<text x="25.2" y="188.5" font-size="9.2" text-anchor="start" font-weight="normal" fill="#000" stroke="#000" stroke-width="0.12" font-family='"Liberation Serif", serif' >Traditional EEJ_Lanyu miniature pig (cryopreserved semen, n=11)</text>
<rect x="14.5" y="194.9" width="7.00" height="6.90" fill="#ff0000" stroke="none" stroke-width="1" />
<text x="27.5" y="201.8" font-size="9.2" text-anchor="start" font-weight="normal" fill="#000" stroke="#000" stroke-width="0.12" font-family='"Liberation Serif", serif' >LV_ EEJ_Lanyu miniature pig (fresh semen, n=16)</text>
<path d="M14.6,213.2 L20.3,208.2 M18.3,214.9 L21.5,211.7" stroke="#ff0000" stroke-width="1.9" stroke-linecap="round"/>
<text x="27.5" y="215.1" font-size="9.2" text-anchor="start" font-weight="normal" fill="#000" stroke="#000" stroke-width="0.12" font-family='"Liberation Serif", serif' >LV_ EEJ_Lanyu miniature pig (cryopreserved semen, n=11)</text>
<rect x="284.0" y="168.29999999999998" width="7.00" height="6.90" fill="#0030ff" stroke="none" stroke-width="1" />
<text x="295.1" y="175.2" font-size="9.2" text-anchor="start" font-weight="normal" fill="#000" stroke="#000" stroke-width="0.12" font-family='"Liberation Serif", serif' >Traditional EEJ_Lanyu miniature pig (fresh semen, n=12)</text>
<path d="M284.1,186.6 L289.8,181.6 M287.8,188.3 L291.0,185.1" stroke="#0030ff" stroke-width="1.9" stroke-linecap="round"/>
<text x="294.7" y="188.5" font-size="9.2" text-anchor="start" font-weight="normal" fill="#000" stroke="#000" stroke-width="0.12" font-family='"Liberation Serif", serif' >Traditional EEJ_Lanyu miniature pig (cryopreserved semen, n=11)</text>
<rect x="284.0" y="194.9" width="7.00" height="6.90" fill="#ff0000" stroke="none" stroke-width="1" />
<text x="297.0" y="201.8" font-size="9.2" text-anchor="start" font-weight="normal" fill="#000" stroke="#000" stroke-width="0.12" font-family='"Liberation Serif", serif' >LV_ EEJ_Lanyu miniature pig (fresh semen, n=16)</text>
<path d="M284.1,213.2 L289.8,208.2 M287.8,214.9 L291.0,211.7" stroke="#ff0000" stroke-width="1.9" stroke-linecap="round"/>
<text x="297.0" y="215.1" font-size="9.2" text-anchor="start" font-weight="normal" fill="#000" stroke="#000" stroke-width="0.12" font-family='"Liberation Serif", serif' >LV_ EEJ_Lanyu miniature pig (cryopreserved semen, n=11)</text>
<line x1="40.7" y1="264.4" x2="40.7" y2="379.5" stroke="#8c8c8c" stroke-width="1" />
<line x1="40.2" y1="379.5" x2="236.5" y2="379.5" stroke="#8c8c8c" stroke-width="1.4" />
<line x1="38.400000000000006" y1="379.5" x2="40.7" y2="379.5" stroke="#8c8c8c" stroke-width="0.8" />
<text x="35.1" y="382.1" font-size="7.4" text-anchor="end" font-weight="normal" fill="#000" stroke="#000" stroke-width="0.1" font-family='"Liberation Serif", serif' >0</text>
<line x1="38.400000000000006" y1="356.58" x2="40.7" y2="356.58" stroke="#8c8c8c" stroke-width="0.8" />
<text x="35.1" y="359.18" font-size="7.4" text-anchor="end" font-weight="normal" fill="#000" stroke="#000" stroke-width="0.1" font-family='"Liberation Serif", serif' >20</text>
<line x1="38.400000000000006" y1="333.66" x2="40.7" y2="333.66" stroke="#8c8c8c" stroke-width="0.8" />
<text x="35.1" y="336.26000000000005" font-size="7.4" text-anchor="end" font-weight="normal" fill="#000" stroke="#000" stroke-width="0.1" font-family='"Liberation Serif", serif' >40</text>
<line x1="38.400000000000006" y1="310.74" x2="40.7" y2="310.74" stroke="#8c8c8c" stroke-width="0.8" />
<text x="35.1" y="313.34000000000003" font-size="7.4" text-anchor="end" font-weight="normal" fill="#000" stroke="#000" stroke-width="0.1" font-family='"Liberation Serif", serif' >60</text>
<line x1="38.400000000000006" y1="287.82" x2="40.7" y2="287.82" stroke="#8c8c8c" stroke-width="0.8" />
<text x="35.1" y="290.42" font-size="7.4" text-anchor="end" font-weight="normal" fill="#000" stroke="#000" stroke-width="0.1" font-family='"Liberation Serif", serif' >80</text>
<line x1="38.400000000000006" y1="264.9" x2="40.7" y2="264.9" stroke="#8c8c8c" stroke-width="0.8" />
<text x="35.1" y="267.5" font-size="7.4" text-anchor="end" font-weight="normal" fill="#000" stroke="#000" stroke-width="0.1" font-family='"Liberation Serif", serif' >100</text>
<text x="23.500000000000004" y="255.59999999999997" font-size="7.6" text-anchor="start" font-weight="normal" fill="#000" stroke="#000" stroke-width="0.1" font-family='"Liberation Serif", serif' >(%)</text>
<text x="0" y="0" transform="translate(21.7,315.2) rotate(-90)" font-size="9.1" text-anchor="middle" font-weight="normal" fill="#000" stroke="#000" stroke-width="0.1" font-family='"Liberation Serif", serif'>Acrosome intact</text>
<rect x="41.8" y="317.3868" width="30.20" height="62.11" fill="#0030ff" stroke="none" stroke-width="1" />
<rect x="75" y="313.3758" width="30.80" height="66.12" fill="url(#hb)" stroke="none" stroke-width="1" />
<rect x="172.2" y="278.65200000000004" width="30.50" height="100.85" fill="#ff0000" stroke="none" stroke-width="1" />
<rect x="205.7" y="284.4966" width="30.30" height="95.00" fill="url(#hr)" stroke="none" stroke-width="1" />
<line x1="57.3" y1="317.3868" x2="57.3" y2="308.448" stroke="#8a8a8a" stroke-width="0.8" />
<line x1="55.8" y1="308.448" x2="58.8" y2="308.448" stroke="#8a8a8a" stroke-width="0.8" />
<line x1="90.4" y1="313.3758" x2="90.4" y2="312.6882" stroke="#8a8a8a" stroke-width="0.8" />
<line x1="88.9" y1="312.6882" x2="91.9" y2="312.6882" stroke="#8a8a8a" stroke-width="0.8" />
<line x1="187.7" y1="278.65200000000004" x2="187.7" y2="269.48400000000004" stroke="#8a8a8a" stroke-width="0.8" />
<line x1="186.2" y1="269.48400000000004" x2="189.2" y2="269.48400000000004" stroke="#8a8a8a" stroke-width="0.8" />
<line x1="220.8" y1="284.4966" x2="220.8" y2="283.9236" stroke="#8a8a8a" stroke-width="0.8" />
<line x1="219.3" y1="283.9236" x2="222.3" y2="283.9236" stroke="#8a8a8a" stroke-width="0.8" />
<text x="57.2" y="306.7" font-size="7.8" text-anchor="middle" font-weight="normal" fill="#000" stroke="#000" stroke-width="0.1" font-family='"Liberation Serif", serif' >54.2</text>
<text x="90" y="306.7" font-size="7.8" text-anchor="middle" font-weight="normal" fill="#000" stroke="#000" stroke-width="0.1" font-family='"Liberation Serif", serif' >57.7</text>
<text x="187.2" y="266.4" font-size="7.8" text-anchor="middle" font-weight="normal" fill="#000" stroke="#000" stroke-width="0.1" font-family='"Liberation Serif", serif' >88.0</text>
<text x="221.4" y="277.7" font-size="7.8" text-anchor="middle" font-weight="normal" fill="#000" stroke="#000" stroke-width="0.1" font-family='"Liberation Serif", serif' >82.9</text>
<path d="M57,297.90000000000003 V295.6 H91.9 V297.90000000000003" stroke="#3a3a3a" stroke-width="1.05" fill="none"/>
<text x="75" y="292.8" font-size="7.6" text-anchor="middle" font-weight="normal" fill="#000" stroke="#000" stroke-width="0.1" font-family='"Liberation Serif", serif' >n.s.</text>
<path d="M187.4,256.4 V254.1 H222.2 V256.4" stroke="#3a3a3a" stroke-width="1.05" fill="none"/>
<text x="205.7" y="251.5" font-size="7.6" text-anchor="middle" font-weight="normal" fill="#000" stroke="#000" stroke-width="0.1" font-family='"Liberation Serif", serif' >n.s.</text>
<path d="M56.4,245.10000000000002 V242.8 H187.4 V245.10000000000002" stroke="#3a3a3a" stroke-width="1.05" fill="none"/>
<path d="M125.30,235.85L125.30,239.55M123.70,236.77L126.90,238.62M126.90,236.77L123.70,238.62" stroke="#111" stroke-width="0.95" stroke-linecap="round"/>
<circle cx="125.3" cy="237.7" r="0.85" fill="#111"/>
<path d="M91.6,232.8 V230.5 H222.4 V232.8" stroke="#3a3a3a" stroke-width="1.05" fill="none"/>
<path d="M160.20,223.55L160.20,227.25M158.60,224.47L161.80,226.33M161.80,224.47L158.60,226.33" stroke="#111" stroke-width="0.95" stroke-linecap="round"/>
<circle cx="160.2" cy="225.4" r="0.85" fill="#111"/>
<text x="96.9" y="394.1" font-size="10.56" text-anchor="start" font-weight="normal" fill="#000" stroke="#000" stroke-width="0.12" font-family='"Liberation Serif", serif' >Acrosome integrity</text>
<line x1="313" y1="264.4" x2="313" y2="379.5" stroke="#8c8c8c" stroke-width="1" />
<line x1="312.5" y1="379.5" x2="507.5" y2="379.5" stroke="#8c8c8c" stroke-width="1.4" />
<line x1="310.7" y1="379.5" x2="313" y2="379.5" stroke="#8c8c8c" stroke-width="0.8" />
<text x="307.4" y="382.1" font-size="7.4" text-anchor="end" font-weight="normal" fill="#000" stroke="#000" stroke-width="0.1" font-family='"Liberation Serif", serif' >0</text>
<line x1="310.7" y1="356.58" x2="313" y2="356.58" stroke="#8c8c8c" stroke-width="0.8" />
<text x="307.4" y="359.18" font-size="7.4" text-anchor="end" font-weight="normal" fill="#000" stroke="#000" stroke-width="0.1" font-family='"Liberation Serif", serif' >20</text>
<line x1="310.7" y1="333.66" x2="313" y2="333.66" stroke="#8c8c8c" stroke-width="0.8" />
<text x="307.4" y="336.26000000000005" font-size="7.4" text-anchor="end" font-weight="normal" fill="#000" stroke="#000" stroke-width="0.1" font-family='"Liberation Serif", serif' >40</text>
<line x1="310.7" y1="310.74" x2="313" y2="310.74" stroke="#8c8c8c" stroke-width="0.8" />
<text x="307.4" y="313.34000000000003" font-size="7.4" text-anchor="end" font-weight="normal" fill="#000" stroke="#000" stroke-width="0.1" font-family='"Liberation Serif", serif' >60</text>
<line x1="310.7" y1="287.82" x2="313" y2="287.82" stroke="#8c8c8c" stroke-width="0.8" />
<text x="307.4" y="290.42" font-size="7.4" text-anchor="end" font-weight="normal" fill="#000" stroke="#000" stroke-width="0.1" font-family='"Liberation Serif", serif' >80</text>
<line x1="310.7" y1="264.9" x2="313" y2="264.9" stroke="#8c8c8c" stroke-width="0.8" />
<text x="307.4" y="267.5" font-size="7.4" text-anchor="end" font-weight="normal" fill="#000" stroke="#000" stroke-width="0.1" font-family='"Liberation Serif", serif' >100</text>
<text x="293.7" y="255.59999999999997" font-size="7.6" text-anchor="start" font-weight="normal" fill="#000" stroke="#000" stroke-width="0.1" font-family='"Liberation Serif", serif' >(%)</text>
<text x="0" y="0" transform="translate(292.8,320.5) rotate(-90)" font-size="9.1" text-anchor="middle" font-weight="normal" fill="#000" stroke="#000" stroke-width="0.1" font-family='"Liberation Serif", serif'>Polarized</text>
<rect x="314.2" y="301.2282" width="29.60" height="78.27" fill="#0030ff" stroke="none" stroke-width="1" />
<rect x="346.8" y="360.4764" width="30.40" height="19.02" fill="url(#hb2)" stroke="none" stroke-width="1" />
<rect x="444" y="297.56100000000004" width="30.00" height="81.94" fill="#ff2200" stroke="none" stroke-width="1" />
<rect x="476.9" y="365.6334" width="31.00" height="13.87" fill="url(#hr2)" stroke="none" stroke-width="1" />
<line x1="329" y1="301.2282" x2="329" y2="290.2266" stroke="#8a8a8a" stroke-width="0.8" />
<line x1="327.5" y1="290.2266" x2="330.5" y2="290.2266" stroke="#8a8a8a" stroke-width="0.8" />
<line x1="362" y1="360.4764" x2="362" y2="359.6742" stroke="#8a8a8a" stroke-width="0.8" />
<line x1="360.5" y1="359.6742" x2="363.5" y2="359.6742" stroke="#8a8a8a" stroke-width="0.8" />
<line x1="459" y1="297.56100000000004" x2="459" y2="293.55" stroke="#8a8a8a" stroke-width="0.8" />
<line x1="457.5" y1="293.55" x2="460.5" y2="293.55" stroke="#8a8a8a" stroke-width="0.8" />
<line x1="492.3" y1="365.6334" x2="492.3" y2="364.8312" stroke="#8a8a8a" stroke-width="0.8" />
<line x1="490.8" y1="364.8312" x2="493.8" y2="364.8312" stroke="#8a8a8a" stroke-width="0.8" />
<text x="327.8" y="286.6" font-size="7.8" text-anchor="middle" font-weight="normal" fill="#000" stroke="#000" stroke-width="0.1" font-family='"Liberation Serif", serif' >68.3</text>
<text x="362" y="355.6" font-size="7.8" text-anchor="middle" font-weight="normal" fill="#000" stroke="#000" stroke-width="0.1" font-family='"Liberation Serif", serif' >16.6</text>
<text x="458.9" y="291" font-size="7.8" text-anchor="middle" font-weight="normal" fill="#000" stroke="#000" stroke-width="0.1" font-family='"Liberation Serif", serif' >71.5</text>
<text x="492.1" y="360.9" font-size="7.8" text-anchor="middle" font-weight="normal" fill="#000" stroke="#000" stroke-width="0.1" font-family='"Liberation Serif", serif' >12.1</text>
<path d="M327.7,278.7 V276.4 H362.3 V278.7" stroke="#3a3a3a" stroke-width="1.05" fill="none"/>
<path d="M345.90,269.55L345.90,273.25M344.30,270.47L347.50,272.32M347.50,270.47L344.30,272.32" stroke="#111" stroke-width="0.95" stroke-linecap="round"/>
<circle cx="345.9" cy="271.4" r="0.85" fill="#111"/>
<path d="M458.9,279.1 V276.8 H493.2 V279.1" stroke="#3a3a3a" stroke-width="1.05" fill="none"/>
<path d="M476.50,269.55L476.50,273.25M474.90,270.47L478.10,272.32M478.10,270.47L474.90,272.32" stroke="#111" stroke-width="0.95" stroke-linecap="round"/>
<circle cx="476.5" cy="271.4" r="0.85" fill="#111"/>
<path d="M329.2,260.3 V258 H460.3 V260.3" stroke="#3a3a3a" stroke-width="1.05" fill="none"/>
<text x="399" y="253.5" font-size="7.6" text-anchor="middle" font-weight="normal" fill="#000" stroke="#000" stroke-width="0.1" font-family='"Liberation Serif", serif' >n.s.</text>
<path d="M358.9,245.3 V243 H490.2 V245.3" stroke="#3a3a3a" stroke-width="1.05" fill="none"/>
<text x="427.3" y="238.5" font-size="7.6" text-anchor="middle" font-weight="normal" fill="#000" stroke="#000" stroke-width="0.1" font-family='"Liberation Serif", serif' >n.s.</text>
<text x="339.5" y="393.5" font-size="10.59" text-anchor="start" font-weight="normal" fill="#000" stroke="#000" stroke-width="0.12" font-family='"Liberation Serif", serif' >Mitochondria membrane potential</text>
</svg></body></html>
